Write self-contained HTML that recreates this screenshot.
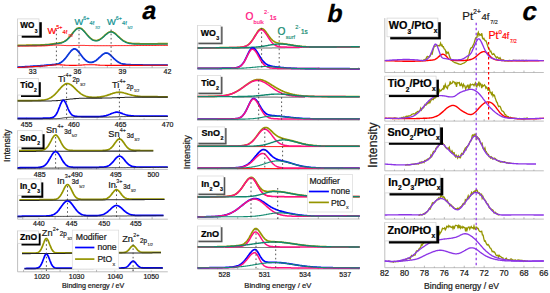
<!DOCTYPE html>
<html><head><meta charset="utf-8"><style>
html,body{margin:0;padding:0;background:#fff;overflow:hidden;}
svg{display:block;font-family:"Liberation Sans", sans-serif;}
</style></head><body>
<svg width="550" height="293" viewBox="0 0 550 293">
<rect width="550" height="293" fill="#fff"/>
<g transform="translate(141.00 18.60) skewX(-12)">
<text x="0.00" y="0.00" font-size="25" stroke="#000" stroke-width="0.22" font-weight="bold">a</text>
</g>
<g transform="translate(326.00 21.80) skewX(-12)">
<text x="0.00" y="0.00" font-size="25" stroke="#000" stroke-width="0.22" font-weight="bold">b</text>
</g>
<g transform="translate(520.90 19.60) skewX(-12)">
<text x="0.00" y="0.00" font-size="26" stroke="#000" stroke-width="0.22" font-weight="bold">c</text>
</g>
<line x1="17.60" y1="19.00" x2="17.60" y2="67.80" stroke="#b8b8b8" stroke-width="0.9"/>
<line x1="17.60" y1="67.80" x2="167.80" y2="67.80" stroke="#b8b8b8" stroke-width="0.9"/>
<line x1="40.17" y1="67.80" x2="40.17" y2="66.60" stroke="#9a9a9a" stroke-width="0.7"/>
<line x1="62.56" y1="67.80" x2="62.56" y2="65.80" stroke="#9a9a9a" stroke-width="0.7"/>
<line x1="84.95" y1="67.80" x2="84.95" y2="66.60" stroke="#9a9a9a" stroke-width="0.7"/>
<line x1="107.35" y1="67.80" x2="107.35" y2="65.80" stroke="#9a9a9a" stroke-width="0.7"/>
<line x1="129.75" y1="67.80" x2="129.75" y2="66.60" stroke="#9a9a9a" stroke-width="0.7"/>
<line x1="152.14" y1="67.80" x2="152.14" y2="65.80" stroke="#9a9a9a" stroke-width="0.7"/>
<path d="M17.6 45.3 18.4 45.3 19.1 45.3 19.9 45.2 20.6 45.2 21.4 45.2 22.1 45.2 22.9 45.2 23.6 45.2 24.4 45.2 25.1 45.2 25.9 45.2 26.6 45.1 27.4 45.1 28.1 45.1 28.9 45.1 29.6 45.1 30.4 45.1 31.1 45.1 31.9 45.1 32.6 45.0 33.4 45.0 34.1 45.0 34.9 45.0 35.6 45.0 36.4 45.0 37.1 44.9 37.9 44.9 38.6 44.9 39.4 44.9 40.1 44.9 40.9 44.8 41.6 44.8 42.4 44.8 43.1 44.8 43.9 44.7 44.6 44.7 45.4 44.6 46.1 44.6 46.9 44.5 47.6 44.4 48.4 44.4 49.1 44.3 49.9 44.2 50.6 44.1 51.4 44.0 52.1 43.9 52.9 43.8 53.6 43.7 54.4 43.6 55.2 43.5 55.9 43.4 56.7 43.3 57.4 43.2 58.2 43.1 58.9 43.0 59.7 42.8 60.4 42.7 61.2 42.5 61.9 42.3 62.7 42.0 63.4 41.7 64.2 41.3 64.9 40.9 65.7 40.4 66.4 39.9 67.2 39.2 67.9 38.5 68.7 37.8 69.4 37.0 70.2 36.1 70.9 35.2 71.7 34.2 72.4 33.3 73.2 32.3 73.9 31.4 74.7 30.6 75.4 29.8 76.2 29.1 76.9 28.5 77.7 28.1 78.4 27.9 79.2 27.8 79.9 27.9 80.7 28.1 81.4 28.5 82.2 29.1 82.9 29.8 83.7 30.5 84.4 31.4 85.2 32.2 85.9 33.1 86.7 34.1 87.4 34.9 88.2 35.8 88.9 36.6 89.7 37.3 90.4 38.0 91.2 38.6 91.9 39.2 92.7 39.6 93.5 39.9 94.2 40.2 95.0 40.3 95.7 40.4 96.5 40.4 97.2 40.3 98.0 40.1 98.7 39.8 99.5 39.5 100.2 39.0 101.0 38.5 101.7 38.0 102.5 37.3 103.2 36.7 104.0 36.0 104.7 35.3 105.5 34.6 106.2 34.0 107.0 33.4 107.7 32.8 108.5 32.3 109.2 31.9 110.0 31.7 110.7 31.5 111.5 31.5 112.2 31.7 113.0 32.0 113.7 32.4 114.5 32.8 115.2 33.4 116.0 34.1 116.7 34.8 117.5 35.5 118.2 36.2 119.0 36.9 119.7 37.6 120.5 38.3 121.2 38.9 122.0 39.5 122.7 40.1 123.5 40.6 124.2 41.0 125.0 41.4 125.7 41.8 126.5 42.1 127.2 42.4 128.0 42.6 128.7 42.8 129.5 43.0 130.3 43.1 131.0 43.2 131.8 43.3 132.5 43.4 133.3 43.4 134.0 43.5 134.8 43.5 135.5 43.6 136.3 43.6 137.0 43.6 137.8 43.6 138.5 43.6 139.3 43.6 140.0 43.7 140.8 43.7 141.5 43.7 142.3 43.7 143.0 43.7 143.8 43.7 144.5 43.7 145.3 43.7 146.0 43.7 146.8 43.7 147.5 43.7 148.3 43.7 149.0 43.7 149.8 43.7 150.5 43.7 151.3 43.7 152.0 43.7 152.8 43.7 153.5 43.7 154.3 43.7 155.0 43.7 155.8 43.7 156.5 43.7 157.3 43.7 158.0 43.6 158.8 43.6 159.5 43.6 160.3 43.6 161.0 43.6 161.8 43.6 162.5 43.6 163.3 43.6 164.0 43.6 164.8 43.6 165.5 43.6 166.3 43.6 167.0 43.6 167.8 43.6" stroke="#959500" stroke-width="1.5" fill="none"/>
<path d="M17.6 45.8 18.4 45.8 19.1 45.8 19.9 45.7 20.6 45.7 21.4 45.7 22.1 45.7 22.9 45.7 23.6 45.7 24.4 45.7 25.1 45.7 25.9 45.7 26.6 45.6 27.4 45.6 28.1 45.6 28.9 45.6 29.6 45.6 30.4 45.6 31.1 45.6 31.9 45.6 32.6 45.5 33.4 45.5 34.1 45.5 34.9 45.5 35.6 45.5 36.4 45.5 37.1 45.4 37.9 45.4 38.6 45.4 39.4 45.4 40.1 45.4 40.9 45.3 41.6 45.3 42.4 45.3 43.1 45.3 43.9 45.2 44.6 45.2 45.4 45.1 46.1 45.1 46.9 45.0 47.6 44.9 48.4 44.9 49.1 44.8 49.9 44.7 50.6 44.6 51.4 44.5 52.1 44.4 52.9 44.3 53.6 44.2 54.4 44.1 55.2 44.0 55.9 43.9 56.7 43.8 57.4 43.7 58.2 43.6 58.9 43.5 59.7 43.3 60.4 43.2 61.2 43.0 61.9 42.8 62.7 42.5 63.4 42.2 64.2 41.8 64.9 41.4 65.7 40.9 66.4 40.4 67.2 39.7 67.9 39.0 68.7 38.3 69.4 37.5 70.2 36.6 70.9 35.7 71.7 34.7 72.4 33.8 73.2 32.8 73.9 31.9 74.7 31.1 75.4 30.3 76.2 29.6 76.9 29.0 77.7 28.6 78.4 28.4 79.2 28.3 79.9 28.4 80.7 28.6 81.4 29.0 82.2 29.6 82.9 30.3 83.7 31.0 84.4 31.9 85.2 32.7 85.9 33.6 86.7 34.6 87.4 35.4 88.2 36.3 88.9 37.1 89.7 37.8 90.4 38.5 91.2 39.1 91.9 39.7 92.7 40.1 93.5 40.4 94.2 40.7 95.0 40.8 95.7 40.9 96.5 40.9 97.2 40.8 98.0 40.6 98.7 40.3 99.5 40.0 100.2 39.5 101.0 39.0 101.7 38.5 102.5 37.8 103.2 37.2 104.0 36.5 104.7 35.8 105.5 35.1 106.2 34.5 107.0 33.9 107.7 33.3 108.5 32.8 109.2 32.4 110.0 32.2 110.7 32.0 111.5 32.0 112.2 32.2 113.0 32.5 113.7 32.9 114.5 33.3 115.2 33.9 116.0 34.6 116.7 35.3 117.5 36.0 118.2 36.7 119.0 37.4 119.7 38.1 120.5 38.8 121.2 39.4 122.0 40.0 122.7 40.6 123.5 41.1 124.2 41.5 125.0 41.9 125.7 42.3 126.5 42.6 127.2 42.9 128.0 43.1 128.7 43.3 129.5 43.5 130.3 43.6 131.0 43.7 131.8 43.8 132.5 43.9 133.3 43.9 134.0 44.0 134.8 44.0 135.5 44.1 136.3 44.1 137.0 44.1 137.8 44.1 138.5 44.1 139.3 44.1 140.0 44.2 140.8 44.2 141.5 44.2 142.3 44.2 143.0 44.2 143.8 44.2 144.5 44.2 145.3 44.2 146.0 44.2 146.8 44.2 147.5 44.2 148.3 44.2 149.0 44.2 149.8 44.2 150.5 44.2 151.3 44.2 152.0 44.2 152.8 44.2 153.5 44.2 154.3 44.2 155.0 44.2 155.8 44.2 156.5 44.2 157.3 44.2 158.0 44.1 158.8 44.1 159.5 44.1 160.3 44.1 161.0 44.1 161.8 44.1 162.5 44.1 163.3 44.1 164.0 44.1 164.8 44.1 165.5 44.1 166.3 44.1 167.0 44.1 167.8 44.1" stroke="#12876e" stroke-width="1.3" fill="none"/>
<path d="M17.6 46.1 18.4 46.1 19.1 46.1 19.9 46.1 20.6 46.1 21.4 46.1 22.1 46.1 22.9 46.1 23.6 46.1 24.4 46.1 25.1 46.1 25.9 46.1 26.6 46.1 27.4 46.1 28.1 46.1 28.9 46.0 29.6 46.0 30.4 46.0 31.1 46.0 31.9 46.0 32.6 46.0 33.4 46.0 34.1 46.0 34.9 46.0 35.6 46.0 36.4 46.0 37.1 46.0 37.9 46.0 38.6 46.0 39.4 46.0 40.1 46.0 40.9 46.0 41.6 46.0 42.4 45.9 43.1 45.9 43.9 45.9 44.6 45.9 45.4 45.8 46.1 45.8 46.9 45.7 47.6 45.7 48.4 45.6 49.1 45.6 49.9 45.5 50.6 45.4 51.4 45.4 52.1 45.3 52.9 45.3 53.6 45.2 54.4 45.2 55.2 45.1 55.9 45.1 56.7 45.1 57.4 45.1 58.2 45.1 58.9 45.2 59.7 45.2 60.4 45.2 61.2 45.3 61.9 45.3 62.7 45.4 63.4 45.4 64.2 45.5 64.9 45.5 65.7 45.5 66.4 45.6 67.2 45.6 67.9 45.6 68.7 45.6 69.4 45.6 70.2 45.6 70.9 45.6 71.7 45.6 72.4 45.6 73.2 45.5 73.9 45.5 74.7 45.5 75.4 45.5 76.2 45.5 76.9 45.4 77.7 45.4 78.4 45.4 79.2 45.4 79.9 45.4 80.7 45.4 81.4 45.4 82.2 45.4 82.9 45.4 83.7 45.4 84.4 45.4 85.2 45.5 85.9 45.5 86.7 45.5 87.4 45.5 88.2 45.5 88.9 45.6 89.7 45.6 90.4 45.6 91.2 45.6 91.9 45.6 92.7 45.6 93.5 45.6 94.2 45.7 95.0 45.7 95.7 45.7 96.5 45.7 97.2 45.7 98.0 45.7 98.7 45.7 99.5 45.7 100.2 45.7 101.0 45.7 101.7 45.7 102.5 45.7 103.2 45.7 104.0 45.7 104.7 45.7 105.5 45.7 106.2 45.7 107.0 45.7 107.7 45.7 108.5 45.7 109.2 45.7 110.0 45.7 110.7 45.7 111.5 45.7 112.2 45.7 113.0 45.7 113.7 45.7 114.5 45.6 115.2 45.6 116.0 45.6 116.7 45.6 117.5 45.6 118.2 45.6 119.0 45.6 119.7 45.6 120.5 45.6 121.2 45.6 122.0 45.6 122.7 45.6 123.5 45.6 124.2 45.6 125.0 45.6 125.7 45.6 126.5 45.6 127.2 45.6 128.0 45.6 128.7 45.6 129.5 45.6 130.3 45.6 131.0 45.6 131.8 45.6 132.5 45.6 133.3 45.6 134.0 45.6 134.8 45.6 135.5 45.6 136.3 45.5 137.0 45.5 137.8 45.5 138.5 45.5 139.3 45.5 140.0 45.5 140.8 45.5 141.5 45.5 142.3 45.5 143.0 45.5 143.8 45.5 144.5 45.5 145.3 45.5 146.0 45.5 146.8 45.5 147.5 45.5 148.3 45.5 149.0 45.5 149.8 45.5 150.5 45.5 151.3 45.5 152.0 45.5 152.8 45.5 153.5 45.5 154.3 45.5 155.0 45.5 155.8 45.5 156.5 45.5 157.3 45.4 158.0 45.4 158.8 45.4 159.5 45.4 160.3 45.4 161.0 45.4 161.8 45.4 162.5 45.4 163.3 45.4 164.0 45.4 164.8 45.4 165.5 45.4 166.3 45.4 167.0 45.4 167.8 45.4" stroke="#ff0000" stroke-width="1.0" fill="none"/>
<path d="M17.6 67.2 18.4 67.1 19.1 67.1 19.9 67.1 20.6 67.0 21.4 67.0 22.1 66.9 22.9 66.9 23.6 66.8 24.4 66.8 25.1 66.7 25.9 66.7 26.6 66.6 27.4 66.6 28.1 66.5 28.9 66.5 29.6 66.5 30.4 66.4 31.1 66.4 31.9 66.3 32.6 66.3 33.4 66.2 34.1 66.2 34.9 66.1 35.6 66.1 36.4 66.0 37.1 66.0 37.9 65.9 38.6 65.9 39.4 65.8 40.1 65.8 40.9 65.7 41.6 65.6 42.4 65.6 43.1 65.5 43.9 65.5 44.6 65.4 45.4 65.4 46.1 65.3 46.9 65.2 47.6 65.2 48.4 65.1 49.1 65.1 49.9 65.0 50.6 64.9 51.4 64.8 52.1 64.7 52.9 64.7 53.6 64.6 54.4 64.5 55.2 64.4 55.9 64.3 56.7 64.2 57.4 64.0 58.2 63.7 58.9 63.5 59.7 63.1 60.4 62.8 61.2 62.3 61.9 61.8 62.7 61.2 63.4 60.5 64.2 59.7 64.9 58.9 65.7 58.0 66.4 57.1 67.2 56.0 67.9 55.0 68.7 54.0 69.4 52.9 70.2 52.0 70.9 51.1 71.7 50.3 72.4 49.7 73.2 49.2 73.9 48.9 74.7 48.9 75.4 49.1 76.2 49.5 76.9 50.0 77.7 50.8 78.4 51.6 79.2 52.5 79.9 53.5 80.7 54.5 81.4 55.6 82.2 56.5 82.9 57.5 83.7 58.4 84.4 59.2 85.2 59.9 85.9 60.5 86.7 61.1 87.4 61.5 88.2 61.9 88.9 62.1 89.7 62.3 90.4 62.4 91.2 62.4 91.9 62.3 92.7 62.1 93.5 61.9 94.2 61.5 95.0 61.1 95.7 60.7 96.5 60.1 97.2 59.5 98.0 58.9 98.7 58.2 99.5 57.5 100.2 56.8 101.0 56.0 101.7 55.4 102.5 54.7 103.2 54.1 104.0 53.7 104.7 53.3 105.5 53.1 106.2 53.0 107.0 53.1 107.7 53.3 108.5 53.6 109.2 54.1 110.0 54.7 110.7 55.3 111.5 56.0 112.2 56.8 113.0 57.5 113.7 58.3 114.5 59.0 115.2 59.7 116.0 60.3 116.7 60.9 117.5 61.5 118.2 62.0 119.0 62.4 119.7 62.8 120.5 63.2 121.2 63.5 122.0 63.7 122.7 63.9 123.5 64.1 124.2 64.2 125.0 64.3 125.7 64.4 126.5 64.5 127.2 64.6 128.0 64.6 128.7 64.7 129.5 64.7 130.3 64.7 131.0 64.8 131.8 64.8 132.5 64.8 133.3 64.8 134.0 64.8 134.8 64.9 135.5 64.9 136.3 64.9 137.0 64.9 137.8 64.9 138.5 64.9 139.3 64.9 140.0 64.9 140.8 64.9 141.5 64.9 142.3 64.9 143.0 65.0 143.8 65.0 144.5 65.0 145.3 65.0 146.0 65.0 146.8 65.0 147.5 65.0 148.3 65.0 149.0 65.0 149.8 65.0 150.5 65.0 151.3 65.0 152.0 65.0 152.8 65.0 153.5 65.0 154.3 65.0 155.0 65.0 155.8 65.0 156.5 65.0 157.3 65.0 158.0 65.0 158.8 65.0 159.5 65.0 160.3 65.0 161.0 65.0 161.8 65.0 162.5 65.0 163.3 65.0 164.0 65.0 164.8 65.0 165.5 65.0 166.3 65.0 167.0 65.0 167.8 65.0" stroke="#0000ff" stroke-width="1.7" fill="none"/>
<path d="M17.6 67.2 18.4 67.1 19.1 67.1 19.9 67.1 20.6 67.0 21.4 67.0 22.1 66.9 22.9 66.9 23.6 66.8 24.4 66.8 25.1 66.7 25.9 66.7 26.6 66.6 27.4 66.6 28.1 66.5 28.9 66.5 29.6 66.5 30.4 66.4 31.1 66.4 31.9 66.3 32.6 66.3 33.4 66.2 34.1 66.2 34.9 66.1 35.6 66.1 36.4 66.0 37.1 66.0 37.9 65.9 38.6 65.9 39.4 65.8 40.1 65.8 40.9 65.7 41.6 65.6 42.4 65.6 43.1 65.5 43.9 65.5 44.6 65.4 45.4 65.4 46.1 65.3 46.9 65.2 47.6 65.2 48.4 65.1 49.1 65.1 49.9 65.0 50.6 64.9 51.4 64.8 52.1 64.7 52.9 64.7 53.6 64.6 54.4 64.5 55.2 64.4 55.9 64.3 56.7 64.2 57.4 64.0 58.2 63.7 58.9 63.5 59.7 63.1 60.4 62.8 61.2 62.3 61.9 61.8 62.7 61.2 63.4 60.5 64.2 59.7 64.9 58.9 65.7 58.0 66.4 57.1 67.2 56.0 67.9 55.0 68.7 54.0 69.4 52.9 70.2 52.0 70.9 51.1 71.7 50.3 72.4 49.7 73.2 49.2 73.9 48.9 74.7 48.9 75.4 49.1 76.2 49.5 76.9 50.0 77.7 50.8 78.4 51.6 79.2 52.5 79.9 53.5 80.7 54.5 81.4 55.6 82.2 56.5 82.9 57.5 83.7 58.4 84.4 59.2 85.2 59.9 85.9 60.5 86.7 61.1 87.4 61.5 88.2 61.9 88.9 62.1 89.7 62.3 90.4 62.4 91.2 62.4 91.9 62.3 92.7 62.1 93.5 61.9 94.2 61.5 95.0 61.1 95.7 60.7 96.5 60.1 97.2 59.5 98.0 58.9 98.7 58.2 99.5 57.5 100.2 56.8 101.0 56.0 101.7 55.4 102.5 54.7 103.2 54.1 104.0 53.7 104.7 53.3 105.5 53.1 106.2 53.0 107.0 53.1 107.7 53.3 108.5 53.6 109.2 54.1 110.0 54.7 110.7 55.3 111.5 56.0 112.2 56.8 113.0 57.5 113.7 58.3 114.5 59.0 115.2 59.7 116.0 60.3 116.7 60.9 117.5 61.5 118.2 62.0 119.0 62.4 119.7 62.8 120.5 63.2 121.2 63.5 122.0 63.7 122.7 63.9 123.5 64.1 124.2 64.2 125.0 64.3 125.7 64.4 126.5 64.5 127.2 64.6 128.0 64.6 128.7 64.7 129.5 64.7 130.3 64.7 131.0 64.8 131.8 64.8 132.5 64.8 133.3 64.8 134.0 64.8 134.8 64.9 135.5 64.9 136.3 64.9 137.0 64.9 137.8 64.9 138.5 64.9 139.3 64.9 140.0 64.9 140.8 64.9 141.5 64.9 142.3 64.9 143.0 65.0 143.8 65.0 144.5 65.0 145.3 65.0 146.0 65.0 146.8 65.0 147.5 65.0 148.3 65.0 149.0 65.0 149.8 65.0 150.5 65.0 151.3 65.0 152.0 65.0 152.8 65.0 153.5 65.0 154.3 65.0 155.0 65.0 155.8 65.0 156.5 65.0 157.3 65.0 158.0 65.0 158.8 65.0 159.5 65.0 160.3 65.0 161.0 65.0 161.8 65.0 162.5 65.0 163.3 65.0 164.0 65.0 164.8 65.0 165.5 65.0 166.3 65.0 167.0 65.0 167.8 65.0" stroke="#0d9090" stroke-width="0.7" fill="none"/>
<path d="M17.6 67.5 18.4 67.5 19.1 67.4 19.9 67.4 20.6 67.3 21.4 67.3 22.1 67.2 22.9 67.2 23.6 67.2 24.4 67.1 25.1 67.1 25.9 67.0 26.6 67.0 27.4 66.9 28.1 66.9 28.9 66.9 29.6 66.8 30.4 66.8 31.1 66.7 31.9 66.7 32.6 66.6 33.4 66.6 34.1 66.6 34.9 66.5 35.6 66.5 36.4 66.4 37.1 66.4 37.9 66.3 38.6 66.3 39.4 66.2 40.1 66.2 40.9 66.2 41.6 66.1 42.4 66.1 43.1 66.0 43.9 66.0 44.6 65.9 45.4 65.8 46.1 65.8 46.9 65.7 47.6 65.6 48.4 65.5 49.1 65.5 49.9 65.4 50.6 65.3 51.4 65.2 52.1 65.1 52.9 65.0 53.6 65.0 54.4 64.9 55.2 64.9 55.9 64.9 56.7 64.8 57.4 64.8 58.2 64.8 58.9 64.8 59.7 64.8 60.4 64.9 61.2 64.9 61.9 64.9 62.7 65.0 63.4 65.0 64.2 65.1 64.9 65.1 65.7 65.2 66.4 65.2 67.2 65.3 67.9 65.3 68.7 65.3 69.4 65.4 70.2 65.4 70.9 65.4 71.7 65.4 72.4 65.4 73.2 65.4 73.9 65.4 74.7 65.4 75.4 65.4 76.2 65.4 76.9 65.3 77.7 65.3 78.4 65.3 79.2 65.2 79.9 65.2 80.7 65.1 81.4 65.1 82.2 65.0 82.9 65.0 83.7 64.9 84.4 64.9 85.2 64.8 85.9 64.8 86.7 64.7 87.4 64.7 88.2 64.7 88.9 64.7 89.7 64.7 90.4 64.7 91.2 64.7 91.9 64.7 92.7 64.7 93.5 64.7 94.2 64.8 95.0 64.8 95.7 64.9 96.5 64.9 97.2 65.0 98.0 65.0 98.7 65.1 99.5 65.1 100.2 65.2 101.0 65.2 101.7 65.2 102.5 65.3 103.2 65.3 104.0 65.3 104.7 65.3 105.5 65.4 106.2 65.4 107.0 65.4 107.7 65.4 108.5 65.4 109.2 65.4 110.0 65.4 110.7 65.4 111.5 65.4 112.2 65.4 113.0 65.4 113.7 65.4 114.5 65.4 115.2 65.4 116.0 65.4 116.7 65.4 117.5 65.4 118.2 65.4 119.0 65.4 119.7 65.4 120.5 65.4 121.2 65.4 122.0 65.4 122.7 65.4 123.5 65.4 124.2 65.4 125.0 65.4 125.7 65.4 126.5 65.4 127.2 65.4 128.0 65.4 128.7 65.4 129.5 65.4 130.3 65.4 131.0 65.4 131.8 65.4 132.5 65.4 133.3 65.4 134.0 65.4 134.8 65.4 135.5 65.4 136.3 65.4 137.0 65.4 137.8 65.4 138.5 65.4 139.3 65.4 140.0 65.4 140.8 65.4 141.5 65.4 142.3 65.4 143.0 65.3 143.8 65.3 144.5 65.3 145.3 65.3 146.0 65.3 146.8 65.3 147.5 65.3 148.3 65.3 149.0 65.3 149.8 65.3 150.5 65.3 151.3 65.3 152.0 65.3 152.8 65.3 153.5 65.3 154.3 65.3 155.0 65.3 155.8 65.3 156.5 65.3 157.3 65.3 158.0 65.3 158.8 65.3 159.5 65.3 160.3 65.3 161.0 65.3 161.8 65.3 162.5 65.3 163.3 65.3 164.0 65.3 164.8 65.3 165.5 65.3 166.3 65.3 167.0 65.3 167.8 65.3" stroke="#ff0000" stroke-width="1.1" fill="none"/>
<line x1="56.40" y1="29.50" x2="56.40" y2="67.50" stroke="#444444" stroke-width="0.9" stroke-dasharray="1.6,2.6"/>
<line x1="79.00" y1="29.50" x2="79.00" y2="67.50" stroke="#444444" stroke-width="0.9" stroke-dasharray="1.6,2.6"/>
<line x1="111.10" y1="29.50" x2="111.10" y2="67.50" stroke="#444444" stroke-width="0.9" stroke-dasharray="1.6,2.6"/>
<text x="32.70" y="74.20" font-size="7.0" fill="#1a1a1a" stroke="#1a1a1a" stroke-width="0.22" text-anchor="middle">33</text>
<text x="77.50" y="74.20" font-size="7.0" fill="#1a1a1a" stroke="#1a1a1a" stroke-width="0.22" text-anchor="middle">36</text>
<text x="122.40" y="74.20" font-size="7.0" fill="#1a1a1a" stroke="#1a1a1a" stroke-width="0.22" text-anchor="middle">39</text>
<text x="167.50" y="74.20" font-size="7.0" fill="#1a1a1a" stroke="#1a1a1a" stroke-width="0.22" text-anchor="middle">42</text>
<text x="47.40" y="33.60" font-size="9.4" fill="#ff0000" stroke="#ff0000" stroke-width="0.22">W</text>
<text x="56.27" y="28.70" font-size="5.4" fill="#ff0000" stroke="#ff0000" stroke-width="0.13">5+</text>
<text x="62.53" y="33.60" font-size="5.7" fill="#ff0000" stroke="#ff0000" stroke-width="0.13">4f</text>
<text x="67.88" y="37.40" font-size="3.8" fill="#ff0000" stroke="#ff0000" stroke-width="0.13">7/2</text>
<text x="74.40" y="24.70" font-size="9.4" fill="#0d9090" stroke="#0d9090" stroke-width="0.22">W</text>
<text x="83.27" y="19.80" font-size="5.4" fill="#0d9090" stroke="#0d9090" stroke-width="0.13">6+</text>
<text x="89.53" y="24.70" font-size="5.7" fill="#0d9090" stroke="#0d9090" stroke-width="0.13">4f</text>
<text x="94.88" y="28.50" font-size="3.8" fill="#0d9090" stroke="#0d9090" stroke-width="0.13">7/2</text>
<text x="106.90" y="24.80" font-size="9.4" fill="#0d9090" stroke="#0d9090" stroke-width="0.22">W</text>
<text x="115.77" y="19.90" font-size="5.4" fill="#0d9090" stroke="#0d9090" stroke-width="0.13">6+</text>
<text x="122.03" y="24.80" font-size="5.7" fill="#0d9090" stroke="#0d9090" stroke-width="0.13">4f</text>
<text x="127.38" y="28.60" font-size="3.8" fill="#0d9090" stroke="#0d9090" stroke-width="0.13">5/2</text>
<rect x="21.70" y="22.20" width="20.10" height="15.50" fill="#000"/>
<rect x="17.60" y="18.90" width="21.40" height="16.40" fill="#fff" stroke="#d0d0d0" stroke-width="0.7"/>
<text x="20.30" y="28.30" font-size="8.2" stroke="#000" stroke-width="0.22" font-weight="bold">WO</text>
<text x="34.82" y="32.50" font-size="5.0" stroke="#000" stroke-width="0.13" font-weight="bold">3</text>
<line x1="17.60" y1="78.60" x2="17.60" y2="119.60" stroke="#b8b8b8" stroke-width="0.9"/>
<line x1="17.60" y1="119.60" x2="167.80" y2="119.60" stroke="#b8b8b8" stroke-width="0.9"/>
<line x1="26.60" y1="119.60" x2="26.60" y2="117.60" stroke="#9a9a9a" stroke-width="0.7"/>
<line x1="50.10" y1="119.60" x2="50.10" y2="118.40" stroke="#9a9a9a" stroke-width="0.7"/>
<line x1="73.60" y1="119.60" x2="73.60" y2="117.60" stroke="#9a9a9a" stroke-width="0.7"/>
<line x1="97.10" y1="119.60" x2="97.10" y2="118.40" stroke="#9a9a9a" stroke-width="0.7"/>
<line x1="120.60" y1="119.60" x2="120.60" y2="117.60" stroke="#9a9a9a" stroke-width="0.7"/>
<line x1="144.10" y1="119.60" x2="144.10" y2="118.40" stroke="#9a9a9a" stroke-width="0.7"/>
<path d="M17.6 100.6 18.4 100.6 19.1 100.6 19.9 100.6 20.6 100.6 21.4 100.6 22.1 100.6 22.9 100.6 23.6 100.6 24.4 100.6 25.1 100.6 25.9 100.6 26.6 100.6 27.4 100.6 28.1 100.6 28.9 100.6 29.6 100.6 30.4 100.6 31.1 100.6 31.9 100.6 32.6 100.5 33.4 100.5 34.1 100.5 34.9 100.5 35.6 100.5 36.4 100.5 37.1 100.5 37.9 100.5 38.6 100.4 39.4 100.4 40.1 100.4 40.9 100.3 41.6 100.2 42.4 100.2 43.1 100.1 43.9 100.0 44.6 99.9 45.4 99.7 46.1 99.5 46.9 99.3 47.6 99.1 48.4 98.8 49.1 98.5 49.9 98.1 50.6 97.7 51.4 97.2 52.1 96.7 52.9 96.2 53.6 95.5 54.4 94.8 55.2 94.1 55.9 93.3 56.7 92.5 57.4 91.7 58.2 90.8 58.9 89.9 59.7 89.1 60.4 88.2 61.2 87.4 61.9 86.6 62.7 85.9 63.4 85.3 64.2 84.7 64.9 84.3 65.7 83.9 66.4 83.7 67.2 83.6 67.9 83.6 68.7 83.8 69.4 84.0 70.2 84.4 70.9 84.8 71.7 85.4 72.4 86.0 73.2 86.7 73.9 87.4 74.7 88.1 75.4 88.9 76.2 89.6 76.9 90.3 77.7 91.1 78.4 91.7 79.2 92.4 79.9 93.0 80.7 93.6 81.4 94.1 82.2 94.6 82.9 95.0 83.7 95.4 84.4 95.7 85.2 96.0 85.9 96.3 86.7 96.5 87.4 96.7 88.2 96.8 88.9 97.0 89.7 97.1 90.4 97.2 91.2 97.2 91.9 97.3 92.7 97.3 93.5 97.3 94.2 97.3 95.0 97.3 95.7 97.3 96.5 97.3 97.2 97.2 98.0 97.2 98.7 97.1 99.5 97.0 100.2 96.9 101.0 96.8 101.7 96.7 102.5 96.6 103.2 96.4 104.0 96.2 104.7 96.0 105.5 95.8 106.2 95.6 107.0 95.4 107.7 95.1 108.5 94.9 109.2 94.6 110.0 94.4 110.7 94.1 111.5 93.8 112.2 93.6 113.0 93.3 113.7 93.1 114.5 92.9 115.2 92.7 116.0 92.5 116.7 92.4 117.5 92.3 118.2 92.3 119.0 92.2 119.7 92.2 120.5 92.3 121.2 92.4 122.0 92.5 122.7 92.6 123.5 92.8 124.2 93.0 125.0 93.2 125.7 93.4 126.5 93.6 127.2 93.8 128.0 94.1 128.7 94.3 129.5 94.5 130.3 94.7 131.0 94.9 131.8 95.1 132.5 95.3 133.3 95.5 134.0 95.6 134.8 95.8 135.5 95.9 136.3 96.0 137.0 96.1 137.8 96.2 138.5 96.3 139.3 96.4 140.0 96.4 140.8 96.5 141.5 96.5 142.3 96.6 143.0 96.6 143.8 96.6 144.5 96.6 145.3 96.7 146.0 96.7 146.8 96.7 147.5 96.7 148.3 96.7 149.0 96.7 149.8 96.7 150.5 96.7 151.3 96.7 152.0 96.7 152.8 96.7 153.5 96.7 154.3 96.7 155.0 96.7 155.8 96.7 156.5 96.7 157.3 96.7 158.0 96.8 158.8 96.8 159.5 96.8 160.3 96.8 161.0 96.8 161.8 96.8 162.5 96.8 163.3 96.8 164.0 96.8 164.8 96.8 165.5 96.8 166.3 96.8 167.0 96.8 167.8 96.8" stroke="#959500" stroke-width="1.7" fill="none"/>
<path d="M17.6 101.0 18.4 101.0 19.1 101.0 19.9 101.0 20.6 101.0 21.4 101.0 22.1 101.0 22.9 101.0 23.6 101.0 24.4 101.0 25.1 101.0 25.9 101.0 26.6 101.0 27.4 101.0 28.1 101.0 28.9 101.0 29.6 101.0 30.4 101.0 31.1 101.0 31.9 101.0 32.6 101.0 33.4 101.0 34.1 101.0 34.9 101.0 35.6 101.0 36.4 101.0 37.1 101.0 37.9 101.0 38.6 101.0 39.4 101.0 40.1 101.0 40.9 101.0 41.6 101.0 42.4 101.0 43.1 101.0 43.9 101.0 44.6 101.0 45.4 101.0 46.1 100.9 46.9 100.9 47.6 100.9 48.4 100.9 49.1 100.9 49.9 100.9 50.6 100.9 51.4 100.9 52.1 100.8 52.9 100.8 53.6 100.8 54.4 100.7 55.2 100.7 55.9 100.7 56.7 100.6 57.4 100.6 58.2 100.5 58.9 100.4 59.7 100.4 60.4 100.3 61.2 100.2 61.9 100.1 62.7 100.1 63.4 100.0 64.2 99.9 64.9 99.8 65.7 99.7 66.4 99.6 67.2 99.5 67.9 99.4 68.7 99.3 69.4 99.2 70.2 99.1 70.9 99.0 71.7 98.9 72.4 98.9 73.2 98.8 73.9 98.7 74.7 98.6 75.4 98.6 76.2 98.5 76.9 98.5 77.7 98.4 78.4 98.4 79.2 98.3 79.9 98.3 80.7 98.3 81.4 98.3 82.2 98.2 82.9 98.2 83.7 98.2 84.4 98.2 85.2 98.2 85.9 98.2 86.7 98.1 87.4 98.1 88.2 98.1 88.9 98.1 89.7 98.1 90.4 98.1 91.2 98.1 91.9 98.1 92.7 98.1 93.5 98.1 94.2 98.1 95.0 98.1 95.7 98.1 96.5 98.1 97.2 98.1 98.0 98.1 98.7 98.1 99.5 98.1 100.2 98.1 101.0 98.1 101.7 98.1 102.5 98.0 103.2 98.0 104.0 98.0 104.7 98.0 105.5 98.0 106.2 98.0 107.0 98.0 107.7 98.0 108.5 98.0 109.2 97.9 110.0 97.9 110.7 97.9 111.5 97.9 112.2 97.8 113.0 97.8 113.7 97.8 114.5 97.8 115.2 97.7 116.0 97.7 116.7 97.7 117.5 97.6 118.2 97.6 119.0 97.6 119.7 97.5 120.5 97.5 121.2 97.5 122.0 97.5 122.7 97.4 123.5 97.4 124.2 97.4 125.0 97.3 125.7 97.3 126.5 97.3 127.2 97.3 128.0 97.3 128.7 97.2 129.5 97.2 130.3 97.2 131.0 97.2 131.8 97.2 132.5 97.2 133.3 97.2 134.0 97.2 134.8 97.2 135.5 97.1 136.3 97.1 137.0 97.1 137.8 97.1 138.5 97.1 139.3 97.1 140.0 97.1 140.8 97.1 141.5 97.1 142.3 97.1 143.0 97.1 143.8 97.1 144.5 97.1 145.3 97.1 146.0 97.1 146.8 97.1 147.5 97.1 148.3 97.1 149.0 97.1 149.8 97.1 150.5 97.1 151.3 97.1 152.0 97.1 152.8 97.1 153.5 97.1 154.3 97.1 155.0 97.1 155.8 97.1 156.5 97.1 157.3 97.1 158.0 97.1 158.8 97.1 159.5 97.1 160.3 97.1 161.0 97.1 161.8 97.1 162.5 97.1 163.3 97.1 164.0 97.1 164.8 97.1 165.5 97.1 166.3 97.1 167.0 97.1 167.8 97.1" stroke="#262626" stroke-width="1.05" fill="none"/>
<path d="M17.6 118.4 18.4 118.4 19.1 118.4 19.9 118.4 20.6 118.4 21.4 118.4 22.1 118.4 22.9 118.4 23.6 118.4 24.4 118.4 25.1 118.4 25.9 118.4 26.6 118.4 27.4 118.3 28.1 118.3 28.9 118.3 29.6 118.3 30.4 118.3 31.1 118.3 31.9 118.3 32.6 118.3 33.4 118.3 34.1 118.3 34.9 118.3 35.6 118.3 36.4 118.3 37.1 118.3 37.9 118.3 38.6 118.3 39.4 118.3 40.1 118.3 40.9 118.3 41.6 118.3 42.4 118.3 43.1 118.2 43.9 118.2 44.6 118.2 45.4 118.2 46.1 118.2 46.9 118.2 47.6 118.1 48.4 118.1 49.1 118.1 49.9 118.0 50.6 117.9 51.4 117.8 52.1 117.6 52.9 117.4 53.6 117.0 54.4 116.4 55.2 115.7 55.9 114.7 56.7 113.5 57.4 112.1 58.2 110.3 58.9 108.4 59.7 106.5 60.4 104.5 61.2 102.8 61.9 101.4 62.7 100.5 63.4 100.2 64.2 100.6 64.9 101.6 65.7 103.0 66.4 104.7 67.2 106.5 67.9 108.3 68.7 110.0 69.4 111.5 70.2 112.8 70.9 113.8 71.7 114.6 72.4 115.2 73.2 115.6 73.9 115.9 74.7 116.1 75.4 116.3 76.2 116.4 76.9 116.4 77.7 116.5 78.4 116.5 79.2 116.5 79.9 116.5 80.7 116.5 81.4 116.6 82.2 116.6 82.9 116.6 83.7 116.6 84.4 116.6 85.2 116.6 85.9 116.6 86.7 116.6 87.4 116.6 88.2 116.6 88.9 116.6 89.7 116.6 90.4 116.6 91.2 116.6 91.9 116.6 92.7 116.6 93.5 116.6 94.2 116.6 95.0 116.6 95.7 116.6 96.5 116.6 97.2 116.6 98.0 116.6 98.7 116.6 99.5 116.5 100.2 116.5 101.0 116.4 101.7 116.4 102.5 116.3 103.2 116.2 104.0 116.1 104.7 115.9 105.5 115.8 106.2 115.6 107.0 115.3 107.7 115.1 108.5 114.8 109.2 114.5 110.0 114.2 110.7 113.9 111.5 113.6 112.2 113.2 113.0 113.0 113.7 112.7 114.5 112.5 115.2 112.3 116.0 112.2 116.7 112.2 117.5 112.2 118.2 112.3 119.0 112.4 119.7 112.6 120.5 112.9 121.2 113.1 122.0 113.4 122.7 113.7 123.5 114.0 124.2 114.2 125.0 114.5 125.7 114.7 126.5 115.0 127.2 115.2 128.0 115.3 128.7 115.5 129.5 115.6 130.3 115.7 131.0 115.8 131.8 115.8 132.5 115.9 133.3 115.9 134.0 116.0 134.8 116.0 135.5 116.0 136.3 116.0 137.0 116.0 137.8 116.0 138.5 116.0 139.3 116.1 140.0 116.1 140.8 116.1 141.5 116.1 142.3 116.1 143.0 116.1 143.8 116.1 144.5 116.1 145.3 116.1 146.0 116.1 146.8 116.1 147.5 116.1 148.3 116.1 149.0 116.1 149.8 116.1 150.5 116.1 151.3 116.1 152.0 116.1 152.8 116.1 153.5 116.1 154.3 116.1 155.0 116.1 155.8 116.1 156.5 116.1 157.3 116.1 158.0 116.1 158.8 116.1 159.5 116.1 160.3 116.1 161.0 116.1 161.8 116.1 162.5 116.1 163.3 116.1 164.0 116.1 164.8 116.1 165.5 116.1 166.3 116.1 167.0 116.1 167.8 116.1" stroke="#0000ff" stroke-width="1.7" fill="none"/>
<path d="M17.6 118.8 18.4 118.8 19.1 118.8 19.9 118.8 20.6 118.8 21.4 118.8 22.1 118.8 22.9 118.8 23.6 118.8 24.4 118.8 25.1 118.8 25.9 118.8 26.6 118.8 27.4 118.8 28.1 118.8 28.9 118.8 29.6 118.8 30.4 118.8 31.1 118.8 31.9 118.8 32.6 118.8 33.4 118.8 34.1 118.8 34.9 118.8 35.6 118.8 36.4 118.8 37.1 118.8 37.9 118.8 38.6 118.8 39.4 118.8 40.1 118.8 40.9 118.8 41.6 118.8 42.4 118.8 43.1 118.8 43.9 118.8 44.6 118.8 45.4 118.8 46.1 118.8 46.9 118.8 47.6 118.8 48.4 118.8 49.1 118.8 49.9 118.8 50.6 118.8 51.4 118.8 52.1 118.8 52.9 118.8 53.6 118.7 54.4 118.7 55.2 118.7 55.9 118.7 56.7 118.7 57.4 118.6 58.2 118.6 58.9 118.5 59.7 118.5 60.4 118.4 61.2 118.3 61.9 118.2 62.7 118.0 63.4 117.9 64.2 117.8 64.9 117.7 65.7 117.6 66.4 117.5 67.2 117.4 67.9 117.4 68.7 117.3 69.4 117.3 70.2 117.2 70.9 117.2 71.7 117.2 72.4 117.2 73.2 117.2 73.9 117.2 74.7 117.2 75.4 117.2 76.2 117.2 76.9 117.1 77.7 117.1 78.4 117.1 79.2 117.1 79.9 117.1 80.7 117.1 81.4 117.1 82.2 117.1 82.9 117.1 83.7 117.1 84.4 117.1 85.2 117.1 85.9 117.1 86.7 117.1 87.4 117.1 88.2 117.1 88.9 117.1 89.7 117.1 90.4 117.1 91.2 117.1 91.9 117.1 92.7 117.1 93.5 117.1 94.2 117.1 95.0 117.1 95.7 117.1 96.5 117.1 97.2 117.1 98.0 117.1 98.7 117.1 99.5 117.1 100.2 117.1 101.0 117.1 101.7 117.1 102.5 117.1 103.2 117.1 104.0 117.1 104.7 117.1 105.5 117.1 106.2 117.1 107.0 117.1 107.7 117.1 108.5 117.1 109.2 117.0 110.0 117.0 110.7 117.0 111.5 117.0 112.2 117.0 113.0 116.9 113.7 116.9 114.5 116.9 115.2 116.9 116.0 116.8 116.7 116.8 117.5 116.8 118.2 116.7 119.0 116.7 119.7 116.7 120.5 116.7 121.2 116.6 122.0 116.6 122.7 116.6 123.5 116.6 124.2 116.6 125.0 116.6 125.7 116.6 126.5 116.5 127.2 116.5 128.0 116.5 128.7 116.5 129.5 116.5 130.3 116.5 131.0 116.5 131.8 116.5 132.5 116.5 133.3 116.5 134.0 116.5 134.8 116.5 135.5 116.5 136.3 116.5 137.0 116.5 137.8 116.5 138.5 116.5 139.3 116.5 140.0 116.5 140.8 116.5 141.5 116.5 142.3 116.5 143.0 116.5 143.8 116.5 144.5 116.5 145.3 116.5 146.0 116.5 146.8 116.5 147.5 116.5 148.3 116.5 149.0 116.5 149.8 116.5 150.5 116.5 151.3 116.5 152.0 116.5 152.8 116.5 153.5 116.5 154.3 116.5 155.0 116.5 155.8 116.5 156.5 116.5 157.3 116.5 158.0 116.5 158.8 116.5 159.5 116.5 160.3 116.5 161.0 116.5 161.8 116.5 162.5 116.5 163.3 116.5 164.0 116.5 164.8 116.5 165.5 116.5 166.3 116.5 167.0 116.5 167.8 116.5" stroke="#262626" stroke-width="0.95" fill="none"/>
<line x1="66.60" y1="84.00" x2="66.60" y2="119.50" stroke="#444444" stroke-width="0.9" stroke-dasharray="1.6,2.6"/>
<line x1="119.40" y1="89.00" x2="119.40" y2="119.50" stroke="#444444" stroke-width="0.9" stroke-dasharray="1.6,2.6"/>
<text x="26.60" y="126.80" font-size="7.0" fill="#1a1a1a" stroke="#1a1a1a" stroke-width="0.22" text-anchor="middle">455</text>
<text x="73.80" y="126.80" font-size="7.0" fill="#1a1a1a" stroke="#1a1a1a" stroke-width="0.22" text-anchor="middle">460</text>
<text x="120.60" y="126.80" font-size="7.0" fill="#1a1a1a" stroke="#1a1a1a" stroke-width="0.22" text-anchor="middle">465</text>
<text x="167.60" y="126.80" font-size="7.0" fill="#1a1a1a" stroke="#1a1a1a" stroke-width="0.22" text-anchor="middle">470</text>
<text x="58.00" y="81.90" font-size="9.2" fill="#1a1a1a" stroke="#1a1a1a" stroke-width="0.22">Ti</text>
<text x="65.62" y="76.50" font-size="5.4" fill="#1a1a1a" stroke="#1a1a1a" stroke-width="0.13">4+</text>
<text x="72.48" y="82.20" font-size="6.3" fill="#1a1a1a" stroke="#1a1a1a" stroke-width="0.22">2p</text>
<text x="79.99" y="85.80" font-size="3.8" fill="#1a1a1a" stroke="#1a1a1a" stroke-width="0.13">3/2</text>
<text x="112.00" y="88.40" font-size="9.2" fill="#1a1a1a" stroke="#1a1a1a" stroke-width="0.22">Ti</text>
<text x="119.62" y="83.00" font-size="5.4" fill="#1a1a1a" stroke="#1a1a1a" stroke-width="0.13">4+</text>
<text x="126.48" y="88.70" font-size="6.3" fill="#1a1a1a" stroke="#1a1a1a" stroke-width="0.22">2p</text>
<text x="133.99" y="92.30" font-size="3.8" fill="#1a1a1a" stroke="#1a1a1a" stroke-width="0.13">1/2</text>
<rect x="21.00" y="82.20" width="19.80" height="14.80" fill="#000"/>
<rect x="17.60" y="78.60" width="20.70" height="16.40" fill="#fff" stroke="#d0d0d0" stroke-width="0.7"/>
<text x="20.30" y="88.30" font-size="8.2" stroke="#000" stroke-width="0.22" font-weight="bold">TiO</text>
<text x="34.12" y="91.90" font-size="5.0" stroke="#000" stroke-width="0.13" font-weight="bold">2</text>
<line x1="17.60" y1="130.70" x2="17.60" y2="169.40" stroke="#b8b8b8" stroke-width="0.9"/>
<line x1="17.60" y1="169.40" x2="167.80" y2="169.40" stroke="#b8b8b8" stroke-width="0.9"/>
<line x1="20.78" y1="169.40" x2="20.78" y2="167.40" stroke="#9a9a9a" stroke-width="0.7"/>
<line x1="39.70" y1="169.40" x2="39.70" y2="168.20" stroke="#9a9a9a" stroke-width="0.7"/>
<line x1="58.62" y1="169.40" x2="58.62" y2="167.40" stroke="#9a9a9a" stroke-width="0.7"/>
<line x1="77.55" y1="169.40" x2="77.55" y2="168.20" stroke="#9a9a9a" stroke-width="0.7"/>
<line x1="96.48" y1="169.40" x2="96.48" y2="167.40" stroke="#9a9a9a" stroke-width="0.7"/>
<line x1="115.40" y1="169.40" x2="115.40" y2="168.20" stroke="#9a9a9a" stroke-width="0.7"/>
<line x1="134.32" y1="169.40" x2="134.32" y2="167.40" stroke="#9a9a9a" stroke-width="0.7"/>
<line x1="153.25" y1="169.40" x2="153.25" y2="168.20" stroke="#9a9a9a" stroke-width="0.7"/>
<path d="M19.0 150.7 19.8 150.7 20.5 150.7 21.3 150.7 22.0 150.7 22.8 150.7 23.5 150.7 24.3 150.6 25.0 150.6 25.8 150.6 26.5 150.6 27.3 150.6 28.0 150.6 28.8 150.6 29.5 150.6 30.3 150.6 31.0 150.6 31.8 150.6 32.5 150.6 33.3 150.6 34.0 150.6 34.8 150.6 35.5 150.6 36.3 150.6 37.0 150.6 37.8 150.5 38.5 150.5 39.3 150.5 40.0 150.4 40.8 150.4 41.5 150.3 42.3 150.2 43.0 150.0 43.8 149.7 44.5 149.4 45.3 149.0 46.0 148.4 46.8 147.7 47.5 146.8 48.3 145.7 49.0 144.5 49.8 143.2 50.5 141.8 51.3 140.3 52.0 138.9 52.8 137.6 53.5 136.5 54.3 135.7 55.0 135.2 55.8 135.0 56.5 135.3 57.3 136.0 58.0 136.9 58.8 138.1 59.5 139.5 60.3 140.9 61.0 142.4 61.8 143.8 62.5 145.0 63.3 146.2 64.0 147.2 64.8 148.0 65.5 148.6 66.3 149.1 67.0 149.5 67.8 149.8 68.5 150.0 69.3 150.2 70.0 150.3 70.8 150.4 71.5 150.4 72.3 150.4 73.0 150.5 73.8 150.5 74.5 150.5 75.3 150.5 76.0 150.5 76.8 150.5 77.5 150.5 78.3 150.5 79.0 150.5 79.8 150.5 80.5 150.5 81.3 150.5 82.0 150.5 82.8 150.5 83.5 150.5 84.3 150.5 85.0 150.5 85.8 150.5 86.5 150.5 87.3 150.5 88.0 150.5 88.8 150.5 89.5 150.5 90.3 150.5 91.0 150.5 91.8 150.5 92.5 150.5 93.3 150.5 94.0 150.5 94.8 150.5 95.5 150.5 96.3 150.5 97.0 150.5 97.8 150.5 98.5 150.5 99.3 150.5 100.0 150.5 100.8 150.5 101.5 150.5 102.3 150.5 103.0 150.4 103.8 150.4 104.5 150.4 105.3 150.3 106.0 150.2 106.8 150.1 107.5 149.9 108.3 149.7 109.0 149.4 109.8 148.9 110.5 148.4 111.3 147.8 112.0 147.0 112.8 146.2 113.5 145.2 114.3 144.1 115.0 143.0 115.8 142.0 116.5 141.0 117.3 140.1 118.0 139.5 118.8 139.1 119.5 138.9 120.3 139.1 121.0 139.5 121.8 140.2 122.5 141.1 123.3 142.1 124.0 143.1 124.8 144.2 125.5 145.3 126.3 146.2 127.0 147.1 127.8 147.8 128.5 148.5 129.3 149.0 130.0 149.4 130.8 149.7 131.5 149.9 132.3 150.1 133.0 150.2 133.8 150.3 134.5 150.3 135.3 150.4 136.0 150.4 136.8 150.4 137.5 150.4 138.3 150.4 139.0 150.4 139.8 150.4 140.5 150.5 141.3 150.5 142.0 150.5 142.8 150.5 143.5 150.5 144.3 150.5 145.0 150.5 145.8 150.5 146.5 150.5 147.3 150.5 148.0 150.5 148.8 150.5 149.5 150.5 150.3 150.5 151.0 150.5 151.8 150.5 152.5 150.5 153.3 150.5" stroke="#959500" stroke-width="1.7" fill="none"/>
<path d="M19.0 151.4 19.8 151.4 20.5 151.4 21.3 151.4 22.0 151.4 22.8 151.4 23.5 151.4 24.3 151.4 25.0 151.4 25.8 151.4 26.5 151.4 27.3 151.4 28.0 151.4 28.8 151.4 29.5 151.4 30.3 151.4 31.0 151.4 31.8 151.4 32.5 151.4 33.3 151.4 34.0 151.4 34.8 151.4 35.5 151.4 36.3 151.3 37.0 151.3 37.8 151.3 38.5 151.3 39.3 151.3 40.0 151.3 40.8 151.3 41.5 151.3 42.3 151.3 43.0 151.3 43.8 151.3 44.5 151.3 45.3 151.3 46.0 151.3 46.8 151.3 47.5 151.3 48.3 151.3 49.0 151.3 49.8 151.3 50.5 151.3 51.3 151.3 52.0 151.3 52.8 151.3 53.5 151.3 54.3 151.3 55.0 151.3 55.8 151.3 56.5 151.3 57.3 151.3 58.0 151.3 58.8 151.3 59.5 151.3 60.3 151.3 61.0 151.3 61.8 151.3 62.5 151.3 63.3 151.3 64.0 151.3 64.8 151.3 65.5 151.3 66.3 151.3 67.0 151.3 67.8 151.3 68.5 151.3 69.3 151.3 70.0 151.2 70.8 151.2 71.5 151.2 72.3 151.2 73.0 151.2 73.8 151.2 74.5 151.2 75.3 151.2 76.0 151.2 76.8 151.2 77.5 151.2 78.3 151.2 79.0 151.2 79.8 151.2 80.5 151.2 81.3 151.2 82.0 151.2 82.8 151.2 83.5 151.2 84.3 151.2 85.0 151.2 85.8 151.2 86.5 151.2 87.3 151.2 88.0 151.2 88.8 151.2 89.5 151.2 90.3 151.2 91.0 151.2 91.8 151.2 92.5 151.2 93.3 151.2 94.0 151.2 94.8 151.2 95.5 151.2 96.3 151.2 97.0 151.2 97.8 151.2 98.5 151.2 99.3 151.2 100.0 151.2 100.8 151.2 101.5 151.2 102.3 151.2 103.0 151.1 103.8 151.1 104.5 151.1 105.3 151.1 106.0 151.1 106.8 151.1 107.5 151.1 108.3 151.1 109.0 151.1 109.8 151.1 110.5 151.1 111.3 151.1 112.0 151.1 112.8 151.1 113.5 151.1 114.3 151.1 115.0 151.1 115.8 151.1 116.5 151.1 117.3 151.1 118.0 151.1 118.8 151.1 119.5 151.1 120.3 151.1 121.0 151.1 121.8 151.1 122.5 151.1 123.3 151.1 124.0 151.1 124.8 151.1 125.5 151.1 126.3 151.1 127.0 151.1 127.8 151.1 128.5 151.1 129.3 151.1 130.0 151.1 130.8 151.1 131.5 151.1 132.3 151.1 133.0 151.1 133.8 151.1 134.5 151.1 135.3 151.1 136.0 151.1 136.8 151.0 137.5 151.0 138.3 151.0 139.0 151.0 139.8 151.0 140.5 151.0 141.3 151.0 142.0 151.0 142.8 151.0 143.5 151.0 144.3 151.0 145.0 151.0 145.8 151.0 146.5 151.0 147.3 151.0 148.0 151.0 148.8 151.0 149.5 151.0 150.3 151.0 151.0 151.0 151.8 151.0 152.5 151.0 153.3 151.0" stroke="#262626" stroke-width="1.05" fill="none"/>
<path d="M17.6 167.8 18.4 167.8 19.1 167.8 19.9 167.7 20.6 167.7 21.4 167.7 22.1 167.7 22.9 167.7 23.6 167.7 24.4 167.7 25.1 167.7 25.9 167.7 26.6 167.7 27.4 167.7 28.1 167.7 28.9 167.7 29.6 167.7 30.4 167.7 31.1 167.6 31.9 167.6 32.6 167.6 33.4 167.6 34.1 167.6 34.9 167.6 35.6 167.6 36.4 167.5 37.1 167.5 37.9 167.5 38.6 167.4 39.4 167.3 40.1 167.2 40.9 167.1 41.6 166.9 42.4 166.7 43.1 166.4 43.9 166.0 44.6 165.5 45.4 164.8 46.1 164.1 46.9 163.2 47.6 162.2 48.4 161.0 49.1 159.8 49.9 158.5 50.6 157.2 51.4 155.9 52.1 154.6 52.9 153.5 53.6 152.6 54.4 152.0 55.2 151.6 55.9 151.6 56.7 151.9 57.4 152.5 58.2 153.3 58.9 154.4 59.7 155.6 60.4 156.8 61.2 158.2 61.9 159.5 62.7 160.7 63.4 161.9 64.2 162.9 64.9 163.8 65.7 164.6 66.4 165.2 67.2 165.7 67.9 166.2 68.7 166.5 69.4 166.7 70.2 166.9 70.9 167.0 71.7 167.1 72.4 167.2 73.2 167.3 73.9 167.3 74.7 167.3 75.4 167.3 76.2 167.3 76.9 167.4 77.7 167.4 78.4 167.4 79.2 167.4 79.9 167.4 80.7 167.4 81.4 167.4 82.2 167.4 82.9 167.4 83.7 167.4 84.4 167.4 85.2 167.4 85.9 167.4 86.7 167.3 87.4 167.3 88.2 167.3 88.9 167.3 89.7 167.3 90.4 167.3 91.2 167.3 91.9 167.3 92.7 167.3 93.5 167.3 94.2 167.3 95.0 167.3 95.7 167.3 96.5 167.3 97.2 167.3 98.0 167.3 98.7 167.3 99.5 167.2 100.2 167.2 101.0 167.2 101.7 167.2 102.5 167.1 103.2 167.1 104.0 167.0 104.7 166.9 105.5 166.8 106.2 166.6 107.0 166.4 107.7 166.1 108.5 165.8 109.2 165.4 110.0 164.8 110.7 164.2 111.5 163.5 112.2 162.7 113.0 161.9 113.7 161.0 114.5 160.0 115.2 159.1 116.0 158.2 116.7 157.5 117.5 156.8 118.2 156.4 119.0 156.1 119.7 156.1 120.5 156.2 121.2 156.6 122.0 157.2 122.7 157.9 123.5 158.7 124.2 159.6 125.0 160.6 125.7 161.5 126.5 162.4 127.2 163.2 128.0 163.9 128.7 164.5 129.5 165.1 130.3 165.5 131.0 165.9 131.8 166.2 132.5 166.4 133.3 166.6 134.0 166.7 134.8 166.8 135.5 166.9 136.3 167.0 137.0 167.0 137.8 167.0 138.5 167.0 139.3 167.0 140.0 167.1 140.8 167.1 141.5 167.1 142.3 167.1 143.0 167.1 143.8 167.1 144.5 167.1 145.3 167.1 146.0 167.1 146.8 167.1 147.5 167.1 148.3 167.1 149.0 167.1 149.8 167.1 150.5 167.1 151.3 167.0 152.0 167.0 152.8 167.0 153.5 167.0 154.3 167.0 155.0 167.0 155.8 167.0 156.5 167.0 157.3 167.0 158.0 167.0 158.8 167.0 159.5 167.0 160.3 167.0 161.0 167.0 161.8 167.0 162.5 167.0 163.3 167.0 164.0 167.0 164.8 167.0 165.5 167.0 166.3 167.0 167.0 167.0 167.8 167.0" stroke="#0000ff" stroke-width="1.7" fill="none"/>
<path d="M17.6 168.3 18.4 168.3 19.1 168.3 19.9 168.3 20.6 168.3 21.4 168.3 22.1 168.3 22.9 168.3 23.6 168.3 24.4 168.3 25.1 168.3 25.9 168.3 26.6 168.2 27.4 168.2 28.1 168.2 28.9 168.2 29.6 168.2 30.4 168.2 31.1 168.2 31.9 168.2 32.6 168.2 33.4 168.2 34.1 168.2 34.9 168.2 35.6 168.2 36.4 168.2 37.1 168.2 37.9 168.2 38.6 168.2 39.4 168.2 40.1 168.2 40.9 168.2 41.6 168.2 42.4 168.2 43.1 168.1 43.9 168.1 44.6 168.1 45.4 168.1 46.1 168.1 46.9 168.1 47.6 168.1 48.4 168.1 49.1 168.1 49.9 168.1 50.6 168.1 51.4 168.1 52.1 168.1 52.9 168.1 53.6 168.1 54.4 168.1 55.2 168.1 55.9 168.1 56.7 168.1 57.4 168.1 58.2 168.1 58.9 168.1 59.7 168.0 60.4 168.0 61.2 168.0 61.9 168.0 62.7 168.0 63.4 168.0 64.2 168.0 64.9 168.0 65.7 168.0 66.4 168.0 67.2 168.0 67.9 168.0 68.7 168.0 69.4 168.0 70.2 168.0 70.9 168.0 71.7 168.0 72.4 168.0 73.2 168.0 73.9 168.0 74.7 168.0 75.4 168.0 76.2 167.9 76.9 167.9 77.7 167.9 78.4 167.9 79.2 167.9 79.9 167.9 80.7 167.9 81.4 167.9 82.2 167.9 82.9 167.9 83.7 167.9 84.4 167.9 85.2 167.9 85.9 167.9 86.7 167.9 87.4 167.9 88.2 167.9 88.9 167.9 89.7 167.9 90.4 167.9 91.2 167.9 91.9 167.9 92.7 167.8 93.5 167.8 94.2 167.8 95.0 167.8 95.7 167.8 96.5 167.8 97.2 167.8 98.0 167.8 98.7 167.8 99.5 167.8 100.2 167.8 101.0 167.8 101.7 167.8 102.5 167.8 103.2 167.8 104.0 167.8 104.7 167.8 105.5 167.8 106.2 167.8 107.0 167.8 107.7 167.8 108.5 167.8 109.2 167.8 110.0 167.7 110.7 167.7 111.5 167.7 112.2 167.7 113.0 167.7 113.7 167.7 114.5 167.7 115.2 167.7 116.0 167.7 116.7 167.7 117.5 167.7 118.2 167.7 119.0 167.7 119.7 167.7 120.5 167.7 121.2 167.7 122.0 167.7 122.7 167.7 123.5 167.7 124.2 167.7 125.0 167.7 125.7 167.7 126.5 167.6 127.2 167.6 128.0 167.6 128.7 167.6 129.5 167.6 130.3 167.6 131.0 167.6 131.8 167.6 132.5 167.6 133.3 167.6 134.0 167.6 134.8 167.6 135.5 167.6 136.3 167.6 137.0 167.6 137.8 167.6 138.5 167.6 139.3 167.6 140.0 167.6 140.8 167.6 141.5 167.6 142.3 167.6 143.0 167.5 143.8 167.5 144.5 167.5 145.3 167.5 146.0 167.5 146.8 167.5 147.5 167.5 148.3 167.5 149.0 167.5 149.8 167.5 150.5 167.5 151.3 167.5 152.0 167.5 152.8 167.5 153.5 167.5 154.3 167.5 155.0 167.5 155.8 167.5 156.5 167.5 157.3 167.5 158.0 167.5 158.8 167.5 159.5 167.4 160.3 167.4 161.0 167.4 161.8 167.4 162.5 167.4 163.3 167.4 164.0 167.4 164.8 167.4 165.5 167.4 166.3 167.4 167.0 167.4 167.8 167.4" stroke="#262626" stroke-width="0.95" fill="none"/>
<line x1="55.60" y1="137.00" x2="55.60" y2="169.00" stroke="#444444" stroke-width="0.9" stroke-dasharray="1.6,2.6"/>
<line x1="119.50" y1="137.00" x2="119.50" y2="169.00" stroke="#444444" stroke-width="0.9" stroke-dasharray="1.6,2.6"/>
<text x="39.70" y="176.90" font-size="7.0" fill="#1a1a1a" stroke="#1a1a1a" stroke-width="0.22" text-anchor="middle">485</text>
<text x="76.80" y="176.90" font-size="7.0" fill="#1a1a1a" stroke="#1a1a1a" stroke-width="0.22" text-anchor="middle">490</text>
<text x="115.90" y="176.90" font-size="7.0" fill="#1a1a1a" stroke="#1a1a1a" stroke-width="0.22" text-anchor="middle">495</text>
<text x="153.30" y="176.90" font-size="7.0" fill="#1a1a1a" stroke="#1a1a1a" stroke-width="0.22" text-anchor="middle">500</text>
<text x="45.90" y="133.40" font-size="9.2" fill="#1a1a1a" stroke="#1a1a1a" stroke-width="0.22">Sn</text>
<text x="57.45" y="128.00" font-size="5.4" fill="#1a1a1a" stroke="#1a1a1a" stroke-width="0.13">4+</text>
<text x="64.31" y="133.70" font-size="6.3" fill="#1a1a1a" stroke="#1a1a1a" stroke-width="0.22">3d</text>
<text x="71.82" y="137.30" font-size="3.8" fill="#1a1a1a" stroke="#1a1a1a" stroke-width="0.13">5/2</text>
<text x="108.30" y="137.40" font-size="9.2" fill="#1a1a1a" stroke="#1a1a1a" stroke-width="0.22">Sn</text>
<text x="119.85" y="132.00" font-size="5.4" fill="#1a1a1a" stroke="#1a1a1a" stroke-width="0.13">4+</text>
<text x="126.71" y="137.70" font-size="6.3" fill="#1a1a1a" stroke="#1a1a1a" stroke-width="0.22">3d</text>
<text x="134.22" y="141.30" font-size="3.8" fill="#1a1a1a" stroke="#1a1a1a" stroke-width="0.13">3/2</text>
<rect x="21.50" y="134.20" width="23.10" height="15.10" fill="#000"/>
<rect x="17.60" y="130.70" width="24.60" height="16.40" fill="#fff" stroke="#d0d0d0" stroke-width="0.7"/>
<text x="20.00" y="140.60" font-size="8.2" stroke="#000" stroke-width="0.22" font-weight="bold">SnO</text>
<text x="37.16" y="144.50" font-size="5.0" stroke="#000" stroke-width="0.13" font-weight="bold">2</text>
<line x1="17.60" y1="178.90" x2="17.60" y2="219.20" stroke="#b8b8b8" stroke-width="0.9"/>
<line x1="17.60" y1="219.20" x2="167.80" y2="219.20" stroke="#b8b8b8" stroke-width="0.9"/>
<line x1="22.72" y1="219.20" x2="22.72" y2="217.20" stroke="#9a9a9a" stroke-width="0.7"/>
<line x1="38.90" y1="219.20" x2="38.90" y2="218.00" stroke="#9a9a9a" stroke-width="0.7"/>
<line x1="55.08" y1="219.20" x2="55.08" y2="217.20" stroke="#9a9a9a" stroke-width="0.7"/>
<line x1="71.25" y1="219.20" x2="71.25" y2="218.00" stroke="#9a9a9a" stroke-width="0.7"/>
<line x1="87.42" y1="219.20" x2="87.42" y2="217.20" stroke="#9a9a9a" stroke-width="0.7"/>
<line x1="103.60" y1="219.20" x2="103.60" y2="218.00" stroke="#9a9a9a" stroke-width="0.7"/>
<line x1="119.78" y1="219.20" x2="119.78" y2="217.20" stroke="#9a9a9a" stroke-width="0.7"/>
<line x1="135.95" y1="219.20" x2="135.95" y2="218.00" stroke="#9a9a9a" stroke-width="0.7"/>
<line x1="152.12" y1="219.20" x2="152.12" y2="217.20" stroke="#9a9a9a" stroke-width="0.7"/>
<path d="M19.4 199.9 20.2 199.9 20.9 199.9 21.7 199.9 22.4 199.9 23.2 199.9 23.9 199.9 24.7 199.9 25.4 199.9 26.2 199.8 26.9 199.8 27.7 199.8 28.4 199.8 29.2 199.8 29.9 199.8 30.7 199.8 31.4 199.8 32.2 199.8 32.9 199.8 33.7 199.8 34.4 199.8 35.2 199.8 35.9 199.8 36.7 199.8 37.4 199.8 38.2 199.8 38.9 199.8 39.7 199.7 40.5 199.7 41.2 199.7 42.0 199.7 42.7 199.7 43.5 199.7 44.2 199.7 45.0 199.7 45.7 199.7 46.5 199.7 47.2 199.7 48.0 199.7 48.7 199.7 49.5 199.7 50.2 199.6 51.0 199.6 51.7 199.6 52.5 199.6 53.2 199.5 54.0 199.5 54.7 199.4 55.5 199.3 56.2 199.1 57.0 198.8 57.7 198.4 58.5 197.9 59.2 197.2 60.0 196.3 60.7 195.2 61.5 193.9 62.3 192.5 63.0 191.0 63.8 189.4 64.5 187.9 65.3 186.5 66.0 185.5 66.8 184.8 67.5 184.6 68.3 184.8 69.0 185.5 69.8 186.6 70.5 187.9 71.3 189.4 72.0 191.0 72.8 192.5 73.5 193.9 74.3 195.2 75.0 196.2 75.8 197.1 76.5 197.8 77.3 198.3 78.0 198.7 78.8 198.9 79.5 199.1 80.3 199.2 81.0 199.3 81.8 199.4 82.6 199.4 83.3 199.4 84.1 199.4 84.8 199.4 85.6 199.4 86.3 199.4 87.1 199.4 87.8 199.4 88.6 199.4 89.3 199.4 90.1 199.4 90.8 199.4 91.6 199.4 92.3 199.4 93.1 199.4 93.8 199.4 94.6 199.4 95.3 199.4 96.1 199.4 96.8 199.4 97.6 199.4 98.3 199.4 99.1 199.3 99.8 199.3 100.6 199.3 101.3 199.3 102.1 199.3 102.9 199.3 103.6 199.2 104.4 199.1 105.1 199.0 105.9 198.8 106.6 198.6 107.4 198.3 108.1 197.8 108.9 197.3 109.6 196.6 110.4 195.8 111.1 194.9 111.9 193.9 112.6 192.9 113.4 192.0 114.1 191.1 114.9 190.4 115.6 189.9 116.4 189.7 117.1 189.8 117.9 190.2 118.6 190.8 119.4 191.6 120.1 192.6 120.9 193.6 121.6 194.6 122.4 195.5 123.2 196.3 123.9 197.0 124.7 197.6 125.4 198.1 126.2 198.4 126.9 198.6 127.7 198.8 128.4 198.9 129.2 199.0 129.9 199.1 130.7 199.1 131.4 199.1 132.2 199.1 132.9 199.1 133.7 199.1 134.4 199.1 135.2 199.1 135.9 199.1 136.7 199.1 137.4 199.1 138.2 199.1 138.9 199.1 139.7 199.1 140.4 199.1 141.2 199.1 141.9 199.1 142.7 199.1 143.4 199.1 144.2 199.1 145.0 199.1 145.7 199.1 146.5 199.1 147.2 199.1 148.0 199.1 148.7 199.1 149.5 199.1 150.2 199.1 151.0 199.1 151.7 199.1 152.5 199.1 153.2 199.1 154.0 199.1 154.7 199.0 155.5 199.0 156.2 199.0 157.0 199.0 157.7 199.0 158.5 199.0 159.2 199.0 160.0 199.0 160.7 199.0 161.5 199.0 162.2 199.0 163.0 199.0 163.7 199.0 164.5 199.0" stroke="#959500" stroke-width="1.7" fill="none"/>
<path d="M19.4 200.5 20.2 200.5 20.9 200.5 21.7 200.5 22.4 200.5 23.2 200.5 23.9 200.5 24.7 200.5 25.4 200.5 26.2 200.4 26.9 200.4 27.7 200.4 28.4 200.4 29.2 200.4 29.9 200.4 30.7 200.4 31.4 200.4 32.2 200.4 32.9 200.4 33.7 200.4 34.4 200.4 35.2 200.4 35.9 200.4 36.7 200.4 37.4 200.4 38.2 200.4 38.9 200.4 39.7 200.3 40.5 200.3 41.2 200.3 42.0 200.3 42.7 200.3 43.5 200.3 44.2 200.3 45.0 200.3 45.7 200.3 46.5 200.3 47.2 200.3 48.0 200.3 48.7 200.3 49.5 200.3 50.2 200.3 51.0 200.3 51.7 200.3 52.5 200.2 53.2 200.2 54.0 200.2 54.7 200.2 55.5 200.2 56.2 200.2 57.0 200.2 57.7 200.2 58.5 200.2 59.2 200.2 60.0 200.2 60.7 200.2 61.5 200.2 62.3 200.2 63.0 200.2 63.8 200.2 64.5 200.2 65.3 200.2 66.0 200.1 66.8 200.1 67.5 200.1 68.3 200.1 69.0 200.1 69.8 200.1 70.5 200.1 71.3 200.1 72.0 200.1 72.8 200.1 73.5 200.1 74.3 200.1 75.0 200.1 75.8 200.1 76.5 200.1 77.3 200.1 78.0 200.1 78.8 200.0 79.5 200.0 80.3 200.0 81.0 200.0 81.8 200.0 82.6 200.0 83.3 200.0 84.1 200.0 84.8 200.0 85.6 200.0 86.3 200.0 87.1 200.0 87.8 200.0 88.6 200.0 89.3 200.0 90.1 200.0 90.8 200.0 91.6 200.0 92.3 199.9 93.1 199.9 93.8 199.9 94.6 199.9 95.3 199.9 96.1 199.9 96.8 199.9 97.6 199.9 98.3 199.9 99.1 199.9 99.8 199.9 100.6 199.9 101.3 199.9 102.1 199.9 102.9 199.9 103.6 199.9 104.4 199.9 105.1 199.9 105.9 199.8 106.6 199.8 107.4 199.8 108.1 199.8 108.9 199.8 109.6 199.8 110.4 199.8 111.1 199.8 111.9 199.8 112.6 199.8 113.4 199.8 114.1 199.8 114.9 199.8 115.6 199.8 116.4 199.8 117.1 199.8 117.9 199.8 118.6 199.7 119.4 199.7 120.1 199.7 120.9 199.7 121.6 199.7 122.4 199.7 123.2 199.7 123.9 199.7 124.7 199.7 125.4 199.7 126.2 199.7 126.9 199.7 127.7 199.7 128.4 199.7 129.2 199.7 129.9 199.7 130.7 199.7 131.4 199.7 132.2 199.6 132.9 199.6 133.7 199.6 134.4 199.6 135.2 199.6 135.9 199.6 136.7 199.6 137.4 199.6 138.2 199.6 138.9 199.6 139.7 199.6 140.4 199.6 141.2 199.6 141.9 199.6 142.7 199.6 143.4 199.6 144.2 199.6 145.0 199.5 145.7 199.5 146.5 199.5 147.2 199.5 148.0 199.5 148.7 199.5 149.5 199.5 150.2 199.5 151.0 199.5 151.7 199.5 152.5 199.5 153.2 199.5 154.0 199.5 154.7 199.5 155.5 199.5 156.2 199.5 157.0 199.5 157.7 199.5 158.5 199.4 159.2 199.4 160.0 199.4 160.7 199.4 161.5 199.4 162.2 199.4 163.0 199.4 163.7 199.4 164.5 199.4" stroke="#262626" stroke-width="1.05" fill="none"/>
<path d="M17.6 216.3 18.3 216.3 19.1 216.3 19.8 216.3 20.6 216.3 21.3 216.3 22.1 216.2 22.8 216.2 23.6 216.2 24.3 216.2 25.1 216.2 25.8 216.2 26.6 216.2 27.3 216.2 28.1 216.2 28.8 216.2 29.6 216.2 30.3 216.2 31.1 216.2 31.8 216.2 32.6 216.2 33.3 216.2 34.1 216.1 34.8 216.1 35.6 216.1 36.3 216.1 37.1 216.1 37.8 216.1 38.5 216.1 39.3 216.1 40.0 216.1 40.8 216.1 41.5 216.1 42.3 216.1 43.0 216.0 43.8 216.0 44.5 216.0 45.3 216.0 46.0 216.0 46.8 215.9 47.5 215.9 48.3 215.8 49.0 215.8 49.8 215.7 50.5 215.5 51.3 215.4 52.0 215.1 52.8 214.9 53.5 214.6 54.3 214.2 55.0 213.7 55.8 213.2 56.5 212.5 57.3 211.8 58.0 211.0 58.8 210.1 59.5 209.1 60.2 208.1 61.0 207.1 61.7 206.0 62.5 205.0 63.2 204.0 64.0 203.1 64.7 202.3 65.5 201.7 66.2 201.3 67.0 201.0 67.7 201.0 68.5 201.1 69.2 201.5 70.0 202.0 70.7 202.7 71.5 203.6 72.2 204.5 73.0 205.5 73.7 206.6 74.5 207.6 75.2 208.6 76.0 209.6 76.7 210.5 77.5 211.3 78.2 212.1 79.0 212.8 79.7 213.3 80.4 213.8 81.2 214.2 81.9 214.6 82.7 214.8 83.4 215.0 84.2 215.2 84.9 215.3 85.7 215.4 86.4 215.5 87.2 215.6 87.9 215.6 88.7 215.6 89.4 215.7 90.2 215.7 90.9 215.7 91.7 215.7 92.4 215.7 93.2 215.7 93.9 215.6 94.7 215.6 95.4 215.6 96.2 215.6 96.9 215.6 97.7 215.5 98.4 215.5 99.2 215.4 99.9 215.3 100.7 215.2 101.4 215.0 102.1 214.8 102.9 214.6 103.6 214.3 104.4 213.9 105.1 213.5 105.9 213.1 106.6 212.6 107.4 212.0 108.1 211.3 108.9 210.7 109.6 210.0 110.4 209.3 111.1 208.6 111.9 207.9 112.6 207.2 113.4 206.7 114.1 206.2 114.9 205.8 115.6 205.6 116.4 205.5 117.1 205.5 117.9 205.7 118.6 206.0 119.4 206.5 120.1 207.0 120.9 207.6 121.6 208.2 122.3 208.9 123.1 209.6 123.8 210.3 124.6 211.0 125.3 211.6 126.1 212.2 126.8 212.8 127.6 213.2 128.3 213.6 129.1 214.0 129.8 214.3 130.6 214.5 131.3 214.8 132.1 214.9 132.8 215.0 133.6 215.1 134.3 215.2 135.1 215.3 135.8 215.3 136.6 215.3 137.3 215.4 138.1 215.4 138.8 215.4 139.6 215.4 140.3 215.4 141.1 215.4 141.8 215.4 142.6 215.4 143.3 215.4 144.0 215.4 144.8 215.4 145.5 215.4 146.3 215.4 147.0 215.4 147.8 215.4 148.5 215.4 149.3 215.4 150.0 215.4 150.8 215.4 151.5 215.4 152.3 215.3 153.0 215.3 153.8 215.3 154.5 215.3 155.3 215.3 156.0 215.3 156.8 215.3 157.5 215.3 158.3 215.3 159.0 215.3 159.8 215.3 160.5 215.3 161.3 215.3 162.0 215.3 162.8 215.3 163.5 215.3" stroke="#0000ff" stroke-width="1.7" fill="none"/>
<path d="M17.6 216.7 18.3 216.7 19.1 216.7 19.8 216.7 20.6 216.7 21.3 216.7 22.1 216.7 22.8 216.7 23.6 216.7 24.3 216.7 25.1 216.6 25.8 216.6 26.6 216.6 27.3 216.6 28.1 216.6 28.8 216.6 29.6 216.6 30.3 216.6 31.1 216.6 31.8 216.6 32.6 216.6 33.3 216.6 34.1 216.6 34.8 216.6 35.6 216.6 36.3 216.6 37.1 216.6 37.8 216.6 38.5 216.6 39.3 216.6 40.0 216.5 40.8 216.5 41.5 216.5 42.3 216.5 43.0 216.5 43.8 216.5 44.5 216.5 45.3 216.5 46.0 216.5 46.8 216.5 47.5 216.5 48.3 216.5 49.0 216.5 49.8 216.5 50.5 216.5 51.3 216.5 52.0 216.5 52.8 216.5 53.5 216.5 54.3 216.4 55.0 216.4 55.8 216.4 56.5 216.4 57.3 216.4 58.0 216.4 58.8 216.4 59.5 216.4 60.2 216.4 61.0 216.4 61.7 216.4 62.5 216.4 63.2 216.4 64.0 216.4 64.7 216.4 65.5 216.4 66.2 216.4 67.0 216.4 67.7 216.4 68.5 216.4 69.2 216.3 70.0 216.3 70.7 216.3 71.5 216.3 72.2 216.3 73.0 216.3 73.7 216.3 74.5 216.3 75.2 216.3 76.0 216.3 76.7 216.3 77.5 216.3 78.2 216.3 79.0 216.3 79.7 216.3 80.4 216.3 81.2 216.3 81.9 216.3 82.7 216.3 83.4 216.2 84.2 216.2 84.9 216.2 85.7 216.2 86.4 216.2 87.2 216.2 87.9 216.2 88.7 216.2 89.4 216.2 90.2 216.2 90.9 216.2 91.7 216.2 92.4 216.2 93.2 216.2 93.9 216.2 94.7 216.2 95.4 216.2 96.2 216.2 96.9 216.2 97.7 216.2 98.4 216.1 99.2 216.1 99.9 216.1 100.7 216.1 101.4 216.1 102.1 216.1 102.9 216.1 103.6 216.1 104.4 216.1 105.1 216.1 105.9 216.1 106.6 216.1 107.4 216.1 108.1 216.1 108.9 216.1 109.6 216.1 110.4 216.1 111.1 216.1 111.9 216.1 112.6 216.0 113.4 216.0 114.1 216.0 114.9 216.0 115.6 216.0 116.4 216.0 117.1 216.0 117.9 216.0 118.6 216.0 119.4 216.0 120.1 216.0 120.9 216.0 121.6 216.0 122.3 216.0 123.1 216.0 123.8 216.0 124.6 216.0 125.3 216.0 126.1 216.0 126.8 216.0 127.6 215.9 128.3 215.9 129.1 215.9 129.8 215.9 130.6 215.9 131.3 215.9 132.1 215.9 132.8 215.9 133.6 215.9 134.3 215.9 135.1 215.9 135.8 215.9 136.6 215.9 137.3 215.9 138.1 215.9 138.8 215.9 139.6 215.9 140.3 215.9 141.1 215.9 141.8 215.8 142.6 215.8 143.3 215.8 144.0 215.8 144.8 215.8 145.5 215.8 146.3 215.8 147.0 215.8 147.8 215.8 148.5 215.8 149.3 215.8 150.0 215.8 150.8 215.8 151.5 215.8 152.3 215.8 153.0 215.8 153.8 215.8 154.5 215.8 155.3 215.8 156.0 215.8 156.8 215.7 157.5 215.7 158.3 215.7 159.0 215.7 159.8 215.7 160.5 215.7 161.3 215.7 162.0 215.7 162.8 215.7 163.5 215.7" stroke="#262626" stroke-width="0.95" fill="none"/>
<line x1="67.50" y1="186.00" x2="67.50" y2="219.00" stroke="#444444" stroke-width="0.9" stroke-dasharray="1.6,2.6"/>
<line x1="116.50" y1="186.00" x2="116.50" y2="219.00" stroke="#444444" stroke-width="0.9" stroke-dasharray="1.6,2.6"/>
<text x="38.90" y="226.00" font-size="7.0" fill="#1a1a1a" stroke="#1a1a1a" stroke-width="0.22" text-anchor="middle">440</text>
<text x="71.60" y="226.00" font-size="7.0" fill="#1a1a1a" stroke="#1a1a1a" stroke-width="0.22" text-anchor="middle">445</text>
<text x="104.20" y="226.00" font-size="7.0" fill="#1a1a1a" stroke="#1a1a1a" stroke-width="0.22" text-anchor="middle">450</text>
<text x="135.90" y="226.00" font-size="7.0" fill="#1a1a1a" stroke="#1a1a1a" stroke-width="0.22" text-anchor="middle">455</text>
<text x="56.90" y="183.70" font-size="9.2" fill="#1a1a1a" stroke="#1a1a1a" stroke-width="0.22">In</text>
<text x="64.87" y="178.30" font-size="5.4" fill="#1a1a1a" stroke="#1a1a1a" stroke-width="0.13">3+</text>
<text x="71.73" y="184.00" font-size="6.3" fill="#1a1a1a" stroke="#1a1a1a" stroke-width="0.22">3d</text>
<text x="79.24" y="187.60" font-size="3.8" fill="#1a1a1a" stroke="#1a1a1a" stroke-width="0.13">5/2</text>
<text x="108.30" y="188.40" font-size="9.2" fill="#1a1a1a" stroke="#1a1a1a" stroke-width="0.22">In</text>
<text x="116.27" y="183.00" font-size="5.4" fill="#1a1a1a" stroke="#1a1a1a" stroke-width="0.13">3+</text>
<text x="123.13" y="188.70" font-size="6.3" fill="#1a1a1a" stroke="#1a1a1a" stroke-width="0.22">3d</text>
<text x="130.64" y="192.30" font-size="3.8" fill="#1a1a1a" stroke="#1a1a1a" stroke-width="0.13">3/2</text>
<rect x="21.50" y="182.40" width="21.80" height="15.40" fill="#000"/>
<rect x="17.60" y="178.90" width="23.40" height="16.40" fill="#fff" stroke="#d0d0d0" stroke-width="0.7"/>
<text x="20.00" y="188.60" font-size="8.2" stroke="#000" stroke-width="0.22" font-weight="bold">In</text>
<text x="27.49" y="192.60" font-size="5.0" stroke="#000" stroke-width="0.13" font-weight="bold">2</text>
<text x="30.47" y="188.60" font-size="8.2" stroke="#000" stroke-width="0.22" font-weight="bold">O</text>
<text x="37.15" y="192.60" font-size="5.0" stroke="#000" stroke-width="0.13" font-weight="bold">3</text>
<line x1="17.60" y1="230.90" x2="17.60" y2="271.80" stroke="#b8b8b8" stroke-width="0.9"/>
<line x1="17.60" y1="271.80" x2="167.80" y2="271.80" stroke="#b8b8b8" stroke-width="0.9"/>
<line x1="23.55" y1="271.80" x2="23.55" y2="269.80" stroke="#9a9a9a" stroke-width="0.7"/>
<line x1="41.80" y1="271.80" x2="41.80" y2="270.60" stroke="#9a9a9a" stroke-width="0.7"/>
<line x1="60.05" y1="271.80" x2="60.05" y2="269.80" stroke="#9a9a9a" stroke-width="0.7"/>
<line x1="78.30" y1="271.80" x2="78.30" y2="270.60" stroke="#9a9a9a" stroke-width="0.7"/>
<line x1="96.55" y1="271.80" x2="96.55" y2="269.80" stroke="#9a9a9a" stroke-width="0.7"/>
<line x1="114.80" y1="271.80" x2="114.80" y2="270.60" stroke="#9a9a9a" stroke-width="0.7"/>
<line x1="133.05" y1="271.80" x2="133.05" y2="269.80" stroke="#9a9a9a" stroke-width="0.7"/>
<line x1="151.30" y1="271.80" x2="151.30" y2="270.60" stroke="#9a9a9a" stroke-width="0.7"/>
<path d="M22.0 253.2 22.8 253.2 23.5 253.2 24.3 253.2 25.0 253.1 25.8 253.1 26.5 253.1 27.3 253.1 28.0 253.1 28.8 253.1 29.5 253.1 30.3 253.1 31.0 253.1 31.8 253.1 32.5 253.1 33.3 253.0 34.0 253.0 34.8 253.0 35.5 253.0 36.3 252.9 37.0 252.8 37.8 252.6 38.5 252.2 39.3 251.7 40.0 250.9 40.8 249.8 41.5 248.4 42.3 246.7 43.0 244.7 43.8 242.7 44.5 240.8 45.3 239.3 46.0 238.6 46.8 238.6 47.5 239.4 48.3 240.8 49.0 242.7 49.8 244.8 50.6 246.7 51.3 248.4 52.1 249.8 52.8 250.9 53.6 251.7 54.3 252.2 55.1 252.5 55.8 252.7 56.6 252.8 57.3 252.8 58.1 252.9 58.8 252.9 59.6 252.9 60.3 252.9 61.1 252.9 61.8 252.9 62.6 252.9 63.3 252.9 64.1 252.9 64.8 252.9 65.6 252.9 66.3 252.9 67.1 252.9 67.8 252.9 68.6 252.9 69.3 252.9 70.1 252.9 70.8 252.9 71.6 252.9 72.3 252.9 73.1 252.9 73.8 252.9 74.6 252.9 75.3 252.9 76.1 252.9 76.8 252.9 77.6 252.9 78.4 252.9 79.1 252.9 79.9 252.8 80.6 252.8 81.4 252.8 82.1 252.8 82.9 252.8 83.6 252.8 84.4 252.8 85.1 252.8 85.9 252.8 86.6 252.8 87.4 252.8 88.1 252.8 88.9 252.8 89.6 252.8 90.4 252.8 91.1 252.8 91.9 252.8 92.6 252.8 93.4 252.8 94.1 252.8 94.9 252.8 95.6 252.8 96.4 252.8 97.1 252.8 97.9 252.8 98.6 252.7 99.4 252.7 100.1 252.7 100.9 252.7 101.6 252.7 102.4 252.7 103.1 252.7 103.9 252.7 104.6 252.7 105.4 252.7 106.2 252.7 106.9 252.7 107.7 252.7 108.4 252.7 109.2 252.7 109.9 252.7 110.7 252.7 111.4 252.7 112.2 252.7 112.9 252.7 113.7 252.6 114.4 252.6 115.2 252.6 115.9 252.6 116.7 252.6 117.4 252.6 118.2 252.6 118.9 252.6 119.7 252.6 120.4 252.6 121.2 252.6 121.9 252.6 122.7 252.5 123.4 252.5 124.2 252.4 124.9 252.3 125.7 252.1 126.4 251.7 127.2 251.3 127.9 250.7 128.7 249.9 129.4 249.0 130.2 248.0 130.9 247.1 131.7 246.3 132.4 245.8 133.2 245.7 134.0 245.9 134.7 246.5 135.5 247.3 136.2 248.2 137.0 249.2 137.7 250.1 138.5 250.8 139.2 251.3 140.0 251.8 140.7 252.0 141.5 252.2 142.2 252.3 143.0 252.4 143.7 252.4 144.5 252.4 145.2 252.4 146.0 252.4 146.7 252.4 147.5 252.4 148.2 252.4 149.0 252.4 149.7 252.4 150.5 252.4 151.2 252.4 152.0 252.4 152.7 252.4 153.5 252.4 154.2 252.4 155.0 252.4 155.7 252.4 156.5 252.4 157.2 252.4 158.0 252.4 158.7 252.4 159.5 252.4 160.2 252.4 161.0 252.4" stroke="#959500" stroke-width="1.7" fill="none"/>
<path d="M22.0 253.6 22.8 253.6 23.5 253.6 24.3 253.6 25.0 253.6 25.8 253.6 26.5 253.6 27.3 253.6 28.0 253.6 28.8 253.6 29.5 253.6 30.3 253.6 31.0 253.5 31.8 253.5 32.5 253.5 33.3 253.5 34.0 253.5 34.8 253.5 35.5 253.5 36.3 253.5 37.0 253.5 37.8 253.5 38.5 253.5 39.3 253.5 40.0 253.5 40.8 253.5 41.5 253.5 42.3 253.5 43.0 253.5 43.8 253.5 44.5 253.5 45.3 253.5 46.0 253.5 46.8 253.5 47.5 253.5 48.3 253.4 49.0 253.4 49.8 253.4 50.6 253.4 51.3 253.4 52.1 253.4 52.8 253.4 53.6 253.4 54.3 253.4 55.1 253.4 55.8 253.4 56.6 253.4 57.3 253.4 58.1 253.4 58.8 253.4 59.6 253.4 60.3 253.4 61.1 253.4 61.8 253.4 62.6 253.4 63.3 253.4 64.1 253.4 64.8 253.4 65.6 253.3 66.3 253.3 67.1 253.3 67.8 253.3 68.6 253.3 69.3 253.3 70.1 253.3 70.8 253.3 71.6 253.3 72.3 253.3 73.1 253.3 73.8 253.3 74.6 253.3 75.3 253.3 76.1 253.3 76.8 253.3 77.6 253.3 78.4 253.3 79.1 253.3 79.9 253.3 80.6 253.3 81.4 253.3 82.1 253.3 82.9 253.2 83.6 253.2 84.4 253.2 85.1 253.2 85.9 253.2 86.6 253.2 87.4 253.2 88.1 253.2 88.9 253.2 89.6 253.2 90.4 253.2 91.1 253.2 91.9 253.2 92.6 253.2 93.4 253.2 94.1 253.2 94.9 253.2 95.6 253.2 96.4 253.2 97.1 253.2 97.9 253.2 98.6 253.2 99.4 253.2 100.1 253.2 100.9 253.1 101.6 253.1 102.4 253.1 103.1 253.1 103.9 253.1 104.6 253.1 105.4 253.1 106.2 253.1 106.9 253.1 107.7 253.1 108.4 253.1 109.2 253.1 109.9 253.1 110.7 253.1 111.4 253.1 112.2 253.1 112.9 253.1 113.7 253.1 114.4 253.1 115.2 253.1 115.9 253.1 116.7 253.1 117.4 253.1 118.2 253.0 118.9 253.0 119.7 253.0 120.4 253.0 121.2 253.0 121.9 253.0 122.7 253.0 123.4 253.0 124.2 253.0 124.9 253.0 125.7 253.0 126.4 253.0 127.2 253.0 127.9 253.0 128.7 253.0 129.4 253.0 130.2 253.0 130.9 253.0 131.7 253.0 132.4 253.0 133.2 253.0 134.0 253.0 134.7 253.0 135.5 252.9 136.2 252.9 137.0 252.9 137.7 252.9 138.5 252.9 139.2 252.9 140.0 252.9 140.7 252.9 141.5 252.9 142.2 252.9 143.0 252.9 143.7 252.9 144.5 252.9 145.2 252.9 146.0 252.9 146.7 252.9 147.5 252.9 148.2 252.9 149.0 252.9 149.7 252.9 150.5 252.9 151.2 252.9 152.0 252.9 152.7 252.8 153.5 252.8 154.2 252.8 155.0 252.8 155.7 252.8 156.5 252.8 157.2 252.8 158.0 252.8 158.7 252.8 159.5 252.8 160.2 252.8 161.0 252.8" stroke="#262626" stroke-width="1.05" fill="none"/>
<path d="M24.4 268.5 25.1 268.5 25.9 268.5 26.6 268.4 27.4 268.4 28.1 268.4 28.9 268.4 29.6 268.4 30.4 268.4 31.1 268.4 31.9 268.4 32.6 268.4 33.4 268.4 34.1 268.3 34.9 268.3 35.6 268.3 36.4 268.2 37.1 268.1 37.9 267.9 38.6 267.5 39.4 267.0 40.1 266.2 40.9 265.1 41.6 263.7 42.4 261.9 43.1 260.0 43.9 258.0 44.6 256.2 45.3 254.8 46.1 254.1 46.8 254.1 47.6 255.0 48.3 256.4 49.1 258.3 49.8 260.3 50.6 262.2 51.3 263.9 52.1 265.3 52.8 266.3 53.6 267.0 54.3 267.5 55.1 267.8 55.8 268.0 56.6 268.1 57.3 268.2 58.1 268.2 58.8 268.2 59.6 268.2 60.3 268.2 61.1 268.2 61.8 268.2 62.6 268.2 63.3 268.2 64.0 268.2 64.8 268.2 65.5 268.2 66.3 268.2 67.0 268.2 67.8 268.2 68.5 268.2 69.3 268.2 70.0 268.2 70.8 268.2 71.5 268.2 72.3 268.2 73.0 268.2 73.8 268.2 74.5 268.2 75.3 268.2 76.0 268.2 76.8 268.2 77.5 268.2 78.3 268.2 79.0 268.2 79.8 268.2 80.5 268.2 81.3 268.2 82.0 268.2 82.8 268.2 83.5 268.2 84.2 268.2 85.0 268.2 85.7 268.2 86.5 268.2 87.2 268.2 88.0 268.2 88.7 268.2 89.5 268.2 90.2 268.2 91.0 268.2 91.7 268.1 92.5 268.1 93.2 268.1 94.0 268.1 94.7 268.1 95.5 268.1 96.2 268.1 97.0 268.1 97.7 268.1 98.5 268.1 99.2 268.1 100.0 268.1 100.7 268.1 101.5 268.1 102.2 268.1 103.0 268.1 103.7 268.1 104.4 268.1 105.2 268.1 105.9 268.1 106.7 268.1 107.4 268.1 108.2 268.1 108.9 268.1 109.7 268.1 110.4 268.0 111.2 268.0 111.9 268.0 112.7 268.0 113.4 268.0 114.2 268.0 114.9 268.0 115.7 268.0 116.4 268.0 117.2 268.0 117.9 268.0 118.7 268.0 119.4 268.0 120.2 268.0 120.9 268.0 121.7 267.9 122.4 267.9 123.2 267.9 123.9 267.8 124.6 267.7 125.4 267.5 126.1 267.3 126.9 266.9 127.6 266.3 128.4 265.6 129.1 264.8 129.9 263.9 130.6 262.9 131.4 262.1 132.1 261.5 132.9 261.2 133.6 261.2 134.4 261.7 135.1 262.4 135.9 263.3 136.6 264.2 137.4 265.1 138.1 265.9 138.9 266.5 139.6 267.0 140.4 267.3 141.1 267.5 141.9 267.7 142.6 267.8 143.3 267.8 144.1 267.8 144.8 267.8 145.6 267.8 146.3 267.8 147.1 267.8 147.8 267.8 148.6 267.8 149.3 267.8 150.1 267.8 150.8 267.8 151.6 267.8 152.3 267.8 153.1 267.8 153.8 267.8 154.6 267.8 155.3 267.8 156.1 267.8 156.8 267.8 157.6 267.8 158.3 267.8 159.1 267.8 159.8 267.8 160.6 267.8 161.3 267.8 162.1 267.8 162.8 267.8" stroke="#0000ff" stroke-width="1.7" fill="none"/>
<path d="M24.4 268.9 25.1 268.9 25.9 268.9 26.6 268.9 27.4 268.9 28.1 268.9 28.9 268.9 29.6 268.9 30.4 268.9 31.1 268.9 31.9 268.9 32.6 268.9 33.4 268.9 34.1 268.9 34.9 268.8 35.6 268.8 36.4 268.8 37.1 268.8 37.9 268.8 38.6 268.8 39.4 268.8 40.1 268.8 40.9 268.8 41.6 268.8 42.4 268.8 43.1 268.8 43.9 268.8 44.6 268.8 45.3 268.8 46.1 268.8 46.8 268.8 47.6 268.8 48.3 268.8 49.1 268.8 49.8 268.8 50.6 268.8 51.3 268.8 52.1 268.8 52.8 268.8 53.6 268.8 54.3 268.7 55.1 268.7 55.8 268.7 56.6 268.7 57.3 268.7 58.1 268.7 58.8 268.7 59.6 268.7 60.3 268.7 61.1 268.7 61.8 268.7 62.6 268.7 63.3 268.7 64.0 268.7 64.8 268.7 65.5 268.7 66.3 268.7 67.0 268.7 67.8 268.7 68.5 268.7 69.3 268.7 70.0 268.7 70.8 268.7 71.5 268.7 72.3 268.7 73.0 268.7 73.8 268.7 74.5 268.6 75.3 268.6 76.0 268.6 76.8 268.6 77.5 268.6 78.3 268.6 79.0 268.6 79.8 268.6 80.5 268.6 81.3 268.6 82.0 268.6 82.8 268.6 83.5 268.6 84.2 268.6 85.0 268.6 85.7 268.6 86.5 268.6 87.2 268.6 88.0 268.6 88.7 268.6 89.5 268.6 90.2 268.6 91.0 268.6 91.7 268.6 92.5 268.6 93.2 268.6 94.0 268.5 94.7 268.5 95.5 268.5 96.2 268.5 97.0 268.5 97.7 268.5 98.5 268.5 99.2 268.5 100.0 268.5 100.7 268.5 101.5 268.5 102.2 268.5 103.0 268.5 103.7 268.5 104.4 268.5 105.2 268.5 105.9 268.5 106.7 268.5 107.4 268.5 108.2 268.5 108.9 268.5 109.7 268.5 110.4 268.5 111.2 268.5 111.9 268.5 112.7 268.5 113.4 268.4 114.2 268.4 114.9 268.4 115.7 268.4 116.4 268.4 117.2 268.4 117.9 268.4 118.7 268.4 119.4 268.4 120.2 268.4 120.9 268.4 121.7 268.4 122.4 268.4 123.2 268.4 123.9 268.4 124.6 268.4 125.4 268.4 126.1 268.4 126.9 268.4 127.6 268.4 128.4 268.4 129.1 268.4 129.9 268.4 130.6 268.4 131.4 268.4 132.1 268.4 132.9 268.4 133.6 268.3 134.4 268.3 135.1 268.3 135.9 268.3 136.6 268.3 137.4 268.3 138.1 268.3 138.9 268.3 139.6 268.3 140.4 268.3 141.1 268.3 141.9 268.3 142.6 268.3 143.3 268.3 144.1 268.3 144.8 268.3 145.6 268.3 146.3 268.3 147.1 268.3 147.8 268.3 148.6 268.3 149.3 268.3 150.1 268.3 150.8 268.3 151.6 268.3 152.3 268.3 153.1 268.2 153.8 268.2 154.6 268.2 155.3 268.2 156.1 268.2 156.8 268.2 157.6 268.2 158.3 268.2 159.1 268.2 159.8 268.2 160.6 268.2 161.3 268.2 162.1 268.2 162.8 268.2" stroke="#262626" stroke-width="0.95" fill="none"/>
<line x1="46.40" y1="240.00" x2="46.40" y2="271.00" stroke="#444444" stroke-width="0.9" stroke-dasharray="1.6,2.6"/>
<line x1="133.10" y1="240.00" x2="133.10" y2="271.00" stroke="#444444" stroke-width="0.9" stroke-dasharray="1.6,2.6"/>
<text x="41.80" y="278.60" font-size="7.0" fill="#1a1a1a" stroke="#1a1a1a" stroke-width="0.22" text-anchor="middle">1020</text>
<text x="76.60" y="278.60" font-size="7.0" fill="#1a1a1a" stroke="#1a1a1a" stroke-width="0.22" text-anchor="middle">1030</text>
<text x="115.20" y="278.60" font-size="7.0" fill="#1a1a1a" stroke="#1a1a1a" stroke-width="0.22" text-anchor="middle">1040</text>
<text x="151.20" y="278.60" font-size="7.0" fill="#1a1a1a" stroke="#1a1a1a" stroke-width="0.22" text-anchor="middle">1050</text>
<text x="41.80" y="236.10" font-size="9.2" fill="#1a1a1a" stroke="#1a1a1a" stroke-width="0.22">Zn</text>
<text x="52.84" y="230.70" font-size="5.4" fill="#1a1a1a" stroke="#1a1a1a" stroke-width="0.13">2+</text>
<text x="59.69" y="236.40" font-size="6.3" fill="#1a1a1a" stroke="#1a1a1a" stroke-width="0.22">2p</text>
<text x="67.20" y="240.00" font-size="3.8" fill="#1a1a1a" stroke="#1a1a1a" stroke-width="0.13">3/2</text>
<text x="122.20" y="242.40" font-size="9.2" fill="#1a1a1a" stroke="#1a1a1a" stroke-width="0.22">Zn</text>
<text x="133.24" y="237.00" font-size="5.4" fill="#1a1a1a" stroke="#1a1a1a" stroke-width="0.13">2+</text>
<text x="140.09" y="242.70" font-size="6.3" fill="#1a1a1a" stroke="#1a1a1a" stroke-width="0.22">2p</text>
<text x="147.60" y="246.30" font-size="3.8" fill="#1a1a1a" stroke="#1a1a1a" stroke-width="0.13">1/2</text>
<rect x="21.50" y="233.50" width="19.10" height="12.00" fill="#000"/>
<rect x="17.60" y="230.90" width="21.00" height="12.40" fill="#fff" stroke="#d0d0d0" stroke-width="0.7"/>
<text x="20.00" y="239.50" font-size="8.5" stroke="#000" stroke-width="0.22" font-weight="bold">ZnO</text>
<rect x="72.30" y="230.10" width="46.40" height="38.90" fill="#fff" stroke="#dadada" stroke-width="0.7"/>
<text x="75.70" y="240.10" font-size="8.7" fill="#1a1a1a" stroke="#1a1a1a" stroke-width="0.22">Modifier</text>
<line x1="75.10" y1="247.50" x2="94.40" y2="247.50" stroke="#0000ff" stroke-width="1.7"/>
<text x="97.40" y="250.10" font-size="8.6" fill="#1a1a1a" stroke="#1a1a1a" stroke-width="0.22">none</text>
<line x1="75.10" y1="259.10" x2="94.40" y2="259.10" stroke="#959500" stroke-width="1.7"/>
<text x="97.40" y="262.30" font-size="8.6" fill="#1a1a1a" stroke="#1a1a1a" stroke-width="0.22">PtO</text>
<text x="112.51" y="265.70" font-size="5.4" fill="#1a1a1a" stroke="#1a1a1a" stroke-width="0.13">x</text>
<text x="93.20" y="287.60" font-size="7.15" fill="#1a1a1a" stroke="#1a1a1a" stroke-width="0.22" text-anchor="middle">Binding energy / eV</text>
<text x="10.30" y="145.60" font-size="8.75" fill="#1a1a1a" stroke="#1a1a1a" stroke-width="0.22" text-anchor="middle" transform="rotate(-90 10.3 145.6)">Intensity</text>
<line x1="197.60" y1="25.40" x2="197.60" y2="69.40" stroke="#b8b8b8" stroke-width="0.9"/>
<line x1="197.60" y1="69.40" x2="359.70" y2="69.40" stroke="#b8b8b8" stroke-width="0.9"/>
<line x1="217.59" y1="69.40" x2="217.59" y2="68.20" stroke="#9a9a9a" stroke-width="0.7"/>
<line x1="237.73" y1="69.40" x2="237.73" y2="67.40" stroke="#9a9a9a" stroke-width="0.7"/>
<line x1="257.88" y1="69.40" x2="257.88" y2="68.20" stroke="#9a9a9a" stroke-width="0.7"/>
<line x1="278.02" y1="69.40" x2="278.02" y2="67.40" stroke="#9a9a9a" stroke-width="0.7"/>
<line x1="298.17" y1="69.40" x2="298.17" y2="68.20" stroke="#9a9a9a" stroke-width="0.7"/>
<line x1="318.31" y1="69.40" x2="318.31" y2="67.40" stroke="#9a9a9a" stroke-width="0.7"/>
<line x1="338.46" y1="69.40" x2="338.46" y2="68.20" stroke="#9a9a9a" stroke-width="0.7"/>
<line x1="358.60" y1="69.40" x2="358.60" y2="67.40" stroke="#9a9a9a" stroke-width="0.7"/>
<path d="M197.6 48.0 198.2 48.0 198.8 47.9 199.4 47.9 200.0 47.9 200.6 47.9 201.2 47.9 201.8 47.9 202.4 47.9 203.0 47.9 203.6 47.9 204.2 47.9 204.8 47.9 205.4 47.9 206.0 47.9 206.6 47.9 207.2 47.9 207.8 47.9 208.4 47.9 209.0 47.9 209.6 47.9 210.2 47.8 210.8 47.8 211.4 47.8 212.0 47.8 212.6 47.8 213.2 47.8 213.8 47.8 214.4 47.8 215.0 47.8 215.6 47.8 216.2 47.8 216.8 47.8 217.4 47.8 218.0 47.8 218.6 47.8 219.2 47.8 219.8 47.7 220.4 47.7 221.0 47.7 221.6 47.7 222.2 47.7 222.8 47.7 223.4 47.7 224.0 47.7 224.6 47.7 225.2 47.7 225.8 47.7 226.4 47.7 227.0 47.7 227.6 47.6 228.2 47.6 228.8 47.6 229.4 47.6 230.0 47.6 230.6 47.6 231.2 47.6 231.8 47.6 232.4 47.6 233.0 47.6 233.6 47.5 234.2 47.5 234.8 47.5 235.4 47.5 236.0 47.5 236.6 47.5 237.2 47.4 237.8 47.4 238.4 47.4 239.0 47.4 239.6 47.3 240.2 47.3 240.8 47.2 241.4 47.2 242.0 47.1 242.6 47.0 243.2 46.9 243.8 46.8 244.4 46.6 245.0 46.4 245.6 46.2 246.2 45.9 246.8 45.6 247.4 45.3 248.0 44.9 248.6 44.4 249.2 43.9 249.8 43.3 250.4 42.6 251.0 41.9 251.6 41.1 252.2 40.3 252.8 39.4 253.4 38.5 254.0 37.5 254.6 36.5 255.2 35.5 255.8 34.5 256.4 33.6 257.0 32.6 257.6 31.7 258.2 30.9 258.8 30.2 259.4 29.7 260.0 29.2 260.6 28.9 261.2 28.7 261.8 28.7 262.4 28.8 263.0 29.1 263.6 29.5 264.2 30.0 264.8 30.6 265.4 31.3 266.0 32.1 266.6 32.9 267.2 33.8 267.8 34.6 268.4 35.5 269.0 36.3 269.6 37.1 270.2 37.9 270.8 38.6 271.4 39.2 272.0 39.8 272.6 40.4 273.2 40.9 273.8 41.3 274.4 41.7 275.0 42.0 275.6 42.3 276.2 42.5 276.8 42.7 277.4 42.9 278.0 43.0 278.6 43.2 279.3 43.3 279.9 43.4 280.5 43.5 281.1 43.5 281.7 43.6 282.3 43.7 282.9 43.7 283.5 43.8 284.1 43.9 284.7 44.0 285.3 44.0 285.9 44.1 286.5 44.2 287.1 44.3 287.7 44.4 288.3 44.5 288.9 44.6 289.5 44.7 290.1 44.8 290.7 44.9 291.3 45.0 291.9 45.1 292.5 45.2 293.1 45.3 293.7 45.4 294.3 45.5 294.9 45.6 295.5 45.7 296.1 45.8 296.7 45.9 297.3 45.9 297.9 46.0 298.5 46.1 299.1 46.2 299.7 46.2 300.3 46.3 300.9 46.4 301.5 46.4 302.1 46.5 302.7 46.5 303.3 46.6 303.9 46.6 304.5 46.7 305.1 46.7 305.7 46.7 306.3 46.8 306.9 46.8 307.5 46.8 308.1 46.9 308.7 46.9 309.3 46.9 309.9 46.9 310.5 46.9 311.1 46.9 311.7 47.0 312.3 47.0 312.9 47.0 313.5 47.0 314.1 47.0 314.7 47.0 315.3 47.0 315.9 47.0 316.5 47.0 317.1 47.0 317.7 47.0 318.3 47.0 318.9 47.0 319.5 47.0 320.1 47.0 320.7 47.0 321.3 47.0 321.9 47.0 322.5 47.0 323.1 47.0 323.7 47.0 324.3 47.0 324.9 47.0 325.5 47.0 326.1 47.0 326.7 47.0 327.3 47.0 327.9 47.0 328.5 47.0 329.1 47.0 329.7 47.0 330.3 47.0 330.9 47.0 331.5 47.0 332.1 47.0 332.7 47.0 333.3 46.9 333.9 46.9 334.5 46.9 335.1 46.9 335.7 46.9 336.3 46.9 336.9 46.9 337.5 46.9 338.1 46.9 338.7 46.9 339.3 46.9 339.9 46.9 340.5 46.9 341.1 46.9 341.7 46.9 342.3 46.9 342.9 46.9 343.5 46.9 344.1 46.9 344.7 46.9 345.3 46.9 345.9 46.9 346.5 46.9 347.1 46.9 347.7 46.9 348.3 46.9 348.9 46.8 349.5 46.8 350.1 46.8 350.7 46.8 351.3 46.8 351.9 46.8 352.5 46.8 353.1 46.8 353.7 46.8 354.3 46.8 354.9 46.8 355.5 46.8 356.1 46.8 356.7 46.8 357.3 46.8 357.9 46.8 358.5 46.8 359.1 46.8 359.7 46.8" stroke="#959500" stroke-width="1.7" fill="none"/>
<path d="M232.0 48.2 232.6 48.2 233.2 48.2 233.8 48.2 234.4 48.2 235.0 48.2 235.6 48.2 236.2 48.2 236.8 48.2 237.4 48.2 238.0 48.2 238.6 48.2 239.2 48.2 239.8 48.2 240.4 48.2 241.0 48.2 241.6 48.2 242.2 48.2 242.8 48.2 243.4 48.2 244.0 48.2 244.6 48.2 245.2 48.1 245.8 48.1 246.4 48.1 247.0 48.1 247.6 48.1 248.2 48.1 248.8 48.1 249.5 48.1 250.1 48.1 250.7 48.1 251.3 48.1 251.9 48.1 252.5 48.1 253.1 48.1 253.7 48.1 254.3 48.1 254.9 48.1 255.5 48.1 256.1 48.1 256.7 48.1 257.3 48.1 257.9 48.1 258.5 48.0 259.1 48.0 259.7 48.0 260.3 48.0 260.9 48.0 261.5 48.0 262.1 48.0 262.7 48.0 263.3 48.0 263.9 48.0 264.5 48.0 265.1 48.0 265.7 48.0 266.3 48.0 266.9 48.0 267.5 48.0 268.1 48.0 268.7 48.0 269.3 48.0 269.9 48.0 270.5 48.0 271.1 48.0 271.7 48.0 272.3 47.9 272.9 47.9 273.5 47.9 274.1 47.9 274.7 47.9 275.3 47.9 275.9 47.9 276.5 47.9 277.1 47.9 277.7 47.9 278.3 47.9 278.9 47.9 279.5 47.9 280.1 47.9 280.7 47.9 281.3 47.9 281.9 47.9 282.5 47.9 283.2 47.9 283.8 47.9 284.4 47.9 285.0 47.9 285.6 47.8 286.2 47.8 286.8 47.8 287.4 47.8 288.0 47.8 288.6 47.8 289.2 47.8 289.8 47.8 290.4 47.8 291.0 47.8 291.6 47.8 292.2 47.8 292.8 47.8 293.4 47.8 294.0 47.8 294.6 47.8 295.2 47.8 295.8 47.8 296.4 47.8 297.0 47.8 297.6 47.8 298.2 47.8 298.8 47.8 299.4 47.7 300.0 47.7" stroke="#333" stroke-width="0.8" fill="none"/>
<path d="M197.6 48.0 198.2 48.0 198.8 48.0 199.4 48.0 200.0 47.9 200.6 47.9 201.2 47.9 201.8 47.9 202.4 47.9 203.0 47.9 203.6 47.9 204.2 47.9 204.8 47.9 205.4 47.9 206.0 47.9 206.6 47.9 207.2 47.9 207.8 47.9 208.4 47.9 209.0 47.9 209.6 47.9 210.2 47.9 210.8 47.9 211.4 47.8 212.0 47.8 212.6 47.8 213.2 47.8 213.8 47.8 214.4 47.8 215.0 47.8 215.6 47.8 216.2 47.8 216.8 47.8 217.4 47.8 218.0 47.8 218.6 47.8 219.2 47.8 219.8 47.8 220.4 47.8 221.0 47.8 221.6 47.7 222.2 47.7 222.8 47.7 223.4 47.7 224.0 47.7 224.6 47.7 225.2 47.7 225.8 47.7 226.4 47.7 227.0 47.7 227.6 47.7 228.2 47.7 228.8 47.7 229.4 47.6 230.0 47.6 230.6 47.6 231.2 47.6 231.8 47.6 232.4 47.6 233.0 47.6 233.6 47.6 234.2 47.6 234.8 47.6 235.4 47.5 236.0 47.5 236.6 47.5 237.2 47.5 237.8 47.5 238.4 47.4 239.0 47.4 239.6 47.4 240.2 47.3 240.8 47.3 241.4 47.2 242.0 47.2 242.6 47.1 243.2 47.0 243.8 46.8 244.4 46.7 245.0 46.5 245.6 46.3 246.2 46.0 246.8 45.7 247.4 45.4 248.0 45.0 248.6 44.6 249.2 44.0 249.8 43.5 250.4 42.8 251.0 42.2 251.6 41.4 252.2 40.6 252.8 39.7 253.4 38.8 254.0 37.9 254.6 36.9 255.2 36.0 255.8 35.0 256.4 34.1 257.0 33.2 257.6 32.4 258.2 31.6 258.8 31.0 259.4 30.5 260.0 30.1 260.6 29.8 261.2 29.7 261.8 29.8 262.4 30.0 263.0 30.4 263.6 30.8 264.2 31.5 264.8 32.2 265.4 33.0 266.0 33.8 266.6 34.8 267.2 35.7 267.8 36.6 268.4 37.6 269.0 38.5 269.6 39.4 270.2 40.3 270.8 41.1 271.4 41.9 272.0 42.6 272.6 43.2 273.2 43.8 273.8 44.3 274.4 44.7 275.0 45.1 275.6 45.5 276.2 45.8 276.8 46.0 277.4 46.2 278.0 46.4 278.6 46.5 279.3 46.7 279.9 46.8 280.5 46.9 281.1 46.9 281.7 47.0 282.3 47.0 282.9 47.0 283.5 47.1 284.1 47.1 284.7 47.1 285.3 47.1 285.9 47.1 286.5 47.1 287.1 47.2 287.7 47.2 288.3 47.2 288.9 47.2 289.5 47.2 290.1 47.2 290.7 47.2 291.3 47.2 291.9 47.2 292.5 47.2 293.1 47.2 293.7 47.2 294.3 47.2 294.9 47.2 295.5 47.2 296.1 47.2 296.7 47.2 297.3 47.2 297.9 47.2 298.5 47.2 299.1 47.2 299.7 47.2 300.3 47.2 300.9 47.2 301.5 47.2 302.1 47.2 302.7 47.1 303.3 47.1 303.9 47.1 304.5 47.1 305.1 47.1 305.7 47.1 306.3 47.1 306.9 47.1 307.5 47.1 308.1 47.1 308.7 47.1 309.3 47.1 309.9 47.1 310.5 47.1 311.1 47.1 311.7 47.1 312.3 47.1 312.9 47.1 313.5 47.1 314.1 47.1 314.7 47.1 315.3 47.1 315.9 47.1 316.5 47.1 317.1 47.1 317.7 47.1 318.3 47.1 318.9 47.1 319.5 47.1 320.1 47.1 320.7 47.1 321.3 47.0 321.9 47.0 322.5 47.0 323.1 47.0 323.7 47.0 324.3 47.0 324.9 47.0 325.5 47.0 326.1 47.0 326.7 47.0 327.3 47.0 327.9 47.0 328.5 47.0 329.1 47.0 329.7 47.0 330.3 47.0 330.9 47.0 331.5 47.0 332.1 47.0 332.7 47.0 333.3 47.0 333.9 47.0 334.5 47.0 335.1 47.0 335.7 47.0 336.3 47.0 336.9 46.9 337.5 46.9 338.1 46.9 338.7 46.9 339.3 46.9 339.9 46.9 340.5 46.9 341.1 46.9 341.7 46.9 342.3 46.9 342.9 46.9 343.5 46.9 344.1 46.9 344.7 46.9 345.3 46.9 345.9 46.9 346.5 46.9 347.1 46.9 347.7 46.9 348.3 46.9 348.9 46.9 349.5 46.9 350.1 46.9 350.7 46.9 351.3 46.8 351.9 46.8 352.5 46.8 353.1 46.8 353.7 46.8 354.3 46.8 354.9 46.8 355.5 46.8 356.1 46.8 356.7 46.8 357.3 46.8 357.9 46.8 358.5 46.8 359.1 46.8 359.7 46.8" stroke="#ff1080" stroke-width="1.5" fill="none"/>
<path d="M197.6 48.0 198.2 48.0 198.8 48.0 199.4 48.0 200.0 48.0 200.6 48.0 201.2 48.0 201.8 48.0 202.4 48.0 203.0 47.9 203.6 47.9 204.2 47.9 204.8 47.9 205.4 47.9 206.0 47.9 206.6 47.9 207.2 47.9 207.8 47.9 208.4 47.9 209.0 47.9 209.6 47.9 210.2 47.9 210.8 47.9 211.4 47.9 212.0 47.9 212.6 47.9 213.2 47.9 213.8 47.9 214.4 47.9 215.0 47.9 215.6 47.9 216.2 47.8 216.8 47.8 217.4 47.8 218.0 47.8 218.6 47.8 219.2 47.8 219.8 47.8 220.4 47.8 221.0 47.8 221.6 47.8 222.2 47.8 222.8 47.8 223.4 47.8 224.0 47.8 224.6 47.8 225.2 47.8 225.8 47.8 226.4 47.8 227.0 47.8 227.6 47.8 228.2 47.7 228.8 47.7 229.4 47.7 230.0 47.7 230.6 47.7 231.2 47.7 231.8 47.7 232.4 47.7 233.0 47.7 233.6 47.7 234.2 47.7 234.8 47.7 235.4 47.7 236.0 47.7 236.6 47.7 237.2 47.7 237.8 47.7 238.4 47.7 239.0 47.6 239.6 47.6 240.2 47.6 240.8 47.6 241.4 47.6 242.0 47.6 242.6 47.6 243.2 47.6 243.8 47.6 244.4 47.6 245.0 47.6 245.6 47.5 246.2 47.5 246.8 47.5 247.4 47.5 248.0 47.5 248.6 47.5 249.2 47.4 249.8 47.4 250.4 47.4 251.0 47.4 251.6 47.3 252.2 47.3 252.8 47.3 253.4 47.2 254.0 47.2 254.6 47.2 255.2 47.1 255.8 47.1 256.4 47.0 257.0 47.0 257.6 46.9 258.2 46.9 258.8 46.8 259.4 46.7 260.0 46.7 260.6 46.6 261.2 46.5 261.8 46.4 262.4 46.3 263.0 46.2 263.6 46.2 264.2 46.1 264.8 46.0 265.4 45.9 266.0 45.8 266.6 45.7 267.2 45.6 267.8 45.5 268.4 45.3 269.0 45.2 269.6 45.1 270.2 45.0 270.8 44.9 271.4 44.8 272.0 44.7 272.6 44.6 273.2 44.6 273.8 44.5 274.4 44.4 275.0 44.3 275.6 44.2 276.2 44.2 276.8 44.1 277.4 44.1 278.0 44.1 278.6 44.0 279.3 44.0 279.9 44.0 280.5 44.0 281.1 44.0 281.7 44.0 282.3 44.0 282.9 44.1 283.5 44.1 284.1 44.2 284.7 44.2 285.3 44.3 285.9 44.3 286.5 44.4 287.1 44.5 287.7 44.6 288.3 44.7 288.9 44.7 289.5 44.8 290.1 44.9 290.7 45.0 291.3 45.1 291.9 45.2 292.5 45.3 293.1 45.4 293.7 45.5 294.3 45.6 294.9 45.7 295.5 45.8 296.1 45.9 296.7 46.0 297.3 46.0 297.9 46.1 298.5 46.2 299.1 46.3 299.7 46.3 300.3 46.4 300.9 46.5 301.5 46.5 302.1 46.6 302.7 46.6 303.3 46.7 303.9 46.7 304.5 46.7 305.1 46.8 305.7 46.8 306.3 46.8 306.9 46.9 307.5 46.9 308.1 46.9 308.7 46.9 309.3 47.0 309.9 47.0 310.5 47.0 311.1 47.0 311.7 47.0 312.3 47.0 312.9 47.0 313.5 47.0 314.1 47.0 314.7 47.0 315.3 47.0 315.9 47.0 316.5 47.0 317.1 47.0 317.7 47.0 318.3 47.0 318.9 47.0 319.5 47.0 320.1 47.0 320.7 47.0 321.3 47.0 321.9 47.0 322.5 47.0 323.1 47.0 323.7 47.0 324.3 47.0 324.9 47.0 325.5 47.0 326.1 47.0 326.7 47.0 327.3 47.0 327.9 47.0 328.5 47.0 329.1 47.0 329.7 47.0 330.3 47.0 330.9 47.0 331.5 47.0 332.1 47.0 332.7 47.0 333.3 47.0 333.9 47.0 334.5 47.0 335.1 47.0 335.7 47.0 336.3 47.0 336.9 46.9 337.5 46.9 338.1 46.9 338.7 46.9 339.3 46.9 339.9 46.9 340.5 46.9 341.1 46.9 341.7 46.9 342.3 46.9 342.9 46.9 343.5 46.9 344.1 46.9 344.7 46.9 345.3 46.9 345.9 46.9 346.5 46.9 347.1 46.9 347.7 46.9 348.3 46.9 348.9 46.9 349.5 46.9 350.1 46.9 350.7 46.9 351.3 46.8 351.9 46.8 352.5 46.8 353.1 46.8 353.7 46.8 354.3 46.8 354.9 46.8 355.5 46.8 356.1 46.8 356.7 46.8 357.3 46.8 357.9 46.8 358.5 46.8 359.1 46.8 359.7 46.8" stroke="#12876e" stroke-width="1.4" fill="none"/>
<path d="M197.6 68.3 198.2 68.3 198.8 68.3 199.4 68.3 200.0 68.3 200.6 68.3 201.2 68.3 201.8 68.3 202.4 68.3 203.0 68.3 203.6 68.3 204.2 68.3 204.8 68.3 205.4 68.3 206.0 68.3 206.6 68.3 207.2 68.3 207.8 68.3 208.4 68.3 209.0 68.3 209.6 68.3 210.2 68.3 210.8 68.3 211.4 68.3 212.0 68.3 212.6 68.3 213.2 68.3 213.8 68.3 214.4 68.3 215.0 68.3 215.6 68.3 216.2 68.3 216.8 68.3 217.4 68.3 218.0 68.3 218.6 68.3 219.2 68.3 219.8 68.3 220.4 68.3 221.0 68.3 221.6 68.3 222.2 68.2 222.8 68.2 223.4 68.2 224.0 68.2 224.6 68.2 225.2 68.2 225.8 68.2 226.4 68.2 227.0 68.2 227.6 68.2 228.2 68.2 228.8 68.2 229.4 68.2 230.0 68.2 230.6 68.1 231.2 68.1 231.8 68.1 232.4 68.1 233.0 68.1 233.6 68.0 234.2 68.0 234.8 67.9 235.4 67.8 236.0 67.8 236.6 67.6 237.2 67.5 237.8 67.3 238.4 67.1 239.0 66.9 239.6 66.5 240.2 66.1 240.8 65.7 241.4 65.2 242.0 64.5 242.6 63.8 243.2 63.0 243.8 62.1 244.4 61.1 245.0 60.0 245.6 58.8 246.2 57.6 246.8 56.4 247.4 55.1 248.0 53.8 248.6 52.6 249.2 51.5 249.8 50.5 250.4 49.6 251.0 48.9 251.6 48.4 252.2 48.1 252.8 48.0 253.4 48.1 254.0 48.4 254.6 48.8 255.2 49.4 255.8 50.1 256.4 50.9 257.0 51.8 257.6 52.8 258.2 53.8 258.8 54.8 259.4 55.8 260.0 56.7 260.6 57.7 261.2 58.6 261.8 59.5 262.4 60.3 263.0 61.0 263.6 61.7 264.2 62.3 264.8 62.9 265.4 63.4 266.0 63.9 266.6 64.3 267.2 64.6 267.8 64.9 268.4 65.2 269.0 65.4 269.6 65.6 270.2 65.8 270.8 66.0 271.4 66.1 272.0 66.3 272.6 66.4 273.2 66.5 273.8 66.6 274.4 66.7 275.0 66.8 275.6 66.9 276.2 66.9 276.8 67.0 277.4 67.1 278.0 67.2 278.6 67.2 279.3 67.3 279.9 67.4 280.5 67.4 281.1 67.5 281.7 67.6 282.3 67.6 282.9 67.7 283.5 67.7 284.1 67.8 284.7 67.8 285.3 67.9 285.9 67.9 286.5 68.0 287.1 68.0 287.7 68.1 288.3 68.1 288.9 68.1 289.5 68.2 290.1 68.2 290.7 68.2 291.3 68.3 291.9 68.3 292.5 68.3 293.1 68.3 293.7 68.4 294.3 68.4 294.9 68.4 295.5 68.4 296.1 68.4 296.7 68.4 297.3 68.5 297.9 68.5 298.5 68.5 299.1 68.5 299.7 68.5 300.3 68.5 300.9 68.5 301.5 68.5 302.1 68.5 302.7 68.5 303.3 68.5 303.9 68.5 304.5 68.5 305.1 68.6 305.7 68.6 306.3 68.6 306.9 68.6 307.5 68.6 308.1 68.6 308.7 68.6 309.3 68.6 309.9 68.6 310.5 68.6 311.1 68.6 311.7 68.6 312.3 68.6 312.9 68.6 313.5 68.6 314.1 68.6 314.7 68.6 315.3 68.6 315.9 68.6 316.5 68.6 317.1 68.6 317.7 68.6 318.3 68.6 318.9 68.6 319.5 68.6 320.1 68.6 320.7 68.6 321.3 68.6 321.9 68.6 322.5 68.6 323.1 68.7 323.7 68.7 324.3 68.7 324.9 68.7 325.5 68.7 326.1 68.7 326.7 68.7 327.3 68.7 327.9 68.7 328.5 68.7 329.1 68.7 329.7 68.7 330.3 68.7 330.9 68.7 331.5 68.7 332.1 68.7 332.7 68.7 333.3 68.7 333.9 68.7 334.5 68.7 335.1 68.7 335.7 68.7 336.3 68.7 336.9 68.7 337.5 68.7 338.1 68.7 338.7 68.7 339.3 68.7 339.9 68.7 340.5 68.7 341.1 68.7 341.7 68.7 342.3 68.7 342.9 68.7 343.5 68.7 344.1 68.7 344.7 68.7 345.3 68.7 345.9 68.7 346.5 68.7 347.1 68.7 347.7 68.7 348.3 68.7 348.9 68.7 349.5 68.7 350.1 68.8 350.7 68.8 351.3 68.8 351.9 68.8 352.5 68.8 353.1 68.8 353.7 68.8 354.3 68.8 354.9 68.8 355.5 68.8 356.1 68.8 356.7 68.8 357.3 68.8 357.9 68.8 358.5 68.8 359.1 68.8 359.7 68.8" stroke="#0000ff" stroke-width="1.7" fill="none"/>
<path d="M197.6 68.3 198.2 68.3 198.8 68.3 199.4 68.3 200.0 68.3 200.6 68.3 201.2 68.3 201.8 68.3 202.4 68.3 203.0 68.3 203.6 68.3 204.2 68.3 204.8 68.3 205.4 68.3 206.0 68.3 206.6 68.3 207.2 68.3 207.8 68.3 208.4 68.3 209.0 68.3 209.6 68.3 210.2 68.3 210.8 68.3 211.4 68.3 212.0 68.3 212.6 68.3 213.2 68.3 213.8 68.3 214.4 68.3 215.0 68.3 215.6 68.3 216.2 68.3 216.8 68.3 217.4 68.3 218.0 68.3 218.6 68.3 219.2 68.3 219.8 68.3 220.4 68.3 221.0 68.3 221.6 68.3 222.2 68.3 222.8 68.3 223.4 68.3 224.0 68.3 224.6 68.3 225.2 68.3 225.8 68.3 226.4 68.2 227.0 68.2 227.6 68.2 228.2 68.2 228.8 68.2 229.4 68.2 230.0 68.2 230.6 68.2 231.2 68.2 231.8 68.2 232.4 68.2 233.0 68.1 233.6 68.1 234.2 68.1 234.8 68.0 235.4 68.0 236.0 67.9 236.6 67.8 237.2 67.6 237.8 67.5 238.4 67.3 239.0 67.0 239.6 66.7 240.2 66.4 240.8 65.9 241.4 65.4 242.0 64.8 242.6 64.1 243.2 63.3 243.8 62.5 244.4 61.5 245.0 60.5 245.6 59.3 246.2 58.2 246.8 56.9 247.4 55.7 248.0 54.5 248.6 53.4 249.2 52.3 249.8 51.3 250.4 50.5 251.0 49.8 251.6 49.4 252.2 49.2 252.8 49.2 253.4 49.4 254.0 49.8 254.6 50.3 255.2 51.0 255.8 51.8 256.4 52.7 257.0 53.7 257.6 54.7 258.2 55.8 258.8 56.9 259.4 58.0 260.0 59.1 260.6 60.1 261.2 61.0 261.8 61.9 262.4 62.8 263.0 63.5 263.6 64.2 264.2 64.9 264.8 65.4 265.4 65.9 266.0 66.3 266.6 66.6 267.2 66.9 267.8 67.2 268.4 67.4 269.0 67.6 269.6 67.7 270.2 67.9 270.8 68.0 271.4 68.0 272.0 68.1 272.6 68.2 273.2 68.2 273.8 68.2 274.4 68.3 275.0 68.3 275.6 68.3 276.2 68.3 276.8 68.3 277.4 68.4 278.0 68.4 278.6 68.4 279.3 68.4 279.9 68.4 280.5 68.4 281.1 68.4 281.7 68.4 282.3 68.4 282.9 68.4 283.5 68.4 284.1 68.4 284.7 68.5 285.3 68.5 285.9 68.5 286.5 68.5 287.1 68.5 287.7 68.5 288.3 68.5 288.9 68.5 289.5 68.5 290.1 68.5 290.7 68.5 291.3 68.5 291.9 68.5 292.5 68.5 293.1 68.5 293.7 68.5 294.3 68.5 294.9 68.5 295.5 68.5 296.1 68.5 296.7 68.5 297.3 68.5 297.9 68.5 298.5 68.6 299.1 68.6 299.7 68.6 300.3 68.6 300.9 68.6 301.5 68.6 302.1 68.6 302.7 68.6 303.3 68.6 303.9 68.6 304.5 68.6 305.1 68.6 305.7 68.6 306.3 68.6 306.9 68.6 307.5 68.6 308.1 68.6 308.7 68.6 309.3 68.6 309.9 68.6 310.5 68.6 311.1 68.6 311.7 68.6 312.3 68.6 312.9 68.6 313.5 68.6 314.1 68.6 314.7 68.6 315.3 68.6 315.9 68.6 316.5 68.6 317.1 68.6 317.7 68.6 318.3 68.6 318.9 68.6 319.5 68.6 320.1 68.7 320.7 68.7 321.3 68.7 321.9 68.7 322.5 68.7 323.1 68.7 323.7 68.7 324.3 68.7 324.9 68.7 325.5 68.7 326.1 68.7 326.7 68.7 327.3 68.7 327.9 68.7 328.5 68.7 329.1 68.7 329.7 68.7 330.3 68.7 330.9 68.7 331.5 68.7 332.1 68.7 332.7 68.7 333.3 68.7 333.9 68.7 334.5 68.7 335.1 68.7 335.7 68.7 336.3 68.7 336.9 68.7 337.5 68.7 338.1 68.7 338.7 68.7 339.3 68.7 339.9 68.7 340.5 68.7 341.1 68.7 341.7 68.7 342.3 68.7 342.9 68.7 343.5 68.7 344.1 68.7 344.7 68.7 345.3 68.7 345.9 68.7 346.5 68.7 347.1 68.7 347.7 68.7 348.3 68.8 348.9 68.8 349.5 68.8 350.1 68.8 350.7 68.8 351.3 68.8 351.9 68.8 352.5 68.8 353.1 68.8 353.7 68.8 354.3 68.8 354.9 68.8 355.5 68.8 356.1 68.8 356.7 68.8 357.3 68.8 357.9 68.8 358.5 68.8 359.1 68.8 359.7 68.8" stroke="#ff1080" stroke-width="1.5" fill="none"/>
<path d="M197.6 68.3 198.2 68.3 198.8 68.3 199.4 68.3 200.0 68.3 200.6 68.3 201.2 68.3 201.8 68.3 202.4 68.3 203.0 68.3 203.6 68.3 204.2 68.3 204.8 68.3 205.4 68.3 206.0 68.3 206.6 68.3 207.2 68.3 207.8 68.3 208.4 68.3 209.0 68.3 209.6 68.3 210.2 68.3 210.8 68.3 211.4 68.3 212.0 68.3 212.6 68.3 213.2 68.3 213.8 68.3 214.4 68.3 215.0 68.3 215.6 68.3 216.2 68.3 216.8 68.3 217.4 68.3 218.0 68.3 218.6 68.3 219.2 68.3 219.8 68.4 220.4 68.4 221.0 68.4 221.6 68.4 222.2 68.4 222.8 68.4 223.4 68.4 224.0 68.4 224.6 68.4 225.2 68.4 225.8 68.4 226.4 68.4 227.0 68.4 227.6 68.4 228.2 68.4 228.8 68.4 229.4 68.4 230.0 68.4 230.6 68.4 231.2 68.3 231.8 68.3 232.4 68.3 233.0 68.3 233.6 68.3 234.2 68.3 234.8 68.3 235.4 68.3 236.0 68.3 236.6 68.3 237.2 68.3 237.8 68.3 238.4 68.3 239.0 68.2 239.6 68.2 240.2 68.2 240.8 68.2 241.4 68.2 242.0 68.1 242.6 68.1 243.2 68.1 243.8 68.1 244.4 68.0 245.0 68.0 245.6 68.0 246.2 67.9 246.8 67.9 247.4 67.8 248.0 67.8 248.6 67.7 249.2 67.7 249.8 67.6 250.4 67.6 251.0 67.5 251.6 67.5 252.2 67.4 252.8 67.4 253.4 67.3 254.0 67.3 254.6 67.2 255.2 67.1 255.8 67.1 256.4 67.0 257.0 67.0 257.6 66.9 258.2 66.9 258.8 66.8 259.4 66.8 260.0 66.7 260.6 66.7 261.2 66.7 261.8 66.6 262.4 66.6 263.0 66.6 263.6 66.5 264.2 66.5 264.8 66.5 265.4 66.5 266.0 66.5 266.6 66.5 267.2 66.5 267.8 66.5 268.4 66.6 269.0 66.6 269.6 66.6 270.2 66.6 270.8 66.7 271.4 66.7 272.0 66.8 272.6 66.8 273.2 66.9 273.8 66.9 274.4 67.0 275.0 67.0 275.6 67.1 276.2 67.2 276.8 67.2 277.4 67.3 278.0 67.3 278.6 67.4 279.3 67.5 279.9 67.5 280.5 67.6 281.1 67.6 281.7 67.7 282.3 67.8 282.9 67.8 283.5 67.9 284.1 67.9 284.7 68.0 285.3 68.0 285.9 68.0 286.5 68.1 287.1 68.1 287.7 68.2 288.3 68.2 288.9 68.2 289.5 68.3 290.1 68.3 290.7 68.3 291.3 68.3 291.9 68.4 292.5 68.4 293.1 68.4 293.7 68.4 294.3 68.4 294.9 68.5 295.5 68.5 296.1 68.5 296.7 68.5 297.3 68.5 297.9 68.5 298.5 68.5 299.1 68.5 299.7 68.5 300.3 68.6 300.9 68.6 301.5 68.6 302.1 68.6 302.7 68.6 303.3 68.6 303.9 68.6 304.5 68.6 305.1 68.6 305.7 68.6 306.3 68.6 306.9 68.6 307.5 68.6 308.1 68.6 308.7 68.6 309.3 68.6 309.9 68.6 310.5 68.6 311.1 68.6 311.7 68.6 312.3 68.6 312.9 68.6 313.5 68.6 314.1 68.6 314.7 68.6 315.3 68.6 315.9 68.6 316.5 68.7 317.1 68.7 317.7 68.7 318.3 68.7 318.9 68.7 319.5 68.7 320.1 68.7 320.7 68.7 321.3 68.7 321.9 68.7 322.5 68.7 323.1 68.7 323.7 68.7 324.3 68.7 324.9 68.7 325.5 68.7 326.1 68.7 326.7 68.7 327.3 68.7 327.9 68.7 328.5 68.7 329.1 68.7 329.7 68.7 330.3 68.7 330.9 68.7 331.5 68.7 332.1 68.7 332.7 68.7 333.3 68.7 333.9 68.7 334.5 68.7 335.1 68.7 335.7 68.7 336.3 68.7 336.9 68.7 337.5 68.7 338.1 68.7 338.7 68.7 339.3 68.7 339.9 68.7 340.5 68.7 341.1 68.7 341.7 68.7 342.3 68.7 342.9 68.7 343.5 68.7 344.1 68.7 344.7 68.7 345.3 68.7 345.9 68.8 346.5 68.8 347.1 68.8 347.7 68.8 348.3 68.8 348.9 68.8 349.5 68.8 350.1 68.8 350.7 68.8 351.3 68.8 351.9 68.8 352.5 68.8 353.1 68.8 353.7 68.8 354.3 68.8 354.9 68.8 355.5 68.8 356.1 68.8 356.7 68.8 357.3 68.8 357.9 68.8 358.5 68.8 359.1 68.8 359.7 68.8" stroke="#128a70" stroke-width="1.1" fill="none"/>
<line x1="261.60" y1="28.00" x2="261.60" y2="69.00" stroke="#444444" stroke-width="0.9" stroke-dasharray="1.6,2.6"/>
<line x1="279.20" y1="36.00" x2="279.20" y2="69.00" stroke="#444444" stroke-width="0.9" stroke-dasharray="1.6,2.6"/>
<text x="245.40" y="20.10" font-size="10.2" fill="#ff1080" stroke="#ff1080" stroke-width="0.22">O</text>
<text x="253.53" y="24.40" font-size="5.6" fill="#ff1080" stroke="#ff1080" stroke-width="0.13">bulk</text>
<text x="264.11" y="14.10" font-size="5.6" fill="#ff1080" stroke="#ff1080" stroke-width="0.13">2-</text>
<text x="269.69" y="19.60" font-size="6.4" fill="#ff1080" stroke="#ff1080" stroke-width="0.22">1s</text>
<text x="277.60" y="34.90" font-size="10.2" fill="#128a70" stroke="#128a70" stroke-width="0.22">O</text>
<text x="285.73" y="39.20" font-size="5.6" fill="#128a70" stroke="#128a70" stroke-width="0.13">surf</text>
<text x="295.37" y="28.90" font-size="5.6" fill="#128a70" stroke="#128a70" stroke-width="0.13">2-</text>
<text x="300.95" y="34.40" font-size="6.4" fill="#128a70" stroke="#128a70" stroke-width="0.22">1s</text>
<rect x="198.40" y="26.60" width="24.20" height="17.70" fill="#555"/>
<rect x="197.40" y="25.40" width="23.40" height="16.90" fill="#fff" stroke="#d8d8d8" stroke-width="0.7"/>
<text x="200.80" y="35.80" font-size="8.8" stroke="#000" stroke-width="0.22" font-weight="bold">WO</text>
<text x="216.35" y="39.60" font-size="5.4" stroke="#000" stroke-width="0.13" font-weight="bold">3</text>
<line x1="197.60" y1="75.60" x2="197.60" y2="120.30" stroke="#b8b8b8" stroke-width="0.9"/>
<line x1="197.60" y1="120.30" x2="359.70" y2="120.30" stroke="#b8b8b8" stroke-width="0.9"/>
<line x1="217.59" y1="120.30" x2="217.59" y2="119.10" stroke="#9a9a9a" stroke-width="0.7"/>
<line x1="237.73" y1="120.30" x2="237.73" y2="118.30" stroke="#9a9a9a" stroke-width="0.7"/>
<line x1="257.88" y1="120.30" x2="257.88" y2="119.10" stroke="#9a9a9a" stroke-width="0.7"/>
<line x1="278.02" y1="120.30" x2="278.02" y2="118.30" stroke="#9a9a9a" stroke-width="0.7"/>
<line x1="298.17" y1="120.30" x2="298.17" y2="119.10" stroke="#9a9a9a" stroke-width="0.7"/>
<line x1="318.31" y1="120.30" x2="318.31" y2="118.30" stroke="#9a9a9a" stroke-width="0.7"/>
<line x1="338.46" y1="120.30" x2="338.46" y2="119.10" stroke="#9a9a9a" stroke-width="0.7"/>
<line x1="358.60" y1="120.30" x2="358.60" y2="118.30" stroke="#9a9a9a" stroke-width="0.7"/>
<path d="M197.6 96.5 198.2 96.5 198.8 96.5 199.4 96.5 200.0 96.5 200.6 96.5 201.2 96.5 201.8 96.5 202.4 96.5 203.0 96.5 203.6 96.5 204.2 96.5 204.8 96.5 205.4 96.5 206.0 96.5 206.6 96.5 207.2 96.5 207.8 96.5 208.4 96.4 209.0 96.4 209.6 96.4 210.2 96.4 210.8 96.4 211.4 96.4 212.0 96.4 212.6 96.4 213.2 96.4 213.8 96.4 214.4 96.3 215.0 96.3 215.6 96.3 216.2 96.3 216.8 96.3 217.4 96.2 218.0 96.2 218.6 96.2 219.2 96.1 219.8 96.1 220.4 96.0 221.0 96.0 221.6 95.9 222.2 95.9 222.8 95.8 223.4 95.7 224.0 95.6 224.6 95.5 225.2 95.4 225.8 95.3 226.4 95.2 227.0 95.1 227.6 95.0 228.2 94.8 228.8 94.7 229.4 94.5 230.0 94.3 230.6 94.1 231.2 93.9 231.8 93.7 232.4 93.5 233.0 93.2 233.6 93.0 234.2 92.7 234.8 92.4 235.4 92.1 236.0 91.8 236.6 91.5 237.2 91.2 237.8 90.8 238.4 90.4 239.0 90.1 239.6 89.7 240.2 89.3 240.8 88.9 241.4 88.4 242.0 88.0 242.6 87.6 243.2 87.2 243.8 86.7 244.4 86.3 245.0 85.8 245.6 85.4 246.2 85.0 246.8 84.5 247.4 84.1 248.0 83.7 248.6 83.3 249.2 82.9 249.8 82.5 250.4 82.1 251.0 81.8 251.6 81.4 252.2 81.1 252.8 80.8 253.4 80.6 254.0 80.3 254.6 80.1 255.2 80.0 255.8 79.8 256.4 79.7 257.0 79.6 257.6 79.5 258.2 79.5 258.8 79.5 259.4 79.5 260.0 79.6 260.6 79.7 261.2 79.8 261.8 79.9 262.4 80.1 263.0 80.3 263.6 80.5 264.2 80.8 264.8 81.0 265.4 81.3 266.0 81.6 266.6 81.9 267.2 82.2 267.8 82.6 268.4 82.9 269.0 83.3 269.6 83.7 270.2 84.0 270.8 84.4 271.4 84.8 272.0 85.2 272.6 85.5 273.2 85.9 273.8 86.3 274.4 86.7 275.0 87.0 275.6 87.4 276.2 87.8 276.8 88.1 277.4 88.5 278.0 88.8 278.6 89.1 279.3 89.5 279.9 89.8 280.5 90.1 281.1 90.4 281.7 90.7 282.3 90.9 282.9 91.2 283.5 91.5 284.1 91.7 284.7 92.0 285.3 92.2 285.9 92.4 286.5 92.7 287.1 92.9 287.7 93.1 288.3 93.2 288.9 93.4 289.5 93.6 290.1 93.8 290.7 93.9 291.3 94.1 291.9 94.2 292.5 94.4 293.1 94.5 293.7 94.6 294.3 94.7 294.9 94.9 295.5 95.0 296.1 95.1 296.7 95.2 297.3 95.3 297.9 95.3 298.5 95.4 299.1 95.5 299.7 95.6 300.3 95.6 300.9 95.7 301.5 95.8 302.1 95.8 302.7 95.9 303.3 95.9 303.9 96.0 304.5 96.0 305.1 96.1 305.7 96.1 306.3 96.1 306.9 96.2 307.5 96.2 308.1 96.2 308.7 96.3 309.3 96.3 309.9 96.3 310.5 96.3 311.1 96.4 311.7 96.4 312.3 96.4 312.9 96.4 313.5 96.4 314.1 96.4 314.7 96.5 315.3 96.5 315.9 96.5 316.5 96.5 317.1 96.5 317.7 96.5 318.3 96.5 318.9 96.5 319.5 96.5 320.1 96.5 320.7 96.5 321.3 96.5 321.9 96.6 322.5 96.6 323.1 96.6 323.7 96.6 324.3 96.6 324.9 96.6 325.5 96.6 326.1 96.6 326.7 96.6 327.3 96.6 327.9 96.6 328.5 96.6 329.1 96.6 329.7 96.6 330.3 96.6 330.9 96.6 331.5 96.6 332.1 96.6 332.7 96.6 333.3 96.6 333.9 96.6 334.5 96.6 335.1 96.6 335.7 96.6 336.3 96.6 336.9 96.6 337.5 96.6 338.1 96.6 338.7 96.6 339.3 96.6 339.9 96.6 340.5 96.6 341.1 96.6 341.7 96.6 342.3 96.6 342.9 96.6 343.5 96.6 344.1 96.6 344.7 96.6 345.3 96.6 345.9 96.6 346.5 96.6 347.1 96.6 347.7 96.6 348.3 96.6 348.9 96.6 349.5 96.6 350.1 96.6 350.7 96.6 351.3 96.6 351.9 96.6 352.5 96.6 353.1 96.6 353.7 96.6 354.3 96.7 354.9 96.7 355.5 96.7 356.1 96.7 356.7 96.7 357.3 96.7 357.9 96.7 358.5 96.7 359.1 96.7 359.7 96.7" stroke="#959500" stroke-width="1.7" fill="none"/>
<path d="M232.0 97.1 232.6 97.1 233.2 97.1 233.8 97.1 234.4 97.1 235.0 97.1 235.6 97.1 236.2 97.1 236.8 97.1 237.4 97.1 238.0 97.1 238.6 97.1 239.2 97.1 239.8 97.1 240.4 97.1 241.0 97.1 241.6 97.1 242.2 97.1 242.8 97.1 243.4 97.1 244.0 97.1 244.6 97.1 245.2 97.1 245.8 97.1 246.4 97.1 247.0 97.1 247.6 97.1 248.2 97.1 248.8 97.1 249.4 97.1 250.0 97.1 250.5 97.1 251.1 97.1 251.7 97.1 252.3 97.1 252.9 97.1 253.5 97.1 254.1 97.1 254.7 97.1 255.3 97.1 255.9 97.1 256.5 97.1 257.1 97.1 257.7 97.1 258.3 97.1 258.9 97.1 259.5 97.1 260.1 97.1 260.7 97.1 261.3 97.1 261.9 97.1 262.5 97.1 263.1 97.1 263.7 97.1 264.3 97.1 264.9 97.1 265.5 97.1 266.1 97.1 266.7 97.1 267.3 97.1 267.9 97.1 268.5 97.1 269.1 97.1 269.7 97.1 270.3 97.1 270.9 97.1 271.5 97.1 272.1 97.1 272.7 97.1 273.3 97.1 273.9 97.1 274.5 97.1 275.1 97.1 275.7 97.1 276.3 97.1 276.9 97.1 277.5 97.1 278.1 97.1 278.7 97.2 279.3 97.2 279.9 97.2 280.5 97.2 281.1 97.2 281.7 97.2 282.3 97.2 282.9 97.2 283.5 97.2 284.1 97.2 284.7 97.2 285.3 97.2 285.9 97.2 286.5 97.2 287.0 97.2 287.6 97.2 288.2 97.2 288.8 97.2 289.4 97.2 290.0 97.2 290.6 97.2 291.2 97.2 291.8 97.2 292.4 97.2 293.0 97.2 293.6 97.2 294.2 97.2 294.8 97.2 295.4 97.2 296.0 97.2 296.6 97.2 297.2 97.2 297.8 97.2 298.4 97.2 299.0 97.2 299.6 97.2 300.2 97.2 300.8 97.2 301.4 97.2 302.0 97.2 302.6 97.2 303.2 97.2 303.8 97.2 304.4 97.2 305.0 97.2" stroke="#333" stroke-width="0.8" fill="none"/>
<path d="M197.6 96.5 198.2 96.5 198.8 96.5 199.4 96.5 200.0 96.5 200.6 96.5 201.2 96.5 201.8 96.5 202.4 96.5 203.0 96.5 203.6 96.5 204.2 96.5 204.8 96.5 205.4 96.5 206.0 96.5 206.6 96.5 207.2 96.5 207.8 96.5 208.4 96.5 209.0 96.5 209.6 96.4 210.2 96.4 210.8 96.4 211.4 96.4 212.0 96.4 212.6 96.4 213.2 96.4 213.8 96.4 214.4 96.4 215.0 96.3 215.6 96.3 216.2 96.3 216.8 96.3 217.4 96.2 218.0 96.2 218.6 96.2 219.2 96.1 219.8 96.1 220.4 96.0 221.0 96.0 221.6 95.9 222.2 95.9 222.8 95.8 223.4 95.7 224.0 95.7 224.6 95.6 225.2 95.5 225.8 95.4 226.4 95.3 227.0 95.1 227.6 95.0 228.2 94.9 228.8 94.7 229.4 94.5 230.0 94.4 230.6 94.2 231.2 94.0 231.8 93.8 232.4 93.5 233.0 93.3 233.6 93.0 234.2 92.8 234.8 92.5 235.4 92.2 236.0 91.9 236.6 91.6 237.2 91.2 237.8 90.9 238.4 90.5 239.0 90.1 239.6 89.8 240.2 89.4 240.8 89.0 241.4 88.6 242.0 88.2 242.6 87.7 243.2 87.3 243.8 86.9 244.4 86.5 245.0 86.0 245.6 85.6 246.2 85.2 246.8 84.8 247.4 84.4 248.0 84.0 248.6 83.6 249.2 83.2 249.8 82.9 250.4 82.5 251.0 82.2 251.6 81.9 252.2 81.6 252.8 81.4 253.4 81.2 254.0 81.0 254.6 80.8 255.2 80.7 255.8 80.6 256.4 80.5 257.0 80.4 257.6 80.4 258.2 80.5 258.8 80.5 259.4 80.6 260.0 80.7 260.6 80.9 261.2 81.1 261.8 81.3 262.4 81.5 263.0 81.8 263.6 82.1 264.2 82.4 264.8 82.7 265.4 83.0 266.0 83.4 266.6 83.8 267.2 84.2 267.8 84.6 268.4 85.0 269.0 85.4 269.6 85.8 270.2 86.2 270.8 86.7 271.4 87.1 272.0 87.5 272.6 87.9 273.2 88.4 273.8 88.8 274.4 89.2 275.0 89.6 275.6 90.0 276.2 90.3 276.8 90.7 277.4 91.1 278.0 91.4 278.6 91.7 279.3 92.0 279.9 92.3 280.5 92.6 281.1 92.9 281.7 93.2 282.3 93.4 282.9 93.7 283.5 93.9 284.1 94.1 284.7 94.3 285.3 94.5 285.9 94.6 286.5 94.8 287.1 95.0 287.7 95.1 288.3 95.2 288.9 95.3 289.5 95.5 290.1 95.6 290.7 95.6 291.3 95.7 291.9 95.8 292.5 95.9 293.1 96.0 293.7 96.0 294.3 96.1 294.9 96.1 295.5 96.2 296.1 96.2 296.7 96.2 297.3 96.3 297.9 96.3 298.5 96.3 299.1 96.4 299.7 96.4 300.3 96.4 300.9 96.4 301.5 96.4 302.1 96.4 302.7 96.5 303.3 96.5 303.9 96.5 304.5 96.5 305.1 96.5 305.7 96.5 306.3 96.5 306.9 96.5 307.5 96.5 308.1 96.5 308.7 96.5 309.3 96.5 309.9 96.5 310.5 96.6 311.1 96.6 311.7 96.6 312.3 96.6 312.9 96.6 313.5 96.6 314.1 96.6 314.7 96.6 315.3 96.6 315.9 96.6 316.5 96.6 317.1 96.6 317.7 96.6 318.3 96.6 318.9 96.6 319.5 96.6 320.1 96.6 320.7 96.6 321.3 96.6 321.9 96.6 322.5 96.6 323.1 96.6 323.7 96.6 324.3 96.6 324.9 96.6 325.5 96.6 326.1 96.6 326.7 96.6 327.3 96.6 327.9 96.6 328.5 96.6 329.1 96.6 329.7 96.6 330.3 96.6 330.9 96.6 331.5 96.6 332.1 96.6 332.7 96.6 333.3 96.6 333.9 96.6 334.5 96.6 335.1 96.6 335.7 96.6 336.3 96.6 336.9 96.6 337.5 96.6 338.1 96.6 338.7 96.6 339.3 96.6 339.9 96.6 340.5 96.6 341.1 96.6 341.7 96.6 342.3 96.6 342.9 96.6 343.5 96.6 344.1 96.6 344.7 96.6 345.3 96.6 345.9 96.7 346.5 96.7 347.1 96.7 347.7 96.7 348.3 96.7 348.9 96.7 349.5 96.7 350.1 96.7 350.7 96.7 351.3 96.7 351.9 96.7 352.5 96.7 353.1 96.7 353.7 96.7 354.3 96.7 354.9 96.7 355.5 96.7 356.1 96.7 356.7 96.7 357.3 96.7 357.9 96.7 358.5 96.7 359.1 96.7 359.7 96.7" stroke="#ff1080" stroke-width="1.5" fill="none"/>
<path d="M197.6 96.6 198.2 96.6 198.8 96.6 199.4 96.6 200.0 96.6 200.6 96.6 201.2 96.6 201.8 96.6 202.4 96.6 203.0 96.6 203.6 96.6 204.2 96.6 204.8 96.6 205.4 96.6 206.0 96.6 206.6 96.6 207.2 96.6 207.8 96.6 208.4 96.6 209.0 96.6 209.6 96.6 210.2 96.6 210.8 96.6 211.4 96.6 212.0 96.6 212.6 96.6 213.2 96.6 213.8 96.6 214.4 96.6 215.0 96.6 215.6 96.6 216.2 96.6 216.8 96.6 217.4 96.6 218.0 96.6 218.6 96.6 219.2 96.6 219.8 96.6 220.4 96.6 221.0 96.6 221.6 96.6 222.2 96.6 222.8 96.6 223.4 96.6 224.0 96.6 224.6 96.6 225.2 96.6 225.8 96.6 226.4 96.6 227.0 96.6 227.6 96.6 228.2 96.6 228.8 96.6 229.4 96.6 230.0 96.6 230.6 96.6 231.2 96.6 231.8 96.6 232.4 96.6 233.0 96.6 233.6 96.6 234.2 96.6 234.8 96.6 235.4 96.6 236.0 96.6 236.6 96.6 237.2 96.6 237.8 96.5 238.4 96.5 239.0 96.5 239.6 96.5 240.2 96.5 240.8 96.5 241.4 96.5 242.0 96.5 242.6 96.5 243.2 96.5 243.8 96.5 244.4 96.4 245.0 96.4 245.6 96.4 246.2 96.4 246.8 96.4 247.4 96.4 248.0 96.3 248.6 96.3 249.2 96.3 249.8 96.3 250.4 96.2 251.0 96.2 251.6 96.2 252.2 96.1 252.8 96.1 253.4 96.1 254.0 96.0 254.6 96.0 255.2 95.9 255.8 95.9 256.4 95.8 257.0 95.8 257.6 95.7 258.2 95.7 258.8 95.6 259.4 95.6 260.0 95.5 260.6 95.4 261.2 95.4 261.8 95.3 262.4 95.2 263.0 95.2 263.6 95.1 264.2 95.0 264.8 95.0 265.4 94.9 266.0 94.8 266.6 94.8 267.2 94.7 267.8 94.7 268.4 94.6 269.0 94.5 269.6 94.5 270.2 94.4 270.8 94.4 271.4 94.3 272.0 94.3 272.6 94.2 273.2 94.2 273.8 94.2 274.4 94.1 275.0 94.1 275.6 94.1 276.2 94.1 276.8 94.1 277.4 94.1 278.0 94.0 278.6 94.1 279.3 94.1 279.9 94.1 280.5 94.1 281.1 94.1 281.7 94.1 282.3 94.2 282.9 94.2 283.5 94.2 284.1 94.3 284.7 94.3 285.3 94.4 285.9 94.4 286.5 94.5 287.1 94.6 287.7 94.6 288.3 94.7 288.9 94.7 289.5 94.8 290.1 94.9 290.7 94.9 291.3 95.0 291.9 95.1 292.5 95.1 293.1 95.2 293.7 95.3 294.3 95.3 294.9 95.4 295.5 95.5 296.1 95.5 296.7 95.6 297.3 95.6 297.9 95.7 298.5 95.8 299.1 95.8 299.7 95.9 300.3 95.9 300.9 96.0 301.5 96.0 302.1 96.0 302.7 96.1 303.3 96.1 303.9 96.2 304.5 96.2 305.1 96.2 305.7 96.3 306.3 96.3 306.9 96.3 307.5 96.4 308.1 96.4 308.7 96.4 309.3 96.4 309.9 96.4 310.5 96.5 311.1 96.5 311.7 96.5 312.3 96.5 312.9 96.5 313.5 96.5 314.1 96.5 314.7 96.6 315.3 96.6 315.9 96.6 316.5 96.6 317.1 96.6 317.7 96.6 318.3 96.6 318.9 96.6 319.5 96.6 320.1 96.6 320.7 96.6 321.3 96.6 321.9 96.6 322.5 96.6 323.1 96.6 323.7 96.6 324.3 96.6 324.9 96.6 325.5 96.6 326.1 96.6 326.7 96.6 327.3 96.6 327.9 96.7 328.5 96.7 329.1 96.7 329.7 96.7 330.3 96.7 330.9 96.7 331.5 96.7 332.1 96.7 332.7 96.7 333.3 96.7 333.9 96.7 334.5 96.7 335.1 96.7 335.7 96.7 336.3 96.7 336.9 96.7 337.5 96.7 338.1 96.7 338.7 96.7 339.3 96.7 339.9 96.7 340.5 96.7 341.1 96.7 341.7 96.7 342.3 96.7 342.9 96.7 343.5 96.7 344.1 96.7 344.7 96.7 345.3 96.7 345.9 96.7 346.5 96.7 347.1 96.7 347.7 96.7 348.3 96.7 348.9 96.7 349.5 96.7 350.1 96.7 350.7 96.7 351.3 96.7 351.9 96.7 352.5 96.7 353.1 96.7 353.7 96.7 354.3 96.7 354.9 96.7 355.5 96.7 356.1 96.7 356.7 96.7 357.3 96.7 357.9 96.7 358.5 96.7 359.1 96.7 359.7 96.7" stroke="#12876e" stroke-width="1.4" fill="none"/>
<path d="M197.6 119.3 198.2 119.2 198.8 119.2 199.4 119.2 200.0 119.2 200.6 119.2 201.2 119.2 201.8 119.2 202.4 119.2 203.0 119.2 203.6 119.2 204.2 119.2 204.8 119.2 205.4 119.2 206.0 119.2 206.6 119.2 207.2 119.2 207.8 119.2 208.4 119.2 209.0 119.2 209.6 119.2 210.2 119.2 210.8 119.2 211.4 119.2 212.0 119.2 212.6 119.2 213.2 119.2 213.8 119.2 214.4 119.2 215.0 119.2 215.6 119.2 216.2 119.1 216.8 119.1 217.4 119.1 218.0 119.1 218.6 119.1 219.2 119.1 219.8 119.1 220.4 119.1 221.0 119.1 221.6 119.1 222.2 119.1 222.8 119.1 223.4 119.1 224.0 119.1 224.6 119.1 225.2 119.1 225.8 119.1 226.4 119.0 227.0 119.0 227.6 119.0 228.2 119.0 228.8 119.0 229.4 119.0 230.0 119.0 230.6 119.0 231.2 118.9 231.8 118.9 232.4 118.9 233.0 118.9 233.6 118.9 234.2 118.8 234.8 118.8 235.4 118.7 236.0 118.7 236.6 118.6 237.2 118.5 237.8 118.4 238.4 118.2 239.0 118.0 239.6 117.8 240.2 117.5 240.8 117.2 241.4 116.8 242.0 116.3 242.6 115.7 243.2 115.0 243.8 114.3 244.4 113.4 245.0 112.5 245.6 111.4 246.2 110.3 246.8 109.1 247.4 107.9 248.0 106.6 248.6 105.3 249.2 104.0 249.8 102.8 250.4 101.7 251.0 100.6 251.6 99.8 252.2 99.1 252.8 98.7 253.4 98.5 254.0 98.5 254.6 98.7 255.2 99.1 255.8 99.6 256.4 100.3 257.0 101.1 257.6 102.0 258.2 103.0 258.8 104.0 259.4 105.0 260.0 106.0 260.6 107.0 261.2 108.0 261.8 108.9 262.4 109.8 263.0 110.6 263.6 111.3 264.2 112.0 264.8 112.5 265.4 113.1 266.0 113.5 266.6 113.9 267.2 114.2 267.8 114.5 268.4 114.7 269.0 114.9 269.6 115.0 270.2 115.2 270.8 115.3 271.4 115.4 272.0 115.5 272.6 115.6 273.2 115.6 273.8 115.7 274.4 115.7 275.0 115.8 275.6 115.8 276.2 115.9 276.8 116.0 277.4 116.0 278.0 116.1 278.6 116.1 279.3 116.2 279.9 116.2 280.5 116.3 281.1 116.3 281.7 116.4 282.3 116.5 282.9 116.5 283.5 116.6 284.1 116.7 284.7 116.7 285.3 116.8 285.9 116.9 286.5 117.0 287.1 117.0 287.7 117.1 288.3 117.2 288.9 117.2 289.5 117.3 290.1 117.4 290.7 117.4 291.3 117.5 291.9 117.6 292.5 117.6 293.1 117.7 293.7 117.8 294.3 117.8 294.9 117.9 295.5 117.9 296.1 118.0 296.7 118.0 297.3 118.1 297.9 118.1 298.5 118.2 299.1 118.2 299.7 118.3 300.3 118.3 300.9 118.4 301.5 118.4 302.1 118.4 302.7 118.5 303.3 118.5 303.9 118.5 304.5 118.6 305.1 118.6 305.7 118.6 306.3 118.6 306.9 118.7 307.5 118.7 308.1 118.7 308.7 118.7 309.3 118.7 309.9 118.7 310.5 118.8 311.1 118.8 311.7 118.8 312.3 118.8 312.9 118.8 313.5 118.8 314.1 118.8 314.7 118.8 315.3 118.8 315.9 118.9 316.5 118.9 317.1 118.9 317.7 118.9 318.3 118.9 318.9 118.9 319.5 118.9 320.1 118.9 320.7 118.9 321.3 118.9 321.9 118.9 322.5 118.9 323.1 118.9 323.7 118.9 324.3 118.9 324.9 118.9 325.5 118.9 326.1 118.9 326.7 118.9 327.3 118.9 327.9 118.9 328.5 118.9 329.1 118.9 329.7 118.9 330.3 118.9 330.9 118.9 331.5 118.9 332.1 118.9 332.7 118.9 333.3 118.9 333.9 118.9 334.5 118.9 335.1 118.9 335.7 118.9 336.3 118.9 336.9 118.9 337.5 118.9 338.1 118.9 338.7 118.9 339.3 118.9 339.9 118.9 340.5 118.9 341.1 118.9 341.7 118.9 342.3 118.9 342.9 118.9 343.5 118.9 344.1 118.9 344.7 118.9 345.3 118.9 345.9 118.9 346.5 118.9 347.1 118.9 347.7 118.9 348.3 118.9 348.9 118.9 349.5 118.9 350.1 118.9 350.7 118.9 351.3 118.9 351.9 118.9 352.5 118.9 353.1 118.9 353.7 118.9 354.3 118.9 354.9 118.9 355.5 118.9 356.1 118.9 356.7 118.9 357.3 118.9 357.9 118.9 358.5 118.9 359.1 118.9 359.7 118.9" stroke="#0000ff" stroke-width="1.7" fill="none"/>
<path d="M197.6 119.3 198.2 119.3 198.8 119.3 199.4 119.3 200.0 119.2 200.6 119.2 201.2 119.2 201.8 119.2 202.4 119.2 203.0 119.2 203.6 119.2 204.2 119.2 204.8 119.2 205.4 119.2 206.0 119.2 206.6 119.2 207.2 119.2 207.8 119.2 208.4 119.2 209.0 119.2 209.6 119.2 210.2 119.2 210.8 119.2 211.4 119.2 212.0 119.2 212.6 119.2 213.2 119.2 213.8 119.2 214.4 119.2 215.0 119.2 215.6 119.2 216.2 119.2 216.8 119.2 217.4 119.2 218.0 119.1 218.6 119.1 219.2 119.1 219.8 119.1 220.4 119.1 221.0 119.1 221.6 119.1 222.2 119.1 222.8 119.1 223.4 119.1 224.0 119.1 224.6 119.1 225.2 119.1 225.8 119.1 226.4 119.1 227.0 119.1 227.6 119.0 228.2 119.0 228.8 119.0 229.4 119.0 230.0 119.0 230.6 119.0 231.2 119.0 231.8 119.0 232.4 118.9 233.0 118.9 233.6 118.9 234.2 118.8 234.8 118.8 235.4 118.8 236.0 118.7 236.6 118.6 237.2 118.5 237.8 118.4 238.4 118.3 239.0 118.1 239.6 117.8 240.2 117.6 240.8 117.2 241.4 116.8 242.0 116.3 242.6 115.8 243.2 115.1 243.8 114.4 244.4 113.5 245.0 112.6 245.6 111.6 246.2 110.5 246.8 109.3 247.4 108.0 248.0 106.8 248.6 105.5 249.2 104.3 249.8 103.1 250.4 102.0 251.0 101.0 251.6 100.2 252.2 99.6 252.8 99.2 253.4 99.1 254.0 99.1 254.6 99.4 255.2 99.9 255.8 100.5 256.4 101.2 257.0 102.1 257.6 103.1 258.2 104.1 258.8 105.2 259.4 106.4 260.0 107.5 260.6 108.6 261.2 109.7 261.8 110.7 262.4 111.7 263.0 112.6 263.6 113.4 264.2 114.2 264.8 114.9 265.4 115.5 266.0 116.0 266.6 116.5 267.2 116.9 267.8 117.2 268.4 117.5 269.0 117.8 269.6 118.0 270.2 118.1 270.8 118.3 271.4 118.4 272.0 118.5 272.6 118.6 273.2 118.6 273.8 118.7 274.4 118.7 275.0 118.7 275.6 118.8 276.2 118.8 276.8 118.8 277.4 118.8 278.0 118.8 278.6 118.9 279.3 118.9 279.9 118.9 280.5 118.9 281.1 118.9 281.7 118.9 282.3 118.9 282.9 118.9 283.5 118.9 284.1 118.9 284.7 118.9 285.3 118.9 285.9 118.9 286.5 118.9 287.1 118.9 287.7 118.9 288.3 118.9 288.9 118.9 289.5 119.0 290.1 119.0 290.7 119.0 291.3 119.0 291.9 119.0 292.5 119.0 293.1 119.0 293.7 119.0 294.3 119.0 294.9 119.0 295.5 119.0 296.1 119.0 296.7 119.0 297.3 119.0 297.9 119.0 298.5 119.0 299.1 119.0 299.7 119.0 300.3 119.0 300.9 119.0 301.5 119.0 302.1 119.0 302.7 119.0 303.3 119.0 303.9 119.0 304.5 119.0 305.1 119.0 305.7 119.0 306.3 119.0 306.9 119.0 307.5 119.0 308.1 119.0 308.7 119.0 309.3 119.0 309.9 119.0 310.5 119.0 311.1 119.0 311.7 119.0 312.3 119.0 312.9 119.0 313.5 119.0 314.1 119.0 314.7 119.0 315.3 119.0 315.9 119.0 316.5 119.0 317.1 119.0 317.7 119.0 318.3 119.0 318.9 119.0 319.5 119.0 320.1 119.0 320.7 119.0 321.3 119.0 321.9 119.0 322.5 119.0 323.1 119.0 323.7 119.0 324.3 119.0 324.9 119.0 325.5 119.0 326.1 119.0 326.7 119.0 327.3 118.9 327.9 118.9 328.5 118.9 329.1 118.9 329.7 118.9 330.3 118.9 330.9 118.9 331.5 118.9 332.1 118.9 332.7 118.9 333.3 118.9 333.9 118.9 334.5 118.9 335.1 118.9 335.7 118.9 336.3 118.9 336.9 118.9 337.5 118.9 338.1 118.9 338.7 118.9 339.3 118.9 339.9 118.9 340.5 118.9 341.1 118.9 341.7 118.9 342.3 118.9 342.9 118.9 343.5 118.9 344.1 118.9 344.7 118.9 345.3 118.9 345.9 118.9 346.5 118.9 347.1 118.9 347.7 118.9 348.3 118.9 348.9 118.9 349.5 118.9 350.1 118.9 350.7 118.9 351.3 118.9 351.9 118.9 352.5 118.9 353.1 118.9 353.7 118.9 354.3 118.9 354.9 118.9 355.5 118.9 356.1 118.9 356.7 118.9 357.3 118.9 357.9 118.9 358.5 118.9 359.1 118.9 359.7 118.9" stroke="#ff1080" stroke-width="1.5" fill="none"/>
<path d="M197.6 119.3 198.2 119.3 198.8 119.3 199.4 119.3 200.0 119.3 200.6 119.3 201.2 119.3 201.8 119.3 202.4 119.3 203.0 119.3 203.6 119.3 204.2 119.3 204.8 119.3 205.4 119.3 206.0 119.3 206.6 119.3 207.2 119.3 207.8 119.3 208.4 119.3 209.0 119.3 209.6 119.3 210.2 119.3 210.8 119.3 211.4 119.3 212.0 119.3 212.6 119.3 213.2 119.2 213.8 119.2 214.4 119.2 215.0 119.2 215.6 119.2 216.2 119.2 216.8 119.2 217.4 119.2 218.0 119.2 218.6 119.2 219.2 119.2 219.8 119.2 220.4 119.2 221.0 119.2 221.6 119.2 222.2 119.2 222.8 119.2 223.4 119.2 224.0 119.2 224.6 119.2 225.2 119.2 225.8 119.2 226.4 119.2 227.0 119.2 227.6 119.2 228.2 119.2 228.8 119.2 229.4 119.2 230.0 119.2 230.6 119.2 231.2 119.2 231.8 119.2 232.4 119.2 233.0 119.2 233.6 119.2 234.2 119.2 234.8 119.2 235.4 119.2 236.0 119.2 236.6 119.2 237.2 119.2 237.8 119.2 238.4 119.2 239.0 119.2 239.6 119.1 240.2 119.1 240.8 119.1 241.4 119.1 242.0 119.1 242.6 119.1 243.2 119.1 243.8 119.1 244.4 119.1 245.0 119.1 245.6 119.0 246.2 119.0 246.8 119.0 247.4 119.0 248.0 119.0 248.6 118.9 249.2 118.9 249.8 118.9 250.4 118.8 251.0 118.8 251.6 118.8 252.2 118.7 252.8 118.7 253.4 118.6 254.0 118.5 254.6 118.5 255.2 118.4 255.8 118.3 256.4 118.2 257.0 118.2 257.6 118.1 258.2 118.0 258.8 117.9 259.4 117.8 260.0 117.7 260.6 117.6 261.2 117.5 261.8 117.4 262.4 117.2 263.0 117.1 263.6 117.0 264.2 116.9 264.8 116.8 265.4 116.7 266.0 116.6 266.6 116.5 267.2 116.5 267.8 116.4 268.4 116.3 269.0 116.3 269.6 116.2 270.2 116.2 270.8 116.1 271.4 116.1 272.0 116.1 272.6 116.1 273.2 116.1 273.8 116.1 274.4 116.1 275.0 116.2 275.6 116.2 276.2 116.2 276.8 116.2 277.4 116.3 278.0 116.3 278.6 116.4 279.3 116.4 279.9 116.4 280.5 116.5 281.1 116.5 281.7 116.6 282.3 116.7 282.9 116.7 283.5 116.8 284.1 116.8 284.7 116.9 285.3 117.0 285.9 117.0 286.5 117.1 287.1 117.2 287.7 117.2 288.3 117.3 288.9 117.4 289.5 117.4 290.1 117.5 290.7 117.6 291.3 117.6 291.9 117.7 292.5 117.7 293.1 117.8 293.7 117.9 294.3 117.9 294.9 118.0 295.5 118.0 296.1 118.1 296.7 118.1 297.3 118.2 297.9 118.2 298.5 118.3 299.1 118.3 299.7 118.3 300.3 118.4 300.9 118.4 301.5 118.5 302.1 118.5 302.7 118.5 303.3 118.6 303.9 118.6 304.5 118.6 305.1 118.6 305.7 118.7 306.3 118.7 306.9 118.7 307.5 118.7 308.1 118.8 308.7 118.8 309.3 118.8 309.9 118.8 310.5 118.8 311.1 118.8 311.7 118.8 312.3 118.8 312.9 118.9 313.5 118.9 314.1 118.9 314.7 118.9 315.3 118.9 315.9 118.9 316.5 118.9 317.1 118.9 317.7 118.9 318.3 118.9 318.9 118.9 319.5 118.9 320.1 118.9 320.7 118.9 321.3 118.9 321.9 118.9 322.5 118.9 323.1 118.9 323.7 118.9 324.3 118.9 324.9 118.9 325.5 118.9 326.1 118.9 326.7 118.9 327.3 118.9 327.9 118.9 328.5 118.9 329.1 118.9 329.7 118.9 330.3 118.9 330.9 118.9 331.5 118.9 332.1 118.9 332.7 118.9 333.3 118.9 333.9 118.9 334.5 118.9 335.1 118.9 335.7 118.9 336.3 118.9 336.9 118.9 337.5 118.9 338.1 118.9 338.7 118.9 339.3 118.9 339.9 118.9 340.5 118.9 341.1 118.9 341.7 118.9 342.3 118.9 342.9 118.9 343.5 118.9 344.1 118.9 344.7 118.9 345.3 118.9 345.9 118.9 346.5 118.9 347.1 118.9 347.7 118.9 348.3 118.9 348.9 118.9 349.5 118.9 350.1 118.9 350.7 118.9 351.3 118.9 351.9 118.9 352.5 118.9 353.1 118.9 353.7 118.9 354.3 118.9 354.9 118.9 355.5 118.9 356.1 118.9 356.7 118.9 357.3 118.9 357.9 118.9 358.5 118.9 359.1 118.9 359.7 118.9" stroke="#128a70" stroke-width="1.1" fill="none"/>
<line x1="258.70" y1="80.00" x2="258.70" y2="120.00" stroke="#444444" stroke-width="0.9" stroke-dasharray="1.6,2.6"/>
<line x1="281.60" y1="93.00" x2="281.60" y2="120.00" stroke="#444444" stroke-width="0.9" stroke-dasharray="1.6,2.6"/>
<rect x="198.40" y="76.80" width="24.10" height="17.50" fill="#555"/>
<rect x="197.40" y="75.60" width="23.30" height="16.70" fill="#fff" stroke="#d8d8d8" stroke-width="0.7"/>
<text x="201.20" y="86.00" font-size="8.8" stroke="#000" stroke-width="0.22" font-weight="bold">TiO</text>
<text x="216.11" y="90.20" font-size="5.4" stroke="#000" stroke-width="0.13" font-weight="bold">2</text>
<line x1="197.60" y1="126.90" x2="197.60" y2="169.60" stroke="#b8b8b8" stroke-width="0.9"/>
<line x1="197.60" y1="169.60" x2="359.70" y2="169.60" stroke="#b8b8b8" stroke-width="0.9"/>
<line x1="217.59" y1="169.60" x2="217.59" y2="168.40" stroke="#9a9a9a" stroke-width="0.7"/>
<line x1="237.73" y1="169.60" x2="237.73" y2="167.60" stroke="#9a9a9a" stroke-width="0.7"/>
<line x1="257.88" y1="169.60" x2="257.88" y2="168.40" stroke="#9a9a9a" stroke-width="0.7"/>
<line x1="278.02" y1="169.60" x2="278.02" y2="167.60" stroke="#9a9a9a" stroke-width="0.7"/>
<line x1="298.17" y1="169.60" x2="298.17" y2="168.40" stroke="#9a9a9a" stroke-width="0.7"/>
<line x1="318.31" y1="169.60" x2="318.31" y2="167.60" stroke="#9a9a9a" stroke-width="0.7"/>
<line x1="338.46" y1="169.60" x2="338.46" y2="168.40" stroke="#9a9a9a" stroke-width="0.7"/>
<line x1="358.60" y1="169.60" x2="358.60" y2="167.60" stroke="#9a9a9a" stroke-width="0.7"/>
<path d="M197.6 146.2 198.2 146.2 198.8 146.2 199.4 146.2 200.0 146.2 200.6 146.2 201.2 146.2 201.8 146.2 202.4 146.2 203.0 146.2 203.6 146.2 204.2 146.2 204.8 146.2 205.4 146.2 206.0 146.2 206.6 146.2 207.2 146.2 207.8 146.2 208.4 146.2 209.0 146.2 209.6 146.2 210.2 146.2 210.8 146.2 211.4 146.2 212.0 146.2 212.6 146.2 213.2 146.2 213.8 146.2 214.4 146.2 215.0 146.2 215.6 146.2 216.2 146.2 216.8 146.2 217.4 146.2 218.0 146.2 218.6 146.2 219.2 146.2 219.8 146.2 220.4 146.2 221.0 146.2 221.6 146.2 222.2 146.2 222.8 146.2 223.4 146.2 224.0 146.2 224.6 146.1 225.2 146.1 225.8 146.1 226.4 146.1 227.0 146.1 227.6 146.1 228.2 146.1 228.8 146.1 229.4 146.1 230.0 146.1 230.6 146.1 231.2 146.1 231.8 146.1 232.4 146.1 233.0 146.1 233.6 146.1 234.2 146.0 234.8 146.0 235.4 146.0 236.0 146.0 236.6 146.0 237.2 146.0 237.8 146.0 238.4 145.9 239.0 145.9 239.6 145.9 240.2 145.8 240.8 145.8 241.4 145.8 242.0 145.7 242.6 145.6 243.2 145.6 243.8 145.5 244.4 145.4 245.0 145.2 245.6 145.1 246.2 144.9 246.8 144.7 247.4 144.5 248.0 144.3 248.6 144.0 249.2 143.6 249.8 143.3 250.4 142.9 251.0 142.4 251.6 141.9 252.2 141.4 252.8 140.8 253.4 140.2 254.0 139.5 254.6 138.8 255.2 138.0 255.8 137.3 256.4 136.4 257.0 135.6 257.6 134.8 258.2 133.9 258.8 133.1 259.4 132.3 260.0 131.5 260.6 130.8 261.2 130.1 261.8 129.5 262.4 128.9 263.0 128.4 263.6 128.0 264.2 127.8 264.8 127.6 265.4 127.5 266.0 127.5 266.6 127.6 267.2 127.8 267.8 128.1 268.4 128.5 269.0 128.9 269.6 129.4 270.2 129.9 270.8 130.5 271.4 131.0 272.0 131.6 272.6 132.2 273.2 132.8 273.8 133.3 274.4 133.9 275.0 134.4 275.6 134.9 276.2 135.3 276.8 135.7 277.4 136.1 278.0 136.5 278.6 136.8 279.3 137.1 279.9 137.4 280.5 137.6 281.1 137.9 281.7 138.1 282.3 138.3 282.9 138.5 283.5 138.6 284.1 138.8 284.7 139.0 285.3 139.1 285.9 139.3 286.5 139.4 287.1 139.5 287.7 139.7 288.3 139.8 288.9 140.0 289.5 140.1 290.1 140.3 290.7 140.4 291.3 140.6 291.9 140.7 292.5 140.9 293.1 141.1 293.7 141.2 294.3 141.4 294.9 141.6 295.5 141.7 296.1 141.9 296.7 142.1 297.3 142.2 297.9 142.4 298.5 142.6 299.1 142.7 299.7 142.9 300.3 143.1 300.9 143.2 301.5 143.4 302.1 143.5 302.7 143.7 303.3 143.8 303.9 144.0 304.5 144.1 305.1 144.2 305.7 144.3 306.3 144.5 306.9 144.6 307.5 144.7 308.1 144.8 308.7 144.9 309.3 145.0 309.9 145.1 310.5 145.2 311.1 145.2 311.7 145.3 312.3 145.4 312.9 145.4 313.5 145.5 314.1 145.6 314.7 145.6 315.3 145.7 315.9 145.7 316.5 145.7 317.1 145.8 317.7 145.8 318.3 145.9 318.9 145.9 319.5 145.9 320.1 145.9 320.7 146.0 321.3 146.0 321.9 146.0 322.5 146.0 323.1 146.0 323.7 146.1 324.3 146.1 324.9 146.1 325.5 146.1 326.1 146.1 326.7 146.1 327.3 146.1 327.9 146.1 328.5 146.1 329.1 146.1 329.7 146.2 330.3 146.2 330.9 146.2 331.5 146.2 332.1 146.2 332.7 146.2 333.3 146.2 333.9 146.2 334.5 146.2 335.1 146.2 335.7 146.2 336.3 146.2 336.9 146.2 337.5 146.2 338.1 146.2 338.7 146.2 339.3 146.2 339.9 146.2 340.5 146.2 341.1 146.2 341.7 146.2 342.3 146.2 342.9 146.2 343.5 146.2 344.1 146.2 344.7 146.2 345.3 146.2 345.9 146.2 346.5 146.2 347.1 146.2 347.7 146.2 348.3 146.2 348.9 146.2 349.5 146.2 350.1 146.2 350.7 146.2 351.3 146.2 351.9 146.2 352.5 146.2 353.1 146.2 353.7 146.2 354.3 146.2 354.9 146.2 355.5 146.2 356.1 146.2 356.7 146.2 357.3 146.2 357.9 146.2 358.5 146.2 359.1 146.2 359.7 146.2" stroke="#959500" stroke-width="1.7" fill="none"/>
<line x1="197.60" y1="146.60" x2="359.70" y2="146.60" stroke="#ff0000" stroke-width="0.9"/>
<path d="M197.6 146.3 198.2 146.3 198.8 146.3 199.4 146.3 200.0 146.3 200.6 146.2 201.2 146.2 201.8 146.2 202.4 146.2 203.0 146.2 203.6 146.2 204.2 146.2 204.8 146.2 205.4 146.2 206.0 146.2 206.6 146.2 207.2 146.2 207.8 146.2 208.4 146.2 209.0 146.2 209.6 146.2 210.2 146.2 210.8 146.2 211.4 146.2 212.0 146.2 212.6 146.2 213.2 146.2 213.8 146.2 214.4 146.2 215.0 146.2 215.6 146.2 216.2 146.2 216.8 146.2 217.4 146.2 218.0 146.2 218.6 146.2 219.2 146.2 219.8 146.2 220.4 146.2 221.0 146.2 221.6 146.2 222.2 146.2 222.8 146.2 223.4 146.2 224.0 146.2 224.6 146.2 225.2 146.2 225.8 146.2 226.4 146.2 227.0 146.2 227.6 146.2 228.2 146.2 228.8 146.1 229.4 146.1 230.0 146.1 230.6 146.1 231.2 146.1 231.8 146.1 232.4 146.1 233.0 146.1 233.6 146.1 234.2 146.1 234.8 146.1 235.4 146.1 236.0 146.1 236.6 146.0 237.2 146.0 237.8 146.0 238.4 146.0 239.0 146.0 239.6 145.9 240.2 145.9 240.8 145.9 241.4 145.8 242.0 145.8 242.6 145.7 243.2 145.6 243.8 145.5 244.4 145.4 245.0 145.3 245.6 145.2 246.2 145.0 246.8 144.8 247.4 144.6 248.0 144.4 248.6 144.1 249.2 143.8 249.8 143.4 250.4 143.0 251.0 142.6 251.6 142.1 252.2 141.6 252.8 141.0 253.4 140.4 254.0 139.8 254.6 139.1 255.2 138.4 255.8 137.6 256.4 136.9 257.0 136.1 257.6 135.3 258.2 134.5 258.8 133.7 259.4 133.0 260.0 132.3 260.6 131.6 261.2 131.0 261.8 130.5 262.4 130.0 263.0 129.7 263.6 129.4 264.2 129.2 264.8 129.2 265.4 129.3 266.0 129.4 266.6 129.7 267.2 130.1 267.8 130.6 268.4 131.1 269.0 131.7 269.6 132.4 270.2 133.1 270.8 133.8 271.4 134.6 272.0 135.4 272.6 136.2 273.2 137.0 273.8 137.7 274.4 138.5 275.0 139.2 275.6 139.9 276.2 140.5 276.8 141.1 277.4 141.7 278.0 142.2 278.6 142.6 279.3 143.1 279.9 143.5 280.5 143.8 281.1 144.1 281.7 144.4 282.3 144.6 282.9 144.9 283.5 145.0 284.1 145.2 284.7 145.3 285.3 145.5 285.9 145.6 286.5 145.6 287.1 145.7 287.7 145.8 288.3 145.8 288.9 145.9 289.5 145.9 290.1 145.9 290.7 146.0 291.3 146.0 291.9 146.0 292.5 146.0 293.1 146.0 293.7 146.1 294.3 146.1 294.9 146.1 295.5 146.1 296.1 146.1 296.7 146.1 297.3 146.1 297.9 146.1 298.5 146.1 299.1 146.1 299.7 146.1 300.3 146.1 300.9 146.1 301.5 146.2 302.1 146.2 302.7 146.2 303.3 146.2 303.9 146.2 304.5 146.2 305.1 146.2 305.7 146.2 306.3 146.2 306.9 146.2 307.5 146.2 308.1 146.2 308.7 146.2 309.3 146.2 309.9 146.2 310.5 146.2 311.1 146.2 311.7 146.2 312.3 146.2 312.9 146.2 313.5 146.2 314.1 146.2 314.7 146.2 315.3 146.2 315.9 146.2 316.5 146.2 317.1 146.2 317.7 146.2 318.3 146.2 318.9 146.2 319.5 146.2 320.1 146.2 320.7 146.2 321.3 146.2 321.9 146.2 322.5 146.2 323.1 146.2 323.7 146.2 324.3 146.2 324.9 146.2 325.5 146.2 326.1 146.2 326.7 146.2 327.3 146.2 327.9 146.2 328.5 146.2 329.1 146.2 329.7 146.3 330.3 146.3 330.9 146.3 331.5 146.3 332.1 146.3 332.7 146.3 333.3 146.3 333.9 146.3 334.5 146.3 335.1 146.3 335.7 146.3 336.3 146.3 336.9 146.3 337.5 146.3 338.1 146.3 338.7 146.3 339.3 146.3 339.9 146.3 340.5 146.3 341.1 146.3 341.7 146.3 342.3 146.3 342.9 146.3 343.5 146.3 344.1 146.3 344.7 146.3 345.3 146.3 345.9 146.3 346.5 146.3 347.1 146.3 347.7 146.3 348.3 146.3 348.9 146.3 349.5 146.3 350.1 146.3 350.7 146.3 351.3 146.3 351.9 146.3 352.5 146.3 353.1 146.3 353.7 146.3 354.3 146.3 354.9 146.3 355.5 146.3 356.1 146.3 356.7 146.3 357.3 146.3 357.9 146.3 358.5 146.3 359.1 146.3 359.7 146.3" stroke="#ff1080" stroke-width="1.5" fill="none"/>
<path d="M197.6 146.3 198.2 146.3 198.8 146.3 199.4 146.3 200.0 146.3 200.6 146.3 201.2 146.3 201.8 146.3 202.4 146.3 203.0 146.3 203.6 146.3 204.2 146.3 204.8 146.3 205.4 146.3 206.0 146.3 206.6 146.3 207.2 146.3 207.8 146.3 208.4 146.3 209.0 146.3 209.6 146.3 210.2 146.3 210.8 146.3 211.4 146.3 212.0 146.3 212.6 146.3 213.2 146.3 213.8 146.3 214.4 146.3 215.0 146.3 215.6 146.3 216.2 146.3 216.8 146.3 217.4 146.3 218.0 146.3 218.6 146.3 219.2 146.3 219.8 146.3 220.4 146.3 221.0 146.3 221.6 146.3 222.2 146.3 222.8 146.3 223.4 146.3 224.0 146.3 224.6 146.3 225.2 146.3 225.8 146.3 226.4 146.3 227.0 146.3 227.6 146.3 228.2 146.3 228.8 146.3 229.4 146.3 230.0 146.3 230.6 146.3 231.2 146.3 231.8 146.3 232.4 146.3 233.0 146.3 233.6 146.3 234.2 146.3 234.8 146.3 235.4 146.3 236.0 146.3 236.6 146.3 237.2 146.3 237.8 146.3 238.4 146.2 239.0 146.2 239.6 146.2 240.2 146.2 240.8 146.2 241.4 146.2 242.0 146.2 242.6 146.2 243.2 146.2 243.8 146.2 244.4 146.2 245.0 146.2 245.6 146.2 246.2 146.2 246.8 146.2 247.4 146.2 248.0 146.2 248.6 146.2 249.2 146.2 249.8 146.2 250.4 146.1 251.0 146.1 251.6 146.1 252.2 146.1 252.8 146.1 253.4 146.1 254.0 146.0 254.6 146.0 255.2 146.0 255.8 145.9 256.4 145.9 257.0 145.8 257.6 145.8 258.2 145.7 258.8 145.7 259.4 145.6 260.0 145.5 260.6 145.5 261.2 145.4 261.8 145.3 262.4 145.2 263.0 145.1 263.6 144.9 264.2 144.8 264.8 144.7 265.4 144.5 266.0 144.4 266.6 144.2 267.2 144.1 267.8 143.9 268.4 143.7 269.0 143.5 269.6 143.3 270.2 143.1 270.8 142.9 271.4 142.7 272.0 142.5 272.6 142.3 273.2 142.1 273.8 141.9 274.4 141.7 275.0 141.5 275.6 141.3 276.2 141.1 276.8 140.9 277.4 140.8 278.0 140.6 278.6 140.5 279.3 140.3 279.9 140.2 280.5 140.1 281.1 140.0 281.7 140.0 282.3 139.9 282.9 139.9 283.5 139.9 284.1 139.9 284.7 139.9 285.3 140.0 285.9 140.0 286.5 140.1 287.1 140.1 287.7 140.2 288.3 140.3 288.9 140.4 289.5 140.5 290.1 140.6 290.7 140.7 291.3 140.9 291.9 141.0 292.5 141.2 293.1 141.3 293.7 141.5 294.3 141.6 294.9 141.8 295.5 141.9 296.1 142.1 296.7 142.3 297.3 142.4 297.9 142.6 298.5 142.7 299.1 142.9 299.7 143.1 300.3 143.2 300.9 143.4 301.5 143.5 302.1 143.7 302.7 143.8 303.3 144.0 303.9 144.1 304.5 144.2 305.1 144.3 305.7 144.5 306.3 144.6 306.9 144.7 307.5 144.8 308.1 144.9 308.7 145.0 309.3 145.1 309.9 145.2 310.5 145.3 311.1 145.3 311.7 145.4 312.3 145.5 312.9 145.5 313.5 145.6 314.1 145.6 314.7 145.7 315.3 145.7 315.9 145.8 316.5 145.8 317.1 145.9 317.7 145.9 318.3 145.9 318.9 146.0 319.5 146.0 320.1 146.0 320.7 146.0 321.3 146.1 321.9 146.1 322.5 146.1 323.1 146.1 323.7 146.1 324.3 146.1 324.9 146.1 325.5 146.2 326.1 146.2 326.7 146.2 327.3 146.2 327.9 146.2 328.5 146.2 329.1 146.2 329.7 146.2 330.3 146.2 330.9 146.2 331.5 146.2 332.1 146.2 332.7 146.2 333.3 146.2 333.9 146.2 334.5 146.2 335.1 146.2 335.7 146.2 336.3 146.2 336.9 146.2 337.5 146.2 338.1 146.2 338.7 146.2 339.3 146.2 339.9 146.2 340.5 146.2 341.1 146.3 341.7 146.3 342.3 146.3 342.9 146.3 343.5 146.3 344.1 146.3 344.7 146.3 345.3 146.3 345.9 146.3 346.5 146.3 347.1 146.3 347.7 146.3 348.3 146.3 348.9 146.3 349.5 146.3 350.1 146.3 350.7 146.3 351.3 146.3 351.9 146.3 352.5 146.3 353.1 146.3 353.7 146.3 354.3 146.3 354.9 146.3 355.5 146.3 356.1 146.3 356.7 146.3 357.3 146.3 357.9 146.3 358.5 146.3 359.1 146.3 359.7 146.3" stroke="#12876e" stroke-width="1.4" fill="none"/>
<path d="M197.6 168.1 198.2 168.1 198.8 168.1 199.4 168.1 200.0 168.1 200.6 168.1 201.2 168.1 201.8 168.1 202.4 168.1 203.0 168.1 203.6 168.1 204.2 168.1 204.8 168.1 205.4 168.1 206.0 168.1 206.6 168.1 207.2 168.1 207.8 168.1 208.4 168.1 209.0 168.1 209.6 168.1 210.2 168.1 210.8 168.1 211.4 168.1 212.0 168.1 212.6 168.1 213.2 168.1 213.8 168.1 214.4 168.1 215.0 168.1 215.6 168.1 216.2 168.1 216.8 168.1 217.4 168.1 218.0 168.0 218.6 168.0 219.2 168.0 219.8 168.0 220.4 168.0 221.0 168.0 221.6 168.0 222.2 168.0 222.8 168.0 223.4 168.0 224.0 168.0 224.6 168.0 225.2 168.0 225.8 168.0 226.4 168.0 227.0 168.0 227.6 168.0 228.2 168.0 228.8 167.9 229.4 167.9 230.0 167.9 230.6 167.9 231.2 167.9 231.8 167.9 232.4 167.9 233.0 167.9 233.6 167.8 234.2 167.8 234.8 167.8 235.4 167.8 236.0 167.7 236.6 167.7 237.2 167.6 237.8 167.6 238.4 167.5 239.0 167.4 239.6 167.4 240.2 167.3 240.8 167.1 241.4 167.0 242.0 166.9 242.6 166.7 243.2 166.5 243.8 166.3 244.4 166.1 245.0 165.8 245.6 165.6 246.2 165.2 246.8 164.9 247.4 164.5 248.0 164.1 248.6 163.6 249.2 163.1 249.8 162.6 250.4 162.1 251.0 161.5 251.6 160.8 252.2 160.2 252.8 159.5 253.4 158.8 254.0 158.1 254.6 157.4 255.2 156.6 255.8 155.9 256.4 155.2 257.0 154.4 257.6 153.8 258.2 153.1 258.8 152.4 259.4 151.9 260.0 151.3 260.6 150.8 261.2 150.4 261.8 150.1 262.4 149.8 263.0 149.6 263.6 149.5 264.2 149.6 264.8 149.7 265.4 150.0 266.0 150.4 266.6 150.8 267.2 151.3 267.8 151.9 268.4 152.5 269.0 153.1 269.6 153.7 270.2 154.4 270.8 155.0 271.4 155.5 272.0 156.1 272.6 156.6 273.2 157.1 273.8 157.5 274.4 157.9 275.0 158.3 275.6 158.6 276.2 158.9 276.8 159.2 277.4 159.4 278.0 159.7 278.6 159.9 279.3 160.1 279.9 160.2 280.5 160.4 281.1 160.5 281.7 160.7 282.3 160.8 282.9 161.0 283.5 161.1 284.1 161.3 284.7 161.4 285.3 161.6 285.9 161.7 286.5 161.9 287.1 162.1 287.7 162.2 288.3 162.4 288.9 162.6 289.5 162.7 290.1 162.9 290.7 163.1 291.3 163.3 291.9 163.5 292.5 163.6 293.1 163.8 293.7 164.0 294.3 164.2 294.9 164.3 295.5 164.5 296.1 164.7 296.7 164.9 297.3 165.0 297.9 165.2 298.5 165.3 299.1 165.5 299.7 165.6 300.3 165.8 300.9 165.9 301.5 166.0 302.1 166.2 302.7 166.3 303.3 166.4 303.9 166.5 304.5 166.6 305.1 166.7 305.7 166.8 306.3 166.9 306.9 167.0 307.5 167.1 308.1 167.1 308.7 167.2 309.3 167.3 309.9 167.3 310.5 167.4 311.1 167.5 311.7 167.5 312.3 167.6 312.9 167.6 313.5 167.6 314.1 167.7 314.7 167.7 315.3 167.7 315.9 167.8 316.5 167.8 317.1 167.8 317.7 167.9 318.3 167.9 318.9 167.9 319.5 167.9 320.1 167.9 320.7 168.0 321.3 168.0 321.9 168.0 322.5 168.0 323.1 168.0 323.7 168.0 324.3 168.0 324.9 168.0 325.5 168.0 326.1 168.0 326.7 168.1 327.3 168.1 327.9 168.1 328.5 168.1 329.1 168.1 329.7 168.1 330.3 168.1 330.9 168.1 331.5 168.1 332.1 168.1 332.7 168.1 333.3 168.1 333.9 168.1 334.5 168.1 335.1 168.1 335.7 168.1 336.3 168.1 336.9 168.1 337.5 168.1 338.1 168.1 338.7 168.1 339.3 168.1 339.9 168.1 340.5 168.1 341.1 168.1 341.7 168.1 342.3 168.1 342.9 168.1 343.5 168.1 344.1 168.1 344.7 168.1 345.3 168.1 345.9 168.1 346.5 168.1 347.1 168.1 347.7 168.1 348.3 168.1 348.9 168.1 349.5 168.1 350.1 168.1 350.7 168.1 351.3 168.1 351.9 168.1 352.5 168.1 353.1 168.1 353.7 168.1 354.3 168.1 354.9 168.1 355.5 168.1 356.1 168.2 356.7 168.2 357.3 168.2 357.9 168.2 358.5 168.2 359.1 168.2 359.7 168.2" stroke="#0000ff" stroke-width="1.7" fill="none"/>
<line x1="197.60" y1="168.50" x2="359.70" y2="168.50" stroke="#ff0000" stroke-width="0.9"/>
<path d="M197.6 168.1 198.2 168.1 198.8 168.1 199.4 168.1 200.0 168.1 200.6 168.1 201.2 168.1 201.8 168.1 202.4 168.1 203.0 168.1 203.6 168.1 204.2 168.1 204.8 168.1 205.4 168.1 206.0 168.1 206.6 168.1 207.2 168.1 207.8 168.1 208.4 168.1 209.0 168.1 209.6 168.1 210.2 168.1 210.8 168.1 211.4 168.1 212.0 168.1 212.6 168.1 213.2 168.1 213.8 168.1 214.4 168.1 215.0 168.1 215.6 168.1 216.2 168.1 216.8 168.1 217.4 168.1 218.0 168.1 218.6 168.1 219.2 168.1 219.8 168.1 220.4 168.1 221.0 168.1 221.6 168.1 222.2 168.1 222.8 168.1 223.4 168.1 224.0 168.1 224.6 168.1 225.2 168.1 225.8 168.0 226.4 168.0 227.0 168.0 227.6 168.0 228.2 168.0 228.8 168.0 229.4 168.0 230.0 168.0 230.6 168.0 231.2 168.0 231.8 168.0 232.4 168.0 233.0 167.9 233.6 167.9 234.2 167.9 234.8 167.9 235.4 167.9 236.0 167.8 236.6 167.8 237.2 167.8 237.8 167.7 238.4 167.7 239.0 167.6 239.6 167.5 240.2 167.5 240.8 167.4 241.4 167.3 242.0 167.2 242.6 167.0 243.2 166.9 243.8 166.7 244.4 166.5 245.0 166.3 245.6 166.0 246.2 165.7 246.8 165.4 247.4 165.1 248.0 164.7 248.6 164.4 249.2 163.9 249.8 163.5 250.4 163.0 251.0 162.5 251.6 161.9 252.2 161.4 252.8 160.8 253.4 160.2 254.0 159.6 254.6 159.0 255.2 158.4 255.8 157.8 256.4 157.2 257.0 156.6 257.6 156.1 258.2 155.6 258.8 155.1 259.4 154.7 260.0 154.3 260.6 154.0 261.2 153.8 261.8 153.6 262.4 153.5 263.0 153.5 263.6 153.6 264.2 153.9 264.8 154.2 265.4 154.7 266.0 155.3 266.6 155.9 267.2 156.7 267.8 157.4 268.4 158.2 269.0 159.0 269.6 159.8 270.2 160.6 270.8 161.3 271.4 162.1 272.0 162.8 272.6 163.4 273.2 164.0 273.8 164.5 274.4 165.0 275.0 165.5 275.6 165.9 276.2 166.2 276.8 166.5 277.4 166.7 278.0 167.0 278.6 167.1 279.3 167.3 279.9 167.4 280.5 167.5 281.1 167.6 281.7 167.7 282.3 167.8 282.9 167.8 283.5 167.9 284.1 167.9 284.7 167.9 285.3 167.9 285.9 168.0 286.5 168.0 287.1 168.0 287.7 168.0 288.3 168.0 288.9 168.0 289.5 168.0 290.1 168.0 290.7 168.0 291.3 168.1 291.9 168.1 292.5 168.1 293.1 168.1 293.7 168.1 294.3 168.1 294.9 168.1 295.5 168.1 296.1 168.1 296.7 168.1 297.3 168.1 297.9 168.1 298.5 168.1 299.1 168.1 299.7 168.1 300.3 168.1 300.9 168.1 301.5 168.1 302.1 168.1 302.7 168.1 303.3 168.1 303.9 168.1 304.5 168.1 305.1 168.1 305.7 168.1 306.3 168.1 306.9 168.1 307.5 168.1 308.1 168.1 308.7 168.1 309.3 168.1 309.9 168.1 310.5 168.1 311.1 168.1 311.7 168.1 312.3 168.1 312.9 168.1 313.5 168.2 314.1 168.2 314.7 168.2 315.3 168.2 315.9 168.2 316.5 168.2 317.1 168.2 317.7 168.2 318.3 168.2 318.9 168.2 319.5 168.2 320.1 168.2 320.7 168.2 321.3 168.2 321.9 168.2 322.5 168.2 323.1 168.2 323.7 168.2 324.3 168.2 324.9 168.2 325.5 168.2 326.1 168.2 326.7 168.2 327.3 168.2 327.9 168.2 328.5 168.2 329.1 168.2 329.7 168.2 330.3 168.2 330.9 168.2 331.5 168.2 332.1 168.2 332.7 168.2 333.3 168.2 333.9 168.2 334.5 168.2 335.1 168.2 335.7 168.2 336.3 168.2 336.9 168.2 337.5 168.2 338.1 168.2 338.7 168.2 339.3 168.2 339.9 168.2 340.5 168.2 341.1 168.2 341.7 168.2 342.3 168.2 342.9 168.2 343.5 168.2 344.1 168.2 344.7 168.2 345.3 168.2 345.9 168.2 346.5 168.2 347.1 168.2 347.7 168.2 348.3 168.2 348.9 168.2 349.5 168.2 350.1 168.2 350.7 168.2 351.3 168.2 351.9 168.2 352.5 168.2 353.1 168.2 353.7 168.2 354.3 168.2 354.9 168.2 355.5 168.2 356.1 168.2 356.7 168.2 357.3 168.2 357.9 168.2 358.5 168.2 359.1 168.2 359.7 168.2" stroke="#ff1080" stroke-width="1.5" fill="none"/>
<path d="M197.6 168.2 198.2 168.2 198.8 168.2 199.4 168.2 200.0 168.2 200.6 168.2 201.2 168.2 201.8 168.2 202.4 168.2 203.0 168.2 203.6 168.2 204.2 168.2 204.8 168.2 205.4 168.2 206.0 168.2 206.6 168.2 207.2 168.2 207.8 168.2 208.4 168.2 209.0 168.2 209.6 168.2 210.2 168.2 210.8 168.2 211.4 168.2 212.0 168.2 212.6 168.2 213.2 168.2 213.8 168.2 214.4 168.2 215.0 168.2 215.6 168.2 216.2 168.2 216.8 168.2 217.4 168.2 218.0 168.2 218.6 168.2 219.2 168.2 219.8 168.2 220.4 168.2 221.0 168.1 221.6 168.1 222.2 168.1 222.8 168.1 223.4 168.1 224.0 168.1 224.6 168.1 225.2 168.1 225.8 168.1 226.4 168.1 227.0 168.1 227.6 168.1 228.2 168.1 228.8 168.1 229.4 168.1 230.0 168.1 230.6 168.1 231.2 168.1 231.8 168.1 232.4 168.1 233.0 168.1 233.6 168.1 234.2 168.1 234.8 168.1 235.4 168.1 236.0 168.1 236.6 168.1 237.2 168.1 237.8 168.0 238.4 168.0 239.0 168.0 239.6 168.0 240.2 168.0 240.8 168.0 241.4 167.9 242.0 167.9 242.6 167.9 243.2 167.9 243.8 167.8 244.4 167.8 245.0 167.8 245.6 167.7 246.2 167.7 246.8 167.6 247.4 167.6 248.0 167.5 248.6 167.5 249.2 167.4 249.8 167.3 250.4 167.3 251.0 167.2 251.6 167.1 252.2 167.0 252.8 166.9 253.4 166.8 254.0 166.7 254.6 166.6 255.2 166.4 255.8 166.3 256.4 166.2 257.0 166.0 257.6 165.9 258.2 165.7 258.8 165.6 259.4 165.4 260.0 165.2 260.6 165.0 261.2 164.9 261.8 164.7 262.4 164.5 263.0 164.3 263.6 164.1 264.2 163.9 264.8 163.7 265.4 163.5 266.0 163.3 266.6 163.1 267.2 162.9 267.8 162.7 268.4 162.5 269.0 162.3 269.6 162.1 270.2 162.0 270.8 161.8 271.4 161.7 272.0 161.5 272.6 161.4 273.2 161.3 273.8 161.2 274.4 161.1 275.0 161.0 275.6 161.0 276.2 160.9 276.8 160.9 277.4 160.9 278.0 160.9 278.6 160.9 279.3 161.0 279.9 161.0 280.5 161.0 281.1 161.1 281.7 161.2 282.3 161.3 282.9 161.4 283.5 161.5 284.1 161.6 284.7 161.7 285.3 161.8 285.9 162.0 286.5 162.1 287.1 162.3 287.7 162.4 288.3 162.6 288.9 162.8 289.5 162.9 290.1 163.1 290.7 163.3 291.3 163.4 291.9 163.6 292.5 163.8 293.1 164.0 293.7 164.1 294.3 164.3 294.9 164.5 295.5 164.6 296.1 164.8 296.7 165.0 297.3 165.1 297.9 165.3 298.5 165.4 299.1 165.6 299.7 165.7 300.3 165.8 300.9 166.0 301.5 166.1 302.1 166.2 302.7 166.4 303.3 166.5 303.9 166.6 304.5 166.7 305.1 166.8 305.7 166.9 306.3 167.0 306.9 167.0 307.5 167.1 308.1 167.2 308.7 167.3 309.3 167.3 309.9 167.4 310.5 167.5 311.1 167.5 311.7 167.6 312.3 167.6 312.9 167.6 313.5 167.7 314.1 167.7 314.7 167.8 315.3 167.8 315.9 167.8 316.5 167.9 317.1 167.9 317.7 167.9 318.3 167.9 318.9 167.9 319.5 168.0 320.1 168.0 320.7 168.0 321.3 168.0 321.9 168.0 322.5 168.0 323.1 168.0 323.7 168.0 324.3 168.1 324.9 168.1 325.5 168.1 326.1 168.1 326.7 168.1 327.3 168.1 327.9 168.1 328.5 168.1 329.1 168.1 329.7 168.1 330.3 168.1 330.9 168.1 331.5 168.1 332.1 168.1 332.7 168.1 333.3 168.1 333.9 168.1 334.5 168.1 335.1 168.1 335.7 168.1 336.3 168.1 336.9 168.1 337.5 168.1 338.1 168.1 338.7 168.1 339.3 168.1 339.9 168.1 340.5 168.1 341.1 168.1 341.7 168.1 342.3 168.1 342.9 168.1 343.5 168.2 344.1 168.2 344.7 168.2 345.3 168.2 345.9 168.2 346.5 168.2 347.1 168.2 347.7 168.2 348.3 168.2 348.9 168.2 349.5 168.2 350.1 168.2 350.7 168.2 351.3 168.2 351.9 168.2 352.5 168.2 353.1 168.2 353.7 168.2 354.3 168.2 354.9 168.2 355.5 168.2 356.1 168.2 356.7 168.2 357.3 168.2 357.9 168.2 358.5 168.2 359.1 168.2 359.7 168.2" stroke="#128a70" stroke-width="1.1" fill="none"/>
<line x1="264.80" y1="128.00" x2="264.80" y2="169.00" stroke="#444444" stroke-width="0.9" stroke-dasharray="1.6,2.6"/>
<line x1="282.60" y1="138.00" x2="282.60" y2="169.00" stroke="#444444" stroke-width="0.9" stroke-dasharray="1.6,2.6"/>
<rect x="198.40" y="128.10" width="28.20" height="16.40" fill="#555"/>
<rect x="197.40" y="126.90" width="27.40" height="15.60" fill="#fff" stroke="#d8d8d8" stroke-width="0.7"/>
<text x="201.50" y="136.40" font-size="9.0" stroke="#000" stroke-width="0.22" font-weight="bold">SnO</text>
<text x="220.40" y="140.30" font-size="5.4" stroke="#000" stroke-width="0.13" font-weight="bold">2</text>
<line x1="197.60" y1="176.00" x2="197.60" y2="219.00" stroke="#b8b8b8" stroke-width="0.9"/>
<line x1="197.60" y1="219.00" x2="359.70" y2="219.00" stroke="#b8b8b8" stroke-width="0.9"/>
<line x1="217.59" y1="219.00" x2="217.59" y2="217.80" stroke="#9a9a9a" stroke-width="0.7"/>
<line x1="237.73" y1="219.00" x2="237.73" y2="217.00" stroke="#9a9a9a" stroke-width="0.7"/>
<line x1="257.88" y1="219.00" x2="257.88" y2="217.80" stroke="#9a9a9a" stroke-width="0.7"/>
<line x1="278.02" y1="219.00" x2="278.02" y2="217.00" stroke="#9a9a9a" stroke-width="0.7"/>
<line x1="298.17" y1="219.00" x2="298.17" y2="217.80" stroke="#9a9a9a" stroke-width="0.7"/>
<line x1="318.31" y1="219.00" x2="318.31" y2="217.00" stroke="#9a9a9a" stroke-width="0.7"/>
<line x1="338.46" y1="219.00" x2="338.46" y2="217.80" stroke="#9a9a9a" stroke-width="0.7"/>
<line x1="358.60" y1="219.00" x2="358.60" y2="217.00" stroke="#9a9a9a" stroke-width="0.7"/>
<path d="M197.6 196.9 198.2 196.9 198.8 196.9 199.4 196.9 200.0 196.9 200.6 196.9 201.2 196.9 201.8 196.9 202.4 196.9 203.0 196.9 203.6 196.9 204.2 196.9 204.8 196.9 205.4 196.9 206.0 196.9 206.6 196.9 207.2 196.9 207.8 196.9 208.4 196.9 209.0 196.8 209.6 196.8 210.2 196.8 210.8 196.8 211.4 196.8 212.0 196.8 212.6 196.8 213.2 196.8 213.8 196.8 214.4 196.8 215.0 196.8 215.6 196.8 216.2 196.8 216.8 196.8 217.4 196.8 218.0 196.8 218.6 196.7 219.2 196.7 219.8 196.7 220.4 196.7 221.0 196.7 221.6 196.7 222.2 196.7 222.8 196.7 223.4 196.6 224.0 196.6 224.6 196.6 225.2 196.6 225.8 196.6 226.4 196.5 227.0 196.5 227.6 196.4 228.2 196.4 228.8 196.3 229.4 196.2 230.0 196.2 230.6 196.1 231.2 195.9 231.8 195.8 232.4 195.6 233.0 195.4 233.6 195.2 234.2 195.0 234.8 194.7 235.4 194.3 236.0 194.0 236.6 193.6 237.2 193.1 237.8 192.6 238.4 192.0 239.0 191.4 239.6 190.8 240.2 190.1 240.8 189.3 241.4 188.5 242.0 187.7 242.6 186.9 243.2 186.0 243.8 185.1 244.4 184.2 245.0 183.3 245.6 182.5 246.2 181.7 246.8 180.9 247.4 180.2 248.0 179.5 248.6 179.0 249.2 178.5 249.8 178.2 250.4 178.0 251.0 177.9 251.6 177.9 252.2 178.1 252.8 178.5 253.4 179.1 254.0 179.8 254.6 180.6 255.2 181.5 255.8 182.5 256.4 183.5 257.0 184.6 257.6 185.6 258.2 186.7 258.8 187.7 259.4 188.7 260.0 189.6 260.6 190.5 261.2 191.3 261.8 192.0 262.4 192.7 263.0 193.3 263.6 193.8 264.2 194.2 264.8 194.6 265.4 195.0 266.0 195.3 266.6 195.5 267.2 195.7 267.8 195.9 268.4 196.0 269.0 196.1 269.6 196.2 270.2 196.3 270.8 196.3 271.4 196.4 272.0 196.4 272.6 196.5 273.2 196.5 273.8 196.5 274.4 196.5 275.0 196.5 275.6 196.6 276.2 196.6 276.8 196.6 277.4 196.6 278.0 196.6 278.6 196.6 279.3 196.6 279.9 196.6 280.5 196.6 281.1 196.6 281.7 196.6 282.3 196.6 282.9 196.6 283.5 196.6 284.1 196.6 284.7 196.7 285.3 196.7 285.9 196.7 286.5 196.7 287.1 196.7 287.7 196.7 288.3 196.7 288.9 196.7 289.5 196.7 290.1 196.7 290.7 196.7 291.3 196.7 291.9 196.7 292.5 196.7 293.1 196.7 293.7 196.7 294.3 196.7 294.9 196.7 295.5 196.7 296.1 196.7 296.7 196.7 297.3 196.7 297.9 196.7 298.5 196.7 299.1 196.7 299.7 196.7 300.3 196.7 300.9 196.7 301.5 196.7 302.1 196.7 302.7 196.7 303.3 196.7 303.9 196.7 304.5 196.7 305.1 196.7 305.7 196.7 306.3 196.7 306.9 196.7 307.5 196.7 308.1 196.7 308.7 196.7 309.3 196.7 309.9 196.7 310.5 196.7 311.1 196.7 311.7 196.7 312.3 196.7 312.9 196.7 313.5 196.7 314.1 196.7 314.7 196.7 315.3 196.7 315.9 196.7 316.5 196.7 317.1 196.7 317.7 196.7 318.3 196.7 318.9 196.7 319.5 196.7 320.1 196.7 320.7 196.7 321.3 196.7 321.9 196.7 322.5 196.7 323.1 196.7 323.7 196.7 324.3 196.7 324.9 196.7 325.5 196.7 326.1 196.7 326.7 196.7 327.3 196.7 327.9 196.7 328.5 196.7 329.1 196.6 329.7 196.6 330.3 196.6 330.9 196.6 331.5 196.6 332.1 196.6 332.7 196.6 333.3 196.6 333.9 196.6 334.5 196.6 335.1 196.6 335.7 196.6 336.3 196.6 336.9 196.6 337.5 196.6 338.1 196.6 338.7 196.6 339.3 196.6 339.9 196.6 340.5 196.6 341.1 196.6 341.7 196.6 342.3 196.6 342.9 196.6 343.5 196.6 344.1 196.6 344.7 196.6 345.3 196.6 345.9 196.6 346.5 196.6 347.1 196.6 347.7 196.6 348.3 196.6 348.9 196.6 349.5 196.6 350.1 196.6 350.7 196.6 351.3 196.6 351.9 196.6 352.5 196.6 353.1 196.6 353.7 196.6 354.3 196.6 354.9 196.6 355.5 196.6 356.1 196.6 356.7 196.6 357.3 196.6 357.9 196.6 358.5 196.6 359.1 196.6 359.7 196.6" stroke="#ff0000" stroke-width="1.2" fill="none"/>
<path d="M197.6 196.9 198.2 196.9 198.8 196.9 199.4 196.9 200.0 196.9 200.6 196.9 201.2 196.9 201.8 196.9 202.4 196.9 203.0 196.9 203.6 196.9 204.2 196.9 204.8 196.9 205.4 196.9 206.0 196.9 206.6 196.9 207.2 196.8 207.8 196.8 208.4 196.8 209.0 196.8 209.6 196.8 210.2 196.8 210.8 196.8 211.4 196.8 212.0 196.8 212.6 196.8 213.2 196.8 213.8 196.8 214.4 196.8 215.0 196.8 215.6 196.8 216.2 196.8 216.8 196.7 217.4 196.7 218.0 196.7 218.6 196.7 219.2 196.7 219.8 196.7 220.4 196.7 221.0 196.7 221.6 196.7 222.2 196.7 222.8 196.6 223.4 196.6 224.0 196.6 224.6 196.6 225.2 196.6 225.8 196.5 226.4 196.5 227.0 196.4 227.6 196.4 228.2 196.3 228.8 196.3 229.4 196.2 230.0 196.1 230.6 196.0 231.2 195.9 231.8 195.7 232.4 195.6 233.0 195.4 233.6 195.2 234.2 194.9 234.8 194.6 235.4 194.3 236.0 193.9 236.6 193.5 237.2 193.0 237.8 192.5 238.4 192.0 239.0 191.3 239.6 190.7 240.2 190.0 240.8 189.2 241.4 188.4 242.0 187.6 242.6 186.7 243.2 185.8 243.8 185.0 244.4 184.0 245.0 183.2 245.6 182.3 246.2 181.4 246.8 180.6 247.4 179.9 248.0 179.2 248.6 178.6 249.2 178.2 249.8 177.8 250.4 177.5 251.0 177.3 251.6 177.3 252.2 177.5 252.8 177.8 253.4 178.3 254.0 178.9 254.6 179.6 255.2 180.4 255.8 181.3 256.4 182.2 257.0 183.1 257.6 184.1 258.2 185.0 258.8 185.9 259.4 186.7 260.0 187.5 260.6 188.2 261.2 188.8 261.8 189.4 262.4 189.9 263.0 190.3 263.6 190.6 264.2 190.9 264.8 191.1 265.4 191.2 266.0 191.4 266.6 191.4 267.2 191.5 267.8 191.5 268.4 191.5 269.0 191.4 269.6 191.4 270.2 191.4 270.8 191.3 271.4 191.3 272.0 191.2 272.6 191.2 273.2 191.2 273.8 191.2 274.4 191.2 275.0 191.3 275.6 191.3 276.2 191.3 276.8 191.3 277.4 191.4 278.0 191.4 278.6 191.5 279.3 191.6 279.9 191.6 280.5 191.7 281.1 191.8 281.7 191.8 282.3 191.9 282.9 192.0 283.5 192.1 284.1 192.2 284.7 192.3 285.3 192.4 285.9 192.5 286.5 192.6 287.1 192.7 287.7 192.8 288.3 193.0 288.9 193.1 289.5 193.2 290.1 193.3 290.7 193.4 291.3 193.5 291.9 193.6 292.5 193.7 293.1 193.9 293.7 194.0 294.3 194.1 294.9 194.2 295.5 194.3 296.1 194.4 296.7 194.5 297.3 194.6 297.9 194.7 298.5 194.8 299.1 194.9 299.7 195.0 300.3 195.1 300.9 195.1 301.5 195.2 302.1 195.3 302.7 195.4 303.3 195.4 303.9 195.5 304.5 195.6 305.1 195.6 305.7 195.7 306.3 195.8 306.9 195.8 307.5 195.9 308.1 195.9 308.7 196.0 309.3 196.0 309.9 196.1 310.5 196.1 311.1 196.1 311.7 196.2 312.3 196.2 312.9 196.2 313.5 196.3 314.1 196.3 314.7 196.3 315.3 196.3 315.9 196.4 316.5 196.4 317.1 196.4 317.7 196.4 318.3 196.4 318.9 196.4 319.5 196.5 320.1 196.5 320.7 196.5 321.3 196.5 321.9 196.5 322.5 196.5 323.1 196.5 323.7 196.5 324.3 196.5 324.9 196.5 325.5 196.5 326.1 196.5 326.7 196.6 327.3 196.6 327.9 196.6 328.5 196.6 329.1 196.6 329.7 196.6 330.3 196.6 330.9 196.6 331.5 196.6 332.1 196.6 332.7 196.6 333.3 196.6 333.9 196.6 334.5 196.6 335.1 196.6 335.7 196.6 336.3 196.6 336.9 196.6 337.5 196.6 338.1 196.6 338.7 196.6 339.3 196.6 339.9 196.6 340.5 196.6 341.1 196.6 341.7 196.6 342.3 196.6 342.9 196.6 343.5 196.6 344.1 196.6 344.7 196.6 345.3 196.6 345.9 196.6 346.5 196.6 347.1 196.6 347.7 196.6 348.3 196.6 348.9 196.6 349.5 196.6 350.1 196.6 350.7 196.6 351.3 196.6 351.9 196.6 352.5 196.6 353.1 196.6 353.7 196.6 354.3 196.6 354.9 196.6 355.5 196.6 356.1 196.6 356.7 196.6 357.3 196.6 357.9 196.6 358.5 196.6 359.1 196.6 359.7 196.6" stroke="#959500" stroke-width="1.7" fill="none"/>
<path d="M197.6 196.9 198.2 196.9 198.8 196.9 199.4 196.9 200.0 196.9 200.6 196.9 201.2 196.9 201.8 196.9 202.4 196.9 203.0 196.9 203.6 196.9 204.2 196.9 204.8 196.9 205.4 196.9 206.0 196.9 206.6 196.9 207.2 196.9 207.8 196.9 208.4 196.9 209.0 196.8 209.6 196.8 210.2 196.8 210.8 196.8 211.4 196.8 212.0 196.8 212.6 196.8 213.2 196.8 213.8 196.8 214.4 196.8 215.0 196.8 215.6 196.8 216.2 196.8 216.8 196.8 217.4 196.8 218.0 196.8 218.6 196.7 219.2 196.7 219.8 196.7 220.4 196.7 221.0 196.7 221.6 196.7 222.2 196.7 222.8 196.7 223.4 196.6 224.0 196.6 224.6 196.6 225.2 196.6 225.8 196.6 226.4 196.5 227.0 196.5 227.6 196.4 228.2 196.4 228.8 196.3 229.4 196.2 230.0 196.2 230.6 196.1 231.2 195.9 231.8 195.8 232.4 195.6 233.0 195.4 233.6 195.2 234.2 195.0 234.8 194.7 235.4 194.3 236.0 194.0 236.6 193.6 237.2 193.1 237.8 192.6 238.4 192.0 239.0 191.4 239.6 190.8 240.2 190.1 240.8 189.3 241.4 188.5 242.0 187.7 242.6 186.9 243.2 186.0 243.8 185.1 244.4 184.2 245.0 183.3 245.6 182.5 246.2 181.7 246.8 180.9 247.4 180.2 248.0 179.5 248.6 179.0 249.2 178.5 249.8 178.2 250.4 178.0 251.0 177.9 251.6 177.9 252.2 178.1 252.8 178.5 253.4 179.1 254.0 179.8 254.6 180.6 255.2 181.5 255.8 182.5 256.4 183.5 257.0 184.6 257.6 185.6 258.2 186.7 258.8 187.7 259.4 188.7 260.0 189.6 260.6 190.5 261.2 191.3 261.8 192.0 262.4 192.7 263.0 193.3 263.6 193.8 264.2 194.2 264.8 194.6 265.4 195.0 266.0 195.3 266.6 195.5 267.2 195.7 267.8 195.9 268.4 196.0 269.0 196.1 269.6 196.2 270.2 196.3 270.8 196.3 271.4 196.4 272.0 196.4 272.6 196.5 273.2 196.5 273.8 196.5 274.4 196.5 275.0 196.5 275.6 196.6 276.2 196.6 276.8 196.6 277.4 196.6 278.0 196.6 278.6 196.6 279.3 196.6 279.9 196.6 280.5 196.6 281.1 196.6 281.7 196.6 282.3 196.6 282.9 196.6 283.5 196.6 284.1 196.6 284.7 196.7 285.3 196.7 285.9 196.7 286.5 196.7 287.1 196.7 287.7 196.7 288.3 196.7 288.9 196.7 289.5 196.7 290.1 196.7 290.7 196.7 291.3 196.7 291.9 196.7 292.5 196.7 293.1 196.7 293.7 196.7 294.3 196.7 294.9 196.7 295.5 196.7 296.1 196.7 296.7 196.7 297.3 196.7 297.9 196.7 298.5 196.7 299.1 196.7 299.7 196.7 300.3 196.7 300.9 196.7 301.5 196.7 302.1 196.7 302.7 196.7 303.3 196.7 303.9 196.7 304.5 196.7 305.1 196.7 305.7 196.7 306.3 196.7 306.9 196.7 307.5 196.7 308.1 196.7 308.7 196.7 309.3 196.7 309.9 196.7 310.5 196.7 311.1 196.7 311.7 196.7 312.3 196.7 312.9 196.7 313.5 196.7 314.1 196.7 314.7 196.7 315.3 196.7 315.9 196.7 316.5 196.7 317.1 196.7 317.7 196.7 318.3 196.7 318.9 196.7 319.5 196.7 320.1 196.7 320.7 196.7 321.3 196.7 321.9 196.7 322.5 196.7 323.1 196.7 323.7 196.7 324.3 196.7 324.9 196.7 325.5 196.7 326.1 196.7 326.7 196.7 327.3 196.7 327.9 196.7 328.5 196.7 329.1 196.6 329.7 196.6 330.3 196.6 330.9 196.6 331.5 196.6 332.1 196.6 332.7 196.6 333.3 196.6 333.9 196.6 334.5 196.6 335.1 196.6 335.7 196.6 336.3 196.6 336.9 196.6 337.5 196.6 338.1 196.6 338.7 196.6 339.3 196.6 339.9 196.6 340.5 196.6 341.1 196.6 341.7 196.6 342.3 196.6 342.9 196.6 343.5 196.6 344.1 196.6 344.7 196.6 345.3 196.6 345.9 196.6 346.5 196.6 347.1 196.6 347.7 196.6 348.3 196.6 348.9 196.6 349.5 196.6 350.1 196.6 350.7 196.6 351.3 196.6 351.9 196.6 352.5 196.6 353.1 196.6 353.7 196.6 354.3 196.6 354.9 196.6 355.5 196.6 356.1 196.6 356.7 196.6 357.3 196.6 357.9 196.6 358.5 196.6 359.1 196.6 359.7 196.6" stroke="#ff1080" stroke-width="1.5" fill="none"/>
<path d="M197.6 197.0 198.2 197.0 198.8 197.0 199.4 197.0 200.0 197.0 200.6 197.0 201.2 197.0 201.8 197.0 202.4 197.0 203.0 197.0 203.6 197.0 204.2 197.0 204.8 197.0 205.4 197.0 206.0 197.0 206.6 197.0 207.2 197.0 207.8 197.0 208.4 197.0 209.0 197.0 209.6 197.0 210.2 196.9 210.8 196.9 211.4 196.9 212.0 196.9 212.6 196.9 213.2 196.9 213.8 196.9 214.4 196.9 215.0 196.9 215.6 196.9 216.2 196.9 216.8 196.9 217.4 196.9 218.0 196.9 218.6 196.9 219.2 196.9 219.8 196.9 220.4 196.9 221.0 196.9 221.6 196.9 222.2 196.9 222.8 196.9 223.4 196.9 224.0 196.9 224.6 196.9 225.2 196.9 225.8 196.9 226.4 196.9 227.0 196.9 227.6 196.9 228.2 196.9 228.8 196.9 229.4 196.9 230.0 196.9 230.6 196.9 231.2 196.9 231.8 196.9 232.4 196.9 233.0 196.9 233.6 196.9 234.2 196.9 234.8 196.9 235.4 196.9 236.0 196.8 236.6 196.8 237.2 196.8 237.8 196.8 238.4 196.8 239.0 196.8 239.6 196.8 240.2 196.8 240.8 196.8 241.4 196.8 242.0 196.8 242.6 196.8 243.2 196.8 243.8 196.7 244.4 196.7 245.0 196.7 245.6 196.7 246.2 196.7 246.8 196.6 247.4 196.6 248.0 196.6 248.6 196.5 249.2 196.5 249.8 196.4 250.4 196.4 251.0 196.3 251.6 196.3 252.2 196.2 252.8 196.1 253.4 196.0 254.0 196.0 254.6 195.9 255.2 195.8 255.8 195.7 256.4 195.5 257.0 195.4 257.6 195.3 258.2 195.1 258.8 195.0 259.4 194.9 260.0 194.7 260.6 194.5 261.2 194.4 261.8 194.2 262.4 194.0 263.0 193.8 263.6 193.7 264.2 193.5 264.8 193.3 265.4 193.1 266.0 192.9 266.6 192.8 267.2 192.6 267.8 192.4 268.4 192.3 269.0 192.1 269.6 192.0 270.2 191.9 270.8 191.8 271.4 191.7 272.0 191.6 272.6 191.6 273.2 191.5 273.8 191.5 274.4 191.5 275.0 191.5 275.6 191.5 276.2 191.5 276.8 191.6 277.4 191.6 278.0 191.6 278.6 191.7 279.3 191.7 279.9 191.8 280.5 191.9 281.1 191.9 281.7 192.0 282.3 192.1 282.9 192.2 283.5 192.3 284.1 192.3 284.7 192.4 285.3 192.5 285.9 192.6 286.5 192.7 287.1 192.8 287.7 193.0 288.3 193.1 288.9 193.2 289.5 193.3 290.1 193.4 290.7 193.5 291.3 193.6 291.9 193.7 292.5 193.8 293.1 193.9 293.7 194.1 294.3 194.2 294.9 194.3 295.5 194.4 296.1 194.5 296.7 194.6 297.3 194.7 297.9 194.8 298.5 194.9 299.1 194.9 299.7 195.0 300.3 195.1 300.9 195.2 301.5 195.3 302.1 195.4 302.7 195.4 303.3 195.5 303.9 195.6 304.5 195.6 305.1 195.7 305.7 195.8 306.3 195.8 306.9 195.9 307.5 195.9 308.1 196.0 308.7 196.0 309.3 196.1 309.9 196.1 310.5 196.1 311.1 196.2 311.7 196.2 312.3 196.2 312.9 196.3 313.5 196.3 314.1 196.3 314.7 196.3 315.3 196.4 315.9 196.4 316.5 196.4 317.1 196.4 317.7 196.4 318.3 196.5 318.9 196.5 319.5 196.5 320.1 196.5 320.7 196.5 321.3 196.5 321.9 196.5 322.5 196.5 323.1 196.5 323.7 196.6 324.3 196.6 324.9 196.6 325.5 196.6 326.1 196.6 326.7 196.6 327.3 196.6 327.9 196.6 328.5 196.6 329.1 196.6 329.7 196.6 330.3 196.6 330.9 196.6 331.5 196.6 332.1 196.6 332.7 196.6 333.3 196.6 333.9 196.6 334.5 196.6 335.1 196.6 335.7 196.6 336.3 196.6 336.9 196.6 337.5 196.6 338.1 196.6 338.7 196.6 339.3 196.6 339.9 196.6 340.5 196.6 341.1 196.6 341.7 196.6 342.3 196.6 342.9 196.6 343.5 196.6 344.1 196.6 344.7 196.6 345.3 196.6 345.9 196.6 346.5 196.6 347.1 196.6 347.7 196.6 348.3 196.6 348.9 196.6 349.5 196.6 350.1 196.6 350.7 196.6 351.3 196.6 351.9 196.6 352.5 196.6 353.1 196.6 353.7 196.6 354.3 196.6 354.9 196.6 355.5 196.6 356.1 196.6 356.7 196.6 357.3 196.6 357.9 196.6 358.5 196.6 359.1 196.6 359.7 196.6" stroke="#12876e" stroke-width="1.4" fill="none"/>
<path d="M197.6 216.9 198.2 216.9 198.8 216.9 199.4 216.8 200.0 216.8 200.6 216.8 201.2 216.8 201.8 216.8 202.4 216.8 203.0 216.8 203.6 216.8 204.2 216.8 204.8 216.8 205.4 216.8 206.0 216.8 206.6 216.7 207.2 216.7 207.8 216.7 208.4 216.7 209.0 216.7 209.6 216.7 210.2 216.7 210.8 216.6 211.4 216.6 212.0 216.6 212.6 216.6 213.2 216.6 213.8 216.5 214.4 216.5 215.0 216.5 215.6 216.4 216.2 216.4 216.8 216.4 217.4 216.3 218.0 216.3 218.6 216.2 219.2 216.1 219.8 216.1 220.4 216.0 221.0 215.9 221.6 215.8 222.2 215.7 222.8 215.6 223.4 215.5 224.0 215.4 224.6 215.2 225.2 215.1 225.8 214.9 226.4 214.8 227.0 214.6 227.6 214.4 228.2 214.2 228.8 213.9 229.4 213.7 230.0 213.4 230.6 213.2 231.2 212.9 231.8 212.6 232.4 212.3 233.0 211.9 233.6 211.6 234.2 211.2 234.8 210.9 235.4 210.5 236.0 210.1 236.6 209.7 237.2 209.2 237.8 208.8 238.4 208.3 239.0 207.9 239.6 207.4 240.2 206.9 240.8 206.4 241.4 206.0 242.0 205.5 242.6 205.0 243.2 204.5 243.8 204.0 244.4 203.6 245.0 203.1 245.6 202.6 246.2 202.2 246.8 201.8 247.4 201.4 248.0 201.0 248.6 200.6 249.2 200.3 249.8 200.0 250.4 199.7 251.0 199.4 251.6 199.2 252.2 199.0 252.8 198.8 253.4 198.7 254.0 198.6 254.6 198.6 255.2 198.6 255.8 198.6 256.4 198.6 257.0 198.8 257.6 198.9 258.2 199.1 258.8 199.3 259.4 199.6 260.0 199.9 260.6 200.2 261.2 200.5 261.8 200.9 262.4 201.2 263.0 201.6 263.6 202.0 264.2 202.4 264.8 202.9 265.4 203.3 266.0 203.7 266.6 204.1 267.2 204.5 267.8 204.9 268.4 205.4 269.0 205.7 269.6 206.1 270.2 206.5 270.8 206.9 271.4 207.2 272.0 207.6 272.6 207.9 273.2 208.2 273.8 208.5 274.4 208.8 275.0 209.0 275.6 209.3 276.2 209.6 276.8 209.8 277.4 210.0 278.0 210.2 278.6 210.5 279.3 210.7 279.9 210.9 280.5 211.1 281.1 211.2 281.7 211.4 282.3 211.6 282.9 211.7 283.5 211.9 284.1 212.1 284.7 212.2 285.3 212.3 285.9 212.5 286.5 212.6 287.1 212.8 287.7 212.9 288.3 213.0 288.9 213.1 289.5 213.3 290.1 213.4 290.7 213.5 291.3 213.6 291.9 213.7 292.5 213.9 293.1 214.0 293.7 214.1 294.3 214.2 294.9 214.3 295.5 214.4 296.1 214.5 296.7 214.6 297.3 214.7 297.9 214.8 298.5 214.8 299.1 214.9 299.7 215.0 300.3 215.1 300.9 215.2 301.5 215.2 302.1 215.3 302.7 215.4 303.3 215.4 303.9 215.5 304.5 215.5 305.1 215.6 305.7 215.6 306.3 215.7 306.9 215.7 307.5 215.8 308.1 215.8 308.7 215.8 309.3 215.9 309.9 215.9 310.5 215.9 311.1 216.0 311.7 216.0 312.3 216.0 312.9 216.0 313.5 216.0 314.1 216.1 314.7 216.1 315.3 216.1 315.9 216.1 316.5 216.1 317.1 216.1 317.7 216.1 318.3 216.1 318.9 216.1 319.5 216.1 320.1 216.1 320.7 216.2 321.3 216.2 321.9 216.2 322.5 216.2 323.1 216.2 323.7 216.2 324.3 216.2 324.9 216.2 325.5 216.2 326.1 216.2 326.7 216.2 327.3 216.2 327.9 216.2 328.5 216.2 329.1 216.2 329.7 216.2 330.3 216.2 330.9 216.2 331.5 216.2 332.1 216.2 332.7 216.2 333.3 216.2 333.9 216.2 334.5 216.2 335.1 216.2 335.7 216.2 336.3 216.2 336.9 216.1 337.5 216.1 338.1 216.1 338.7 216.1 339.3 216.1 339.9 216.1 340.5 216.1 341.1 216.1 341.7 216.1 342.3 216.1 342.9 216.1 343.5 216.1 344.1 216.1 344.7 216.1 345.3 216.1 345.9 216.1 346.5 216.1 347.1 216.1 347.7 216.1 348.3 216.1 348.9 216.1 349.5 216.1 350.1 216.1 350.7 216.1 351.3 216.1 351.9 216.1 352.5 216.1 353.1 216.1 353.7 216.1 354.3 216.1 354.9 216.1 355.5 216.1 356.1 216.1 356.7 216.1 357.3 216.1 357.9 216.1 358.5 216.1 359.1 216.1 359.7 216.1" stroke="#0000ff" stroke-width="1.7" fill="none"/>
<path d="M197.6 216.9 198.2 216.9 198.8 216.9 199.4 216.9 200.0 216.9 200.6 216.8 201.2 216.8 201.8 216.8 202.4 216.8 203.0 216.8 203.6 216.8 204.2 216.8 204.8 216.8 205.4 216.8 206.0 216.8 206.6 216.8 207.2 216.7 207.8 216.7 208.4 216.7 209.0 216.7 209.6 216.7 210.2 216.7 210.8 216.7 211.4 216.6 212.0 216.6 212.6 216.6 213.2 216.6 213.8 216.5 214.4 216.5 215.0 216.5 215.6 216.5 216.2 216.4 216.8 216.4 217.4 216.3 218.0 216.3 218.6 216.2 219.2 216.1 219.8 216.1 220.4 216.0 221.0 215.9 221.6 215.8 222.2 215.7 222.8 215.6 223.4 215.5 224.0 215.4 224.6 215.3 225.2 215.1 225.8 214.9 226.4 214.8 227.0 214.6 227.6 214.4 228.2 214.2 228.8 214.0 229.4 213.7 230.0 213.5 230.6 213.2 231.2 212.9 231.8 212.6 232.4 212.3 233.0 212.0 233.6 211.6 234.2 211.3 234.8 210.9 235.4 210.5 236.0 210.1 236.6 209.7 237.2 209.3 237.8 208.8 238.4 208.4 239.0 207.9 239.6 207.5 240.2 207.0 240.8 206.5 241.4 206.0 242.0 205.5 242.6 205.1 243.2 204.6 243.8 204.1 244.4 203.7 245.0 203.2 245.6 202.8 246.2 202.3 246.8 201.9 247.4 201.5 248.0 201.2 248.6 200.8 249.2 200.5 249.8 200.2 250.4 200.0 251.0 199.7 251.6 199.5 252.2 199.4 252.8 199.2 253.4 199.1 254.0 199.1 254.6 199.1 255.2 199.1 255.8 199.2 256.4 199.3 257.0 199.5 257.6 199.7 258.2 200.0 258.8 200.3 259.4 200.6 260.0 200.9 260.6 201.3 261.2 201.8 261.8 202.2 262.4 202.7 263.0 203.2 263.6 203.7 264.2 204.2 264.8 204.7 265.4 205.2 266.0 205.8 266.6 206.3 267.2 206.8 267.8 207.3 268.4 207.8 269.0 208.4 269.6 208.8 270.2 209.3 270.8 209.8 271.4 210.2 272.0 210.7 272.6 211.1 273.2 211.5 273.8 211.8 274.4 212.2 275.0 212.5 275.6 212.9 276.2 213.2 276.8 213.4 277.4 213.7 278.0 213.9 278.6 214.2 279.3 214.4 279.9 214.6 280.5 214.7 281.1 214.9 281.7 215.0 282.3 215.2 282.9 215.3 283.5 215.4 284.1 215.5 284.7 215.6 285.3 215.7 285.9 215.8 286.5 215.8 287.1 215.9 287.7 215.9 288.3 216.0 288.9 216.0 289.5 216.1 290.1 216.1 290.7 216.1 291.3 216.1 291.9 216.2 292.5 216.2 293.1 216.2 293.7 216.2 294.3 216.2 294.9 216.2 295.5 216.2 296.1 216.2 296.7 216.3 297.3 216.3 297.9 216.3 298.5 216.3 299.1 216.3 299.7 216.3 300.3 216.3 300.9 216.3 301.5 216.3 302.1 216.3 302.7 216.3 303.3 216.3 303.9 216.3 304.5 216.3 305.1 216.3 305.7 216.3 306.3 216.3 306.9 216.3 307.5 216.3 308.1 216.3 308.7 216.3 309.3 216.3 309.9 216.3 310.5 216.3 311.1 216.3 311.7 216.3 312.3 216.3 312.9 216.3 313.5 216.3 314.1 216.3 314.7 216.3 315.3 216.3 315.9 216.3 316.5 216.3 317.1 216.3 317.7 216.3 318.3 216.3 318.9 216.2 319.5 216.2 320.1 216.2 320.7 216.2 321.3 216.2 321.9 216.2 322.5 216.2 323.1 216.2 323.7 216.2 324.3 216.2 324.9 216.2 325.5 216.2 326.1 216.2 326.7 216.2 327.3 216.2 327.9 216.2 328.5 216.2 329.1 216.2 329.7 216.2 330.3 216.2 330.9 216.2 331.5 216.2 332.1 216.2 332.7 216.2 333.3 216.2 333.9 216.2 334.5 216.2 335.1 216.2 335.7 216.2 336.3 216.2 336.9 216.2 337.5 216.2 338.1 216.2 338.7 216.2 339.3 216.2 339.9 216.2 340.5 216.2 341.1 216.2 341.7 216.2 342.3 216.2 342.9 216.2 343.5 216.1 344.1 216.1 344.7 216.1 345.3 216.1 345.9 216.1 346.5 216.1 347.1 216.1 347.7 216.1 348.3 216.1 348.9 216.1 349.5 216.1 350.1 216.1 350.7 216.1 351.3 216.1 351.9 216.1 352.5 216.1 353.1 216.1 353.7 216.1 354.3 216.1 354.9 216.1 355.5 216.1 356.1 216.1 356.7 216.1 357.3 216.1 357.9 216.1 358.5 216.1 359.1 216.1 359.7 216.1" stroke="#ff1080" stroke-width="1.5" fill="none"/>
<path d="M197.6 217.0 198.2 217.0 198.8 217.0 199.4 217.0 200.0 217.0 200.6 217.0 201.2 217.0 201.8 217.0 202.4 217.0 203.0 217.0 203.6 217.0 204.2 217.0 204.8 216.9 205.4 216.9 206.0 216.9 206.6 216.9 207.2 216.9 207.8 216.9 208.4 216.9 209.0 216.9 209.6 216.9 210.2 216.9 210.8 216.9 211.4 216.9 212.0 216.9 212.6 216.9 213.2 216.9 213.8 216.9 214.4 216.9 215.0 216.9 215.6 216.9 216.2 216.9 216.8 216.9 217.4 216.9 218.0 216.9 218.6 216.9 219.2 216.9 219.8 216.9 220.4 216.9 221.0 216.8 221.6 216.8 222.2 216.8 222.8 216.8 223.4 216.8 224.0 216.8 224.6 216.8 225.2 216.8 225.8 216.8 226.4 216.8 227.0 216.8 227.6 216.8 228.2 216.8 228.8 216.8 229.4 216.8 230.0 216.8 230.6 216.8 231.2 216.8 231.8 216.8 232.4 216.8 233.0 216.8 233.6 216.8 234.2 216.8 234.8 216.8 235.4 216.8 236.0 216.7 236.6 216.7 237.2 216.7 237.8 216.7 238.4 216.7 239.0 216.7 239.6 216.7 240.2 216.7 240.8 216.7 241.4 216.7 242.0 216.7 242.6 216.7 243.2 216.7 243.8 216.6 244.4 216.6 245.0 216.6 245.6 216.6 246.2 216.6 246.8 216.6 247.4 216.6 248.0 216.5 248.6 216.5 249.2 216.5 249.8 216.5 250.4 216.4 251.0 216.4 251.6 216.4 252.2 216.3 252.8 216.3 253.4 216.3 254.0 216.2 254.6 216.2 255.2 216.1 255.8 216.1 256.4 216.0 257.0 215.9 257.6 215.9 258.2 215.8 258.8 215.7 259.4 215.6 260.0 215.6 260.6 215.5 261.2 215.4 261.8 215.3 262.4 215.2 263.0 215.1 263.6 215.0 264.2 214.9 264.8 214.8 265.4 214.7 266.0 214.6 266.6 214.4 267.2 214.3 267.8 214.2 268.4 214.1 269.0 214.0 269.6 213.9 270.2 213.8 270.8 213.7 271.4 213.6 272.0 213.5 272.6 213.4 273.2 213.3 273.8 213.2 274.4 213.1 275.0 213.1 275.6 213.0 276.2 213.0 276.8 212.9 277.4 212.9 278.0 212.9 278.6 212.9 279.3 212.8 279.9 212.9 280.5 212.9 281.1 212.9 281.7 212.9 282.3 212.9 282.9 213.0 283.5 213.0 284.1 213.1 284.7 213.1 285.3 213.2 285.9 213.2 286.5 213.3 287.1 213.4 287.7 213.5 288.3 213.5 288.9 213.6 289.5 213.7 290.1 213.8 290.7 213.9 291.3 214.0 291.9 214.1 292.5 214.2 293.1 214.2 293.7 214.3 294.3 214.4 294.9 214.5 295.5 214.6 296.1 214.7 296.7 214.8 297.3 214.9 297.9 214.9 298.5 215.0 299.1 215.1 299.7 215.2 300.3 215.2 300.9 215.3 301.5 215.4 302.1 215.4 302.7 215.5 303.3 215.6 303.9 215.6 304.5 215.7 305.1 215.7 305.7 215.8 306.3 215.8 306.9 215.8 307.5 215.9 308.1 215.9 308.7 215.9 309.3 216.0 309.9 216.0 310.5 216.0 311.1 216.1 311.7 216.1 312.3 216.1 312.9 216.1 313.5 216.1 314.1 216.1 314.7 216.2 315.3 216.2 315.9 216.2 316.5 216.2 317.1 216.2 317.7 216.2 318.3 216.2 318.9 216.2 319.5 216.2 320.1 216.2 320.7 216.2 321.3 216.2 321.9 216.2 322.5 216.2 323.1 216.2 323.7 216.2 324.3 216.2 324.9 216.2 325.5 216.2 326.1 216.2 326.7 216.2 327.3 216.2 327.9 216.2 328.5 216.2 329.1 216.2 329.7 216.2 330.3 216.2 330.9 216.2 331.5 216.2 332.1 216.2 332.7 216.2 333.3 216.2 333.9 216.2 334.5 216.2 335.1 216.2 335.7 216.2 336.3 216.2 336.9 216.2 337.5 216.2 338.1 216.2 338.7 216.2 339.3 216.2 339.9 216.2 340.5 216.2 341.1 216.2 341.7 216.2 342.3 216.2 342.9 216.2 343.5 216.2 344.1 216.2 344.7 216.2 345.3 216.2 345.9 216.2 346.5 216.2 347.1 216.1 347.7 216.1 348.3 216.1 348.9 216.1 349.5 216.1 350.1 216.1 350.7 216.1 351.3 216.1 351.9 216.1 352.5 216.1 353.1 216.1 353.7 216.1 354.3 216.1 354.9 216.1 355.5 216.1 356.1 216.1 356.7 216.1 357.3 216.1 357.9 216.1 358.5 216.1 359.1 216.1 359.7 216.1" stroke="#128a70" stroke-width="1.1" fill="none"/>
<line x1="251.00" y1="178.00" x2="251.00" y2="219.00" stroke="#444444" stroke-width="0.9" stroke-dasharray="1.6,2.6"/>
<line x1="277.70" y1="188.00" x2="277.70" y2="219.00" stroke="#444444" stroke-width="0.9" stroke-dasharray="1.6,2.6"/>
<rect x="198.40" y="177.20" width="26.90" height="18.00" fill="#555"/>
<rect x="197.40" y="176.00" width="26.10" height="17.20" fill="#fff" stroke="#d8d8d8" stroke-width="0.7"/>
<text x="201.20" y="186.70" font-size="9.0" stroke="#000" stroke-width="0.22" font-weight="bold">In</text>
<text x="209.50" y="190.50" font-size="5.4" stroke="#000" stroke-width="0.13" font-weight="bold">2</text>
<text x="212.70" y="186.70" font-size="9.0" stroke="#000" stroke-width="0.22" font-weight="bold">O</text>
<text x="220.10" y="190.50" font-size="5.4" stroke="#000" stroke-width="0.13" font-weight="bold">3</text>
<rect x="307.40" y="174.50" width="45.10" height="37.50" fill="#fff" stroke="#dadada" stroke-width="0.7"/>
<text x="309.40" y="184.30" font-size="8.6" fill="#1a1a1a" stroke="#1a1a1a" stroke-width="0.22">Modifier</text>
<line x1="308.90" y1="191.50" x2="328.90" y2="191.50" stroke="#0000ff" stroke-width="1.7"/>
<text x="331.00" y="193.90" font-size="8.6" fill="#1a1a1a" stroke="#1a1a1a" stroke-width="0.22">none</text>
<line x1="308.90" y1="202.40" x2="328.90" y2="202.40" stroke="#959500" stroke-width="1.7"/>
<text x="331.00" y="205.60" font-size="8.6" fill="#1a1a1a" stroke="#1a1a1a" stroke-width="0.22">PtO</text>
<text x="346.11" y="209.00" font-size="5.4" fill="#1a1a1a" stroke="#1a1a1a" stroke-width="0.13">x</text>
<line x1="197.60" y1="226.00" x2="197.60" y2="269.20" stroke="#b8b8b8" stroke-width="0.9"/>
<line x1="197.60" y1="269.20" x2="359.70" y2="269.20" stroke="#b8b8b8" stroke-width="0.9"/>
<line x1="217.59" y1="269.20" x2="217.59" y2="268.00" stroke="#9a9a9a" stroke-width="0.7"/>
<line x1="237.73" y1="269.20" x2="237.73" y2="267.20" stroke="#9a9a9a" stroke-width="0.7"/>
<line x1="257.88" y1="269.20" x2="257.88" y2="268.00" stroke="#9a9a9a" stroke-width="0.7"/>
<line x1="278.02" y1="269.20" x2="278.02" y2="267.20" stroke="#9a9a9a" stroke-width="0.7"/>
<line x1="298.17" y1="269.20" x2="298.17" y2="268.00" stroke="#9a9a9a" stroke-width="0.7"/>
<line x1="318.31" y1="269.20" x2="318.31" y2="267.20" stroke="#9a9a9a" stroke-width="0.7"/>
<line x1="338.46" y1="269.20" x2="338.46" y2="268.00" stroke="#9a9a9a" stroke-width="0.7"/>
<line x1="358.60" y1="269.20" x2="358.60" y2="267.20" stroke="#9a9a9a" stroke-width="0.7"/>
<path d="M197.6 246.9 198.2 246.9 198.8 246.9 199.4 246.9 200.0 246.9 200.6 246.9 201.2 246.9 201.8 246.9 202.4 246.9 203.0 246.9 203.6 246.9 204.2 246.9 204.8 246.9 205.4 246.9 206.0 246.9 206.6 246.9 207.2 246.9 207.8 246.9 208.4 246.9 209.0 246.9 209.6 246.9 210.2 246.9 210.8 246.8 211.4 246.8 212.0 246.8 212.6 246.8 213.2 246.8 213.8 246.8 214.4 246.8 215.0 246.8 215.6 246.8 216.2 246.8 216.8 246.8 217.4 246.7 218.0 246.7 218.6 246.7 219.2 246.7 219.8 246.7 220.4 246.7 221.0 246.7 221.6 246.6 222.2 246.6 222.8 246.6 223.4 246.6 224.0 246.6 224.6 246.5 225.2 246.5 225.8 246.5 226.4 246.5 227.0 246.4 227.6 246.4 228.2 246.4 228.8 246.3 229.4 246.3 230.0 246.3 230.6 246.2 231.2 246.2 231.8 246.1 232.4 246.1 233.0 246.1 233.6 246.0 234.2 246.0 234.8 245.9 235.4 245.8 236.0 245.8 236.6 245.7 237.2 245.7 237.8 245.6 238.4 245.5 239.0 245.4 239.6 245.3 240.2 245.2 240.8 245.0 241.4 244.9 242.0 244.7 242.6 244.5 243.2 244.2 243.8 243.9 244.4 243.5 245.0 243.0 245.6 242.5 246.2 241.9 246.8 241.2 247.4 240.4 248.0 239.6 248.6 238.6 249.2 237.6 249.8 236.5 250.4 235.4 251.0 234.3 251.6 233.1 252.2 232.1 252.8 231.1 253.4 230.2 254.0 229.5 254.6 229.0 255.2 228.6 255.8 228.5 256.4 228.6 257.0 228.9 257.6 229.4 258.2 230.0 258.8 230.7 259.4 231.5 260.0 232.4 260.6 233.3 261.2 234.2 261.8 235.1 262.4 235.9 263.0 236.8 263.6 237.5 264.2 238.2 264.8 238.8 265.4 239.3 266.0 239.8 266.6 240.2 267.2 240.5 267.8 240.8 268.4 241.0 269.0 241.2 269.6 241.3 270.2 241.4 270.8 241.5 271.4 241.6 272.0 241.6 272.6 241.6 273.2 241.7 273.8 241.7 274.4 241.7 275.0 241.8 275.6 241.8 276.2 241.8 276.8 241.9 277.4 241.9 278.0 241.9 278.6 242.0 279.3 242.0 279.9 242.1 280.5 242.1 281.1 242.2 281.7 242.2 282.3 242.3 282.9 242.3 283.5 242.4 284.1 242.5 284.7 242.6 285.3 242.6 285.9 242.7 286.5 242.8 287.1 242.9 287.7 242.9 288.3 243.0 288.9 243.1 289.5 243.2 290.1 243.3 290.7 243.4 291.3 243.5 291.9 243.6 292.5 243.7 293.1 243.7 293.7 243.8 294.3 243.9 294.9 244.0 295.5 244.1 296.1 244.2 296.7 244.3 297.3 244.4 297.9 244.5 298.5 244.6 299.1 244.6 299.7 244.7 300.3 244.8 300.9 244.9 301.5 245.0 302.1 245.0 302.7 245.1 303.3 245.2 303.9 245.3 304.5 245.3 305.1 245.4 305.7 245.5 306.3 245.5 306.9 245.6 307.5 245.7 308.1 245.7 308.7 245.8 309.3 245.8 309.9 245.9 310.5 246.0 311.1 246.0 311.7 246.1 312.3 246.1 312.9 246.1 313.5 246.2 314.1 246.2 314.7 246.3 315.3 246.3 315.9 246.3 316.5 246.4 317.1 246.4 317.7 246.4 318.3 246.5 318.9 246.5 319.5 246.5 320.1 246.5 320.7 246.6 321.3 246.6 321.9 246.6 322.5 246.6 323.1 246.7 323.7 246.7 324.3 246.7 324.9 246.7 325.5 246.7 326.1 246.7 326.7 246.8 327.3 246.8 327.9 246.8 328.5 246.8 329.1 246.8 329.7 246.8 330.3 246.8 330.9 246.8 331.5 246.8 332.1 246.8 332.7 246.9 333.3 246.9 333.9 246.9 334.5 246.9 335.1 246.9 335.7 246.9 336.3 246.9 336.9 246.9 337.5 246.9 338.1 246.9 338.7 246.9 339.3 246.9 339.9 246.9 340.5 246.9 341.1 246.9 341.7 246.9 342.3 246.9 342.9 246.9 343.5 246.9 344.1 246.9 344.7 246.9 345.3 246.9 345.9 246.9 346.5 246.9 347.1 246.9 347.7 246.9 348.3 246.9 348.9 246.9 349.5 246.9 350.1 246.9 350.7 246.9 351.3 246.9 351.9 246.9 352.5 246.9 353.1 246.9 353.7 246.9 354.3 246.9 354.9 247.0 355.5 247.0 356.1 247.0 356.7 247.0 357.3 247.0 357.9 247.0 358.5 247.0 359.1 247.0 359.7 247.0" stroke="#959500" stroke-width="1.7" fill="none"/>
<path d="M225.0 247.5 225.6 247.5 226.2 247.5 226.8 247.5 227.4 247.5 228.0 247.5 228.6 247.5 229.2 247.5 229.8 247.5 230.4 247.5 231.0 247.5 231.6 247.5 232.2 247.5 232.8 247.5 233.4 247.5 234.0 247.5 234.6 247.5 235.2 247.5 235.8 247.5 236.4 247.5 237.0 247.5 237.6 247.5 238.2 247.5 238.8 247.5 239.4 247.5 240.0 247.5 240.6 247.5 241.2 247.5 241.8 247.5 242.4 247.5 243.0 247.5 243.6 247.5 244.2 247.5 244.8 247.5 245.4 247.5 246.0 247.5 246.6 247.5 247.2 247.5 247.8 247.5 248.4 247.5 249.0 247.5 249.6 247.5 250.2 247.5 250.8 247.5 251.4 247.5 252.0 247.5 252.6 247.5 253.2 247.5 253.8 247.5 254.4 247.5 255.0 247.5 255.6 247.5 256.2 247.5 256.8 247.5 257.4 247.5 258.0 247.5 258.6 247.5 259.2 247.5 259.8 247.5 260.4 247.5 261.0 247.5 261.6 247.5 262.2 247.5 262.8 247.5 263.4 247.5 264.0 247.5 264.6 247.5 265.2 247.5 265.8 247.5 266.4 247.5 267.0 247.5 267.6 247.5 268.2 247.5 268.8 247.5 269.4 247.5 270.0 247.5 270.6 247.5 271.2 247.5 271.8 247.5 272.4 247.5 273.0 247.5 273.6 247.5 274.2 247.5 274.8 247.5 275.4 247.5 276.0 247.5 276.6 247.5 277.2 247.5 277.8 247.5 278.4 247.5 279.0 247.5 279.6 247.5 280.2 247.5 280.8 247.5 281.4 247.5 282.0 247.5 282.6 247.5 283.2 247.5 283.8 247.5 284.4 247.5 285.0 247.5 285.6 247.5 286.2 247.5 286.8 247.5 287.4 247.5 288.0 247.5 288.6 247.5 289.2 247.5 289.8 247.5 290.4 247.5 291.0 247.5 291.6 247.5 292.2 247.5 292.8 247.5 293.4 247.5 294.0 247.5 294.6 247.5 295.2 247.5 295.8 247.5 296.4 247.5 297.0 247.5 297.6 247.5 298.2 247.5 298.8 247.5 299.4 247.5 300.0 247.5" stroke="#333" stroke-width="0.8" fill="none"/>
<path d="M197.6 247.0 198.2 247.0 198.8 247.0 199.4 247.0 200.0 247.0 200.6 247.0 201.2 247.0 201.8 247.0 202.4 247.0 203.0 247.0 203.6 247.0 204.2 247.0 204.8 247.0 205.4 247.0 206.0 247.0 206.6 247.0 207.2 247.0 207.8 247.0 208.4 247.0 209.0 247.0 209.6 247.0 210.2 247.0 210.8 247.0 211.4 247.0 212.0 247.0 212.6 247.0 213.2 247.0 213.8 247.0 214.4 247.0 215.0 247.0 215.6 247.0 216.2 246.9 216.8 246.9 217.4 246.9 218.0 246.9 218.6 246.9 219.2 246.9 219.8 246.9 220.4 246.9 221.0 246.9 221.6 246.9 222.2 246.9 222.8 246.9 223.4 246.9 224.0 246.9 224.6 246.9 225.2 246.9 225.8 246.9 226.4 246.9 227.0 246.9 227.6 246.9 228.2 246.9 228.8 246.9 229.4 246.9 230.0 246.9 230.6 246.9 231.2 246.9 231.8 246.9 232.4 246.9 233.0 246.8 233.6 246.8 234.2 246.8 234.8 246.8 235.4 246.8 236.0 246.8 236.6 246.8 237.2 246.8 237.8 246.7 238.4 246.7 239.0 246.7 239.6 246.6 240.2 246.6 240.8 246.5 241.4 246.4 242.0 246.3 242.6 246.1 243.2 245.9 243.8 245.6 244.4 245.3 245.0 244.9 245.6 244.5 246.2 244.0 246.8 243.4 247.4 242.6 248.0 241.9 248.6 241.0 249.2 240.0 249.8 239.1 250.4 238.0 251.0 237.0 251.6 235.9 252.2 235.0 252.8 234.1 253.4 233.3 254.0 232.6 254.6 232.2 255.2 231.9 255.8 231.9 256.4 232.1 257.0 232.5 257.6 233.0 258.2 233.7 258.8 234.5 259.4 235.4 260.0 236.3 260.6 237.3 261.2 238.3 261.8 239.3 262.4 240.2 263.0 241.1 263.6 241.9 264.2 242.6 264.8 243.3 265.4 243.9 266.0 244.4 266.6 244.8 267.2 245.2 267.8 245.5 268.4 245.8 269.0 246.0 269.6 246.2 270.2 246.3 270.8 246.4 271.4 246.5 272.0 246.6 272.6 246.6 273.2 246.7 273.8 246.7 274.4 246.7 275.0 246.8 275.6 246.8 276.2 246.8 276.8 246.8 277.4 246.8 278.0 246.8 278.6 246.8 279.3 246.8 279.9 246.9 280.5 246.9 281.1 246.9 281.7 246.9 282.3 246.9 282.9 246.9 283.5 246.9 284.1 246.9 284.7 246.9 285.3 246.9 285.9 246.9 286.5 246.9 287.1 246.9 287.7 246.9 288.3 246.9 288.9 246.9 289.5 246.9 290.1 246.9 290.7 246.9 291.3 246.9 291.9 246.9 292.5 246.9 293.1 246.9 293.7 246.9 294.3 246.9 294.9 246.9 295.5 246.9 296.1 246.9 296.7 246.9 297.3 246.9 297.9 246.9 298.5 247.0 299.1 247.0 299.7 247.0 300.3 247.0 300.9 247.0 301.5 247.0 302.1 247.0 302.7 247.0 303.3 247.0 303.9 247.0 304.5 247.0 305.1 247.0 305.7 247.0 306.3 247.0 306.9 247.0 307.5 247.0 308.1 247.0 308.7 247.0 309.3 247.0 309.9 247.0 310.5 247.0 311.1 247.0 311.7 247.0 312.3 247.0 312.9 247.0 313.5 247.0 314.1 247.0 314.7 247.0 315.3 247.0 315.9 247.0 316.5 247.0 317.1 247.0 317.7 247.0 318.3 247.0 318.9 247.0 319.5 247.0 320.1 247.0 320.7 247.0 321.3 247.0 321.9 247.0 322.5 247.0 323.1 247.0 323.7 247.0 324.3 247.0 324.9 247.0 325.5 247.0 326.1 247.0 326.7 247.0 327.3 247.0 327.9 247.0 328.5 247.0 329.1 247.0 329.7 247.0 330.3 247.0 330.9 247.0 331.5 247.0 332.1 247.0 332.7 247.0 333.3 247.0 333.9 247.0 334.5 247.0 335.1 247.0 335.7 247.0 336.3 247.0 336.9 247.0 337.5 247.0 338.1 247.0 338.7 247.0 339.3 247.0 339.9 247.0 340.5 247.0 341.1 247.0 341.7 247.0 342.3 247.0 342.9 247.0 343.5 247.0 344.1 247.0 344.7 247.0 345.3 247.0 345.9 247.0 346.5 247.0 347.1 247.0 347.7 247.0 348.3 247.0 348.9 247.0 349.5 247.0 350.1 247.0 350.7 247.0 351.3 247.0 351.9 247.0 352.5 247.0 353.1 247.0 353.7 247.0 354.3 247.0 354.9 247.0 355.5 247.0 356.1 247.0 356.7 247.0 357.3 247.0 357.9 247.0 358.5 247.0 359.1 247.0 359.7 247.0" stroke="#ff1080" stroke-width="1.5" fill="none"/>
<path d="M197.6 246.9 198.2 246.9 198.8 246.9 199.4 246.9 200.0 246.9 200.6 246.9 201.2 246.9 201.8 246.9 202.4 246.9 203.0 246.9 203.6 246.9 204.2 246.9 204.8 246.9 205.4 246.9 206.0 246.9 206.6 246.9 207.2 246.9 207.8 246.9 208.4 246.9 209.0 246.9 209.6 246.9 210.2 246.9 210.8 246.9 211.4 246.9 212.0 246.9 212.6 246.9 213.2 246.9 213.8 246.9 214.4 246.8 215.0 246.8 215.6 246.8 216.2 246.8 216.8 246.8 217.4 246.8 218.0 246.8 218.6 246.8 219.2 246.8 219.8 246.8 220.4 246.7 221.0 246.7 221.6 246.7 222.2 246.7 222.8 246.7 223.4 246.7 224.0 246.6 224.6 246.6 225.2 246.6 225.8 246.6 226.4 246.6 227.0 246.5 227.6 246.5 228.2 246.5 228.8 246.4 229.4 246.4 230.0 246.4 230.6 246.4 231.2 246.3 231.8 246.3 232.4 246.2 233.0 246.2 233.6 246.2 234.2 246.1 234.8 246.1 235.4 246.0 236.0 246.0 236.6 245.9 237.2 245.9 237.8 245.8 238.4 245.8 239.0 245.7 239.6 245.7 240.2 245.6 240.8 245.5 241.4 245.5 242.0 245.4 242.6 245.4 243.2 245.3 243.8 245.2 244.4 245.1 245.0 245.1 245.6 245.0 246.2 244.9 246.8 244.9 247.4 244.8 248.0 244.7 248.6 244.6 249.2 244.5 249.8 244.5 250.4 244.4 251.0 244.3 251.6 244.2 252.2 244.1 252.8 244.0 253.4 243.9 254.0 243.9 254.6 243.8 255.2 243.7 255.8 243.6 256.4 243.5 257.0 243.4 257.6 243.4 258.2 243.3 258.8 243.2 259.4 243.1 260.0 243.0 260.6 243.0 261.2 242.9 261.8 242.8 262.4 242.7 263.0 242.7 263.6 242.6 264.2 242.5 264.8 242.5 265.4 242.4 266.0 242.4 266.6 242.3 267.2 242.3 267.8 242.2 268.4 242.2 269.0 242.2 269.6 242.1 270.2 242.1 270.8 242.1 271.4 242.0 272.0 242.0 272.6 242.0 273.2 242.0 273.8 242.0 274.4 242.0 275.0 242.0 275.6 242.0 276.2 242.0 276.8 242.0 277.4 242.1 278.0 242.1 278.6 242.1 279.3 242.2 279.9 242.2 280.5 242.2 281.1 242.3 281.7 242.3 282.3 242.4 282.9 242.5 283.5 242.5 284.1 242.6 284.7 242.7 285.3 242.7 285.9 242.8 286.5 242.9 287.1 243.0 287.7 243.0 288.3 243.1 288.9 243.2 289.5 243.3 290.1 243.4 290.7 243.5 291.3 243.5 291.9 243.6 292.5 243.7 293.1 243.8 293.7 243.9 294.3 244.0 294.9 244.1 295.5 244.2 296.1 244.3 296.7 244.3 297.3 244.4 297.9 244.5 298.5 244.6 299.1 244.7 299.7 244.8 300.3 244.9 300.9 244.9 301.5 245.0 302.1 245.1 302.7 245.2 303.3 245.2 303.9 245.3 304.5 245.4 305.1 245.4 305.7 245.5 306.3 245.6 306.9 245.6 307.5 245.7 308.1 245.8 308.7 245.8 309.3 245.9 309.9 245.9 310.5 246.0 311.1 246.0 311.7 246.1 312.3 246.1 312.9 246.2 313.5 246.2 314.1 246.3 314.7 246.3 315.3 246.3 315.9 246.4 316.5 246.4 317.1 246.4 317.7 246.5 318.3 246.5 318.9 246.5 319.5 246.5 320.1 246.6 320.7 246.6 321.3 246.6 321.9 246.6 322.5 246.7 323.1 246.7 323.7 246.7 324.3 246.7 324.9 246.7 325.5 246.7 326.1 246.8 326.7 246.8 327.3 246.8 327.9 246.8 328.5 246.8 329.1 246.8 329.7 246.8 330.3 246.8 330.9 246.8 331.5 246.9 332.1 246.9 332.7 246.9 333.3 246.9 333.9 246.9 334.5 246.9 335.1 246.9 335.7 246.9 336.3 246.9 336.9 246.9 337.5 246.9 338.1 246.9 338.7 246.9 339.3 246.9 339.9 246.9 340.5 246.9 341.1 246.9 341.7 246.9 342.3 246.9 342.9 246.9 343.5 246.9 344.1 246.9 344.7 246.9 345.3 246.9 345.9 246.9 346.5 246.9 347.1 246.9 347.7 246.9 348.3 246.9 348.9 247.0 349.5 247.0 350.1 247.0 350.7 247.0 351.3 247.0 351.9 247.0 352.5 247.0 353.1 247.0 353.7 247.0 354.3 247.0 354.9 247.0 355.5 247.0 356.1 247.0 356.7 247.0 357.3 247.0 357.9 247.0 358.5 247.0 359.1 247.0 359.7 247.0" stroke="#12876e" stroke-width="1.4" fill="none"/>
<path d="M197.6 267.8 198.2 267.8 198.8 267.8 199.4 267.8 200.0 267.8 200.6 267.8 201.2 267.8 201.8 267.8 202.4 267.8 203.0 267.8 203.6 267.8 204.2 267.8 204.8 267.8 205.4 267.8 206.0 267.8 206.6 267.8 207.2 267.8 207.8 267.8 208.4 267.8 209.0 267.8 209.6 267.7 210.2 267.7 210.8 267.7 211.4 267.7 212.0 267.7 212.6 267.7 213.2 267.7 213.8 267.7 214.4 267.7 215.0 267.7 215.6 267.7 216.2 267.7 216.8 267.7 217.4 267.7 218.0 267.6 218.6 267.6 219.2 267.6 219.8 267.6 220.4 267.6 221.0 267.6 221.6 267.6 222.2 267.6 222.8 267.5 223.4 267.5 224.0 267.5 224.6 267.5 225.2 267.5 225.8 267.4 226.4 267.4 227.0 267.4 227.6 267.3 228.2 267.3 228.8 267.3 229.4 267.2 230.0 267.2 230.6 267.1 231.2 267.1 231.8 267.0 232.4 267.0 233.0 266.9 233.6 266.8 234.2 266.7 234.8 266.6 235.4 266.4 236.0 266.3 236.6 266.1 237.2 265.9 237.8 265.7 238.4 265.5 239.0 265.2 239.6 264.9 240.2 264.5 240.8 264.1 241.4 263.7 242.0 263.2 242.6 262.7 243.2 262.1 243.8 261.5 244.4 260.8 245.0 260.1 245.6 259.3 246.2 258.6 246.8 257.7 247.4 256.9 248.0 256.1 248.6 255.3 249.2 254.4 249.8 253.6 250.4 252.9 251.0 252.2 251.6 251.5 252.2 250.9 252.8 250.4 253.4 250.0 254.0 249.7 254.6 249.5 255.2 249.5 255.8 249.7 256.4 250.2 257.0 250.9 257.6 251.8 258.2 252.7 258.8 253.8 259.4 254.8 260.0 255.9 260.6 256.9 261.2 257.8 261.8 258.7 262.4 259.4 263.0 260.1 263.6 260.6 264.2 261.1 264.8 261.4 265.4 261.7 266.0 261.9 266.6 262.1 267.2 262.2 267.8 262.2 268.4 262.3 269.0 262.3 269.6 262.3 270.2 262.3 270.8 262.3 271.4 262.3 272.0 262.3 272.6 262.3 273.2 262.3 273.8 262.3 274.4 262.3 275.0 262.4 275.6 262.4 276.2 262.4 276.8 262.4 277.4 262.5 278.0 262.5 278.6 262.5 279.3 262.6 279.9 262.6 280.5 262.7 281.1 262.7 281.7 262.8 282.3 262.8 282.9 262.9 283.5 263.0 284.1 263.1 284.7 263.1 285.3 263.2 285.9 263.3 286.5 263.4 287.1 263.5 287.7 263.6 288.3 263.6 288.9 263.7 289.5 263.8 290.1 263.9 290.7 264.0 291.3 264.1 291.9 264.2 292.5 264.3 293.1 264.4 293.7 264.5 294.3 264.6 294.9 264.7 295.5 264.8 296.1 264.9 296.7 265.0 297.3 265.1 297.9 265.2 298.5 265.3 299.1 265.4 299.7 265.5 300.3 265.5 300.9 265.6 301.5 265.7 302.1 265.8 302.7 265.9 303.3 266.0 303.9 266.0 304.5 266.1 305.1 266.2 305.7 266.3 306.3 266.3 306.9 266.4 307.5 266.5 308.1 266.5 308.7 266.6 309.3 266.7 309.9 266.7 310.5 266.8 311.1 266.8 311.7 266.9 312.3 266.9 312.9 267.0 313.5 267.0 314.1 267.1 314.7 267.1 315.3 267.2 315.9 267.2 316.5 267.2 317.1 267.3 317.7 267.3 318.3 267.3 318.9 267.4 319.5 267.4 320.1 267.4 320.7 267.4 321.3 267.5 321.9 267.5 322.5 267.5 323.1 267.5 323.7 267.6 324.3 267.6 324.9 267.6 325.5 267.6 326.1 267.6 326.7 267.6 327.3 267.7 327.9 267.7 328.5 267.7 329.1 267.7 329.7 267.7 330.3 267.7 330.9 267.7 331.5 267.7 332.1 267.7 332.7 267.7 333.3 267.8 333.9 267.8 334.5 267.8 335.1 267.8 335.7 267.8 336.3 267.8 336.9 267.8 337.5 267.8 338.1 267.8 338.7 267.8 339.3 267.8 339.9 267.8 340.5 267.8 341.1 267.8 341.7 267.8 342.3 267.8 342.9 267.8 343.5 267.8 344.1 267.8 344.7 267.8 345.3 267.8 345.9 267.8 346.5 267.8 347.1 267.8 347.7 267.8 348.3 267.8 348.9 267.8 349.5 267.8 350.1 267.8 350.7 267.8 351.3 267.8 351.9 267.8 352.5 267.8 353.1 267.8 353.7 267.8 354.3 267.8 354.9 267.8 355.5 267.9 356.1 267.9 356.7 267.9 357.3 267.9 357.9 267.9 358.5 267.9 359.1 267.9 359.7 267.9" stroke="#0000ff" stroke-width="1.7" fill="none"/>
<path d="M197.6 267.9 198.2 267.8 198.8 267.8 199.4 267.8 200.0 267.8 200.6 267.8 201.2 267.8 201.8 267.8 202.4 267.8 203.0 267.8 203.6 267.8 204.2 267.8 204.8 267.8 205.4 267.8 206.0 267.8 206.6 267.8 207.2 267.8 207.8 267.8 208.4 267.8 209.0 267.8 209.6 267.8 210.2 267.8 210.8 267.8 211.4 267.8 212.0 267.8 212.6 267.8 213.2 267.8 213.8 267.8 214.4 267.8 215.0 267.8 215.6 267.8 216.2 267.8 216.8 267.8 217.4 267.8 218.0 267.8 218.6 267.8 219.2 267.8 219.8 267.8 220.4 267.8 221.0 267.8 221.6 267.8 222.2 267.8 222.8 267.7 223.4 267.7 224.0 267.7 224.6 267.7 225.2 267.7 225.8 267.7 226.4 267.7 227.0 267.7 227.6 267.7 228.2 267.7 228.8 267.7 229.4 267.6 230.0 267.6 230.6 267.6 231.2 267.6 231.8 267.5 232.4 267.5 233.0 267.5 233.6 267.4 234.2 267.4 234.8 267.3 235.4 267.2 236.0 267.1 236.6 267.0 237.2 266.8 237.8 266.6 238.4 266.4 239.0 266.2 239.6 266.0 240.2 265.7 240.8 265.3 241.4 264.9 242.0 264.5 242.6 264.1 243.2 263.6 243.8 263.0 244.4 262.4 245.0 261.8 245.6 261.1 246.2 260.4 246.8 259.7 247.4 258.9 248.0 258.2 248.6 257.5 249.2 256.7 249.8 256.0 250.4 255.3 251.0 254.7 251.6 254.2 252.2 253.7 252.8 253.3 253.4 253.0 254.0 252.8 254.6 252.7 255.2 252.8 255.8 253.1 256.4 253.7 257.0 254.5 257.6 255.4 258.2 256.5 258.8 257.6 259.4 258.8 260.0 260.0 260.6 261.1 261.2 262.1 261.8 263.0 262.4 263.9 263.0 264.6 263.6 265.2 264.2 265.8 264.8 266.2 265.4 266.5 266.0 266.8 266.6 267.0 267.2 267.2 267.8 267.3 268.4 267.4 269.0 267.5 269.6 267.6 270.2 267.6 270.8 267.6 271.4 267.7 272.0 267.7 272.6 267.7 273.2 267.7 273.8 267.7 274.4 267.7 275.0 267.7 275.6 267.8 276.2 267.8 276.8 267.8 277.4 267.8 278.0 267.8 278.6 267.8 279.3 267.8 279.9 267.8 280.5 267.8 281.1 267.8 281.7 267.8 282.3 267.8 282.9 267.8 283.5 267.8 284.1 267.8 284.7 267.8 285.3 267.8 285.9 267.8 286.5 267.8 287.1 267.8 287.7 267.8 288.3 267.8 288.9 267.8 289.5 267.8 290.1 267.8 290.7 267.8 291.3 267.9 291.9 267.9 292.5 267.9 293.1 267.9 293.7 267.9 294.3 267.9 294.9 267.9 295.5 267.9 296.1 267.9 296.7 267.9 297.3 267.9 297.9 267.9 298.5 267.9 299.1 267.9 299.7 267.9 300.3 267.9 300.9 267.9 301.5 267.9 302.1 267.9 302.7 267.9 303.3 267.9 303.9 267.9 304.5 267.9 305.1 267.9 305.7 267.9 306.3 267.9 306.9 267.9 307.5 267.9 308.1 267.9 308.7 267.9 309.3 267.9 309.9 267.9 310.5 267.9 311.1 267.9 311.7 267.9 312.3 267.9 312.9 267.9 313.5 267.9 314.1 267.9 314.7 267.9 315.3 267.9 315.9 267.9 316.5 267.9 317.1 267.9 317.7 267.9 318.3 267.9 318.9 267.9 319.5 267.9 320.1 267.9 320.7 267.9 321.3 267.9 321.9 267.9 322.5 267.9 323.1 267.9 323.7 267.9 324.3 267.9 324.9 267.9 325.5 267.9 326.1 267.9 326.7 267.9 327.3 267.9 327.9 267.9 328.5 267.9 329.1 267.9 329.7 267.9 330.3 267.9 330.9 267.9 331.5 267.9 332.1 267.9 332.7 267.9 333.3 267.9 333.9 267.9 334.5 267.9 335.1 267.9 335.7 267.9 336.3 267.9 336.9 267.9 337.5 267.9 338.1 267.9 338.7 267.9 339.3 267.9 339.9 267.9 340.5 267.9 341.1 267.9 341.7 267.9 342.3 267.9 342.9 267.9 343.5 267.9 344.1 267.9 344.7 267.9 345.3 267.9 345.9 267.9 346.5 267.9 347.1 267.9 347.7 267.9 348.3 267.9 348.9 267.9 349.5 267.9 350.1 267.9 350.7 267.9 351.3 267.9 351.9 267.9 352.5 267.9 353.1 267.9 353.7 267.9 354.3 267.9 354.9 267.9 355.5 267.9 356.1 267.9 356.7 267.9 357.3 267.9 357.9 267.9 358.5 267.9 359.1 267.9 359.7 267.9" stroke="#ff1080" stroke-width="1.5" fill="none"/>
<path d="M197.6 267.9 198.2 267.9 198.8 267.9 199.4 267.9 200.0 267.9 200.6 267.9 201.2 267.9 201.8 267.8 202.4 267.8 203.0 267.8 203.6 267.8 204.2 267.8 204.8 267.8 205.4 267.8 206.0 267.8 206.6 267.8 207.2 267.8 207.8 267.8 208.4 267.8 209.0 267.8 209.6 267.8 210.2 267.8 210.8 267.8 211.4 267.8 212.0 267.8 212.6 267.8 213.2 267.8 213.8 267.8 214.4 267.8 215.0 267.8 215.6 267.8 216.2 267.8 216.8 267.8 217.4 267.8 218.0 267.8 218.6 267.8 219.2 267.7 219.8 267.7 220.4 267.7 221.0 267.7 221.6 267.7 222.2 267.7 222.8 267.7 223.4 267.7 224.0 267.7 224.6 267.6 225.2 267.6 225.8 267.6 226.4 267.6 227.0 267.6 227.6 267.6 228.2 267.5 228.8 267.5 229.4 267.5 230.0 267.5 230.6 267.4 231.2 267.4 231.8 267.4 232.4 267.3 233.0 267.3 233.6 267.3 234.2 267.2 234.8 267.2 235.4 267.2 236.0 267.1 236.6 267.1 237.2 267.0 237.8 267.0 238.4 266.9 239.0 266.9 239.6 266.8 240.2 266.8 240.8 266.7 241.4 266.6 242.0 266.6 242.6 266.5 243.2 266.4 243.8 266.4 244.4 266.3 245.0 266.2 245.6 266.1 246.2 266.0 246.8 266.0 247.4 265.9 248.0 265.8 248.6 265.7 249.2 265.6 249.8 265.5 250.4 265.4 251.0 265.3 251.6 265.2 252.2 265.1 252.8 265.0 253.4 264.9 254.0 264.8 254.6 264.7 255.2 264.6 255.8 264.5 256.4 264.4 257.0 264.3 257.6 264.2 258.2 264.1 258.8 264.0 259.4 263.9 260.0 263.8 260.6 263.7 261.2 263.6 261.8 263.6 262.4 263.5 263.0 263.4 263.6 263.3 264.2 263.2 264.8 263.1 265.4 263.1 266.0 263.0 266.6 262.9 267.2 262.9 267.8 262.8 268.4 262.8 269.0 262.7 269.6 262.7 270.2 262.6 270.8 262.6 271.4 262.6 272.0 262.5 272.6 262.5 273.2 262.5 273.8 262.5 274.4 262.5 275.0 262.5 275.6 262.5 276.2 262.5 276.8 262.5 277.4 262.6 278.0 262.6 278.6 262.6 279.3 262.7 279.9 262.7 280.5 262.8 281.1 262.8 281.7 262.9 282.3 262.9 282.9 263.0 283.5 263.1 284.1 263.1 284.7 263.2 285.3 263.3 285.9 263.4 286.5 263.4 287.1 263.5 287.7 263.6 288.3 263.7 288.9 263.8 289.5 263.9 290.1 264.0 290.7 264.1 291.3 264.2 291.9 264.3 292.5 264.4 293.1 264.5 293.7 264.6 294.3 264.6 294.9 264.7 295.5 264.8 296.1 264.9 296.7 265.0 297.3 265.1 297.9 265.2 298.5 265.3 299.1 265.4 299.7 265.5 300.3 265.6 300.9 265.7 301.5 265.8 302.1 265.8 302.7 265.9 303.3 266.0 303.9 266.1 304.5 266.1 305.1 266.2 305.7 266.3 306.3 266.4 306.9 266.4 307.5 266.5 308.1 266.6 308.7 266.6 309.3 266.7 309.9 266.7 310.5 266.8 311.1 266.9 311.7 266.9 312.3 267.0 312.9 267.0 313.5 267.1 314.1 267.1 314.7 267.1 315.3 267.2 315.9 267.2 316.5 267.3 317.1 267.3 317.7 267.3 318.3 267.4 318.9 267.4 319.5 267.4 320.1 267.4 320.7 267.5 321.3 267.5 321.9 267.5 322.5 267.5 323.1 267.6 323.7 267.6 324.3 267.6 324.9 267.6 325.5 267.6 326.1 267.6 326.7 267.7 327.3 267.7 327.9 267.7 328.5 267.7 329.1 267.7 329.7 267.7 330.3 267.7 330.9 267.7 331.5 267.7 332.1 267.7 332.7 267.8 333.3 267.8 333.9 267.8 334.5 267.8 335.1 267.8 335.7 267.8 336.3 267.8 336.9 267.8 337.5 267.8 338.1 267.8 338.7 267.8 339.3 267.8 339.9 267.8 340.5 267.8 341.1 267.8 341.7 267.8 342.3 267.8 342.9 267.8 343.5 267.8 344.1 267.8 344.7 267.8 345.3 267.8 345.9 267.8 346.5 267.8 347.1 267.8 347.7 267.8 348.3 267.8 348.9 267.8 349.5 267.8 350.1 267.8 350.7 267.9 351.3 267.9 351.9 267.9 352.5 267.9 353.1 267.9 353.7 267.9 354.3 267.9 354.9 267.9 355.5 267.9 356.1 267.9 356.7 267.9 357.3 267.9 357.9 267.9 358.5 267.9 359.1 267.9 359.7 267.9" stroke="#128a70" stroke-width="1.1" fill="none"/>
<line x1="256.00" y1="229.00" x2="256.00" y2="269.00" stroke="#444444" stroke-width="0.9" stroke-dasharray="1.6,2.6"/>
<line x1="275.70" y1="241.00" x2="275.70" y2="269.00" stroke="#444444" stroke-width="0.9" stroke-dasharray="1.6,2.6"/>
<text x="224.30" y="276.90" font-size="7.0" fill="#1a1a1a" stroke="#1a1a1a" stroke-width="0.22" text-anchor="middle">528</text>
<text x="264.60" y="276.90" font-size="7.0" fill="#1a1a1a" stroke="#1a1a1a" stroke-width="0.22" text-anchor="middle">531</text>
<text x="305.00" y="276.90" font-size="7.0" fill="#1a1a1a" stroke="#1a1a1a" stroke-width="0.22" text-anchor="middle">534</text>
<text x="345.20" y="276.90" font-size="7.0" fill="#1a1a1a" stroke="#1a1a1a" stroke-width="0.22" text-anchor="middle">537</text>
<rect x="198.40" y="227.20" width="24.10" height="15.10" fill="#555"/>
<rect x="197.40" y="226.00" width="23.30" height="14.30" fill="#fff" stroke="#d8d8d8" stroke-width="0.7"/>
<text x="201.00" y="236.70" font-size="9.1" stroke="#000" stroke-width="0.22" font-weight="bold">ZnO</text>
<text x="277.85" y="287.50" font-size="7.7" fill="#1a1a1a" stroke="#1a1a1a" stroke-width="0.22" text-anchor="middle">Binding energy / eV</text>
<text x="189.60" y="152.20" font-size="9.2" fill="#1a1a1a" stroke="#1a1a1a" stroke-width="0.22" text-anchor="middle" transform="rotate(-90 189.6 152.2)">Intensity</text>
<line x1="384.80" y1="18.10" x2="384.80" y2="72.50" stroke="#b8b8b8" stroke-width="0.9"/>
<line x1="384.80" y1="72.50" x2="543.80" y2="72.50" stroke="#b8b8b8" stroke-width="0.9"/>
<line x1="394.56" y1="72.50" x2="394.56" y2="71.30" stroke="#9a9a9a" stroke-width="0.7"/>
<line x1="404.51" y1="72.50" x2="404.51" y2="70.50" stroke="#9a9a9a" stroke-width="0.7"/>
<line x1="414.47" y1="72.50" x2="414.47" y2="71.30" stroke="#9a9a9a" stroke-width="0.7"/>
<line x1="424.42" y1="72.50" x2="424.42" y2="70.50" stroke="#9a9a9a" stroke-width="0.7"/>
<line x1="434.38" y1="72.50" x2="434.38" y2="71.30" stroke="#9a9a9a" stroke-width="0.7"/>
<line x1="444.33" y1="72.50" x2="444.33" y2="70.50" stroke="#9a9a9a" stroke-width="0.7"/>
<line x1="454.29" y1="72.50" x2="454.29" y2="71.30" stroke="#9a9a9a" stroke-width="0.7"/>
<line x1="464.24" y1="72.50" x2="464.24" y2="70.50" stroke="#9a9a9a" stroke-width="0.7"/>
<line x1="474.20" y1="72.50" x2="474.20" y2="71.30" stroke="#9a9a9a" stroke-width="0.7"/>
<line x1="484.15" y1="72.50" x2="484.15" y2="70.50" stroke="#9a9a9a" stroke-width="0.7"/>
<line x1="494.11" y1="72.50" x2="494.11" y2="71.30" stroke="#9a9a9a" stroke-width="0.7"/>
<line x1="504.06" y1="72.50" x2="504.06" y2="70.50" stroke="#9a9a9a" stroke-width="0.7"/>
<line x1="514.01" y1="72.50" x2="514.01" y2="71.30" stroke="#9a9a9a" stroke-width="0.7"/>
<line x1="523.97" y1="72.50" x2="523.97" y2="70.50" stroke="#9a9a9a" stroke-width="0.7"/>
<line x1="533.92" y1="72.50" x2="533.92" y2="71.30" stroke="#9a9a9a" stroke-width="0.7"/>
<path d="M421.0 60.4 421.7 60.6 422.4 60.8 423.1 60.4 423.8 59.8 424.5 59.6 425.2 59.3 425.9 59.1 426.6 57.4 427.3 56.4 428.0 57.0 428.7 56.7 429.4 56.9 430.1 56.1 430.8 54.5 431.5 53.0 432.2 53.8 432.9 50.5 433.6 48.1 434.3 46.2 435.0 46.3 435.7 46.0 436.4 45.3 437.1 45.3 437.8 45.4 438.5 45.6 439.2 46.0 439.9 45.1 440.6 43.1 441.3 45.7 442.0 44.9 442.7 46.7 443.4 46.6 444.1 48.7 444.8 49.1 445.5 50.5 446.2 53.8 446.9 52.1 447.6 53.0 448.3 52.4 449.0 54.4 449.7 56.9 450.4 58.2 451.1 59.6 451.8 60.5 452.5 61.0 453.2 61.8 453.9 62.0 454.6 62.7 455.3 62.7 456.0 63.0 456.7 63.1 457.4 63.5 458.1 63.6 458.8 64.1 459.5 64.1 460.2 64.4 460.9 64.3 461.6 64.0 462.3 63.5 463.0 63.4 463.7 63.0 464.4 62.8 465.1 62.2 465.8 61.8 466.5 61.1 467.2 60.0 467.9 58.2 468.6 56.1 469.3 53.1 470.0 50.2 470.7 48.4 471.4 47.7 472.1 47.5 472.8 45.9 473.5 44.6 474.2 42.7 474.8 40.8 475.5 38.4 476.2 37.4 476.9 37.4 477.6 34.0 478.3 32.3 479.0 35.4 479.7 34.1 480.4 35.0 481.1 35.4 481.8 33.3 482.5 37.9 483.2 39.0 483.9 38.3 484.6 40.0 485.3 40.8 486.0 40.9 486.7 42.9 487.4 45.0 488.1 47.3 488.8 48.5 489.5 49.3 490.2 51.6 490.9 51.2 491.6 53.1 492.3 54.5 493.0 54.3 493.7 53.7 494.4 54.7 495.1 56.0 495.8 56.8 496.5 57.9 497.2 57.0 497.9 57.6 498.6 58.3 499.3 58.4 500.0 57.7 500.7 59.2 501.4 60.4 502.1 60.3 502.8 59.9 503.5 60.0 504.2 60.3 504.9 61.0 505.6 60.8 506.3 60.6 507.0 60.9 507.7 60.6 508.4 60.9 509.1 60.5 509.8 60.4 510.5 60.6 511.2 60.8 511.9 60.7 512.6 60.6 513.3 60.1 514.0 60.3 514.7 60.3 515.4 60.3 516.1 60.6 516.8 60.5 517.5 60.7 518.2 60.6 518.9 60.5 519.6 60.5 520.3 60.6 521.0 60.7 521.7 60.5 522.4 60.5 523.1 60.3 523.8 60.8 524.5 60.9 525.2 60.6 525.9 60.5 526.6 60.4 527.3 60.6 528.0 60.6" stroke="#959500" stroke-width="1.3" fill="none"/>
<path d="M384.8 60.6 385.4 60.6 386.0 60.6 386.6 60.7 387.2 60.7 387.8 60.7 388.4 60.7 389.0 60.8 389.6 60.8 390.2 60.8 390.8 60.8 391.4 60.8 392.0 60.9 392.6 60.9 393.2 60.9 393.8 60.9 394.4 60.9 395.0 61.0 395.6 61.0 396.2 61.0 396.8 61.0 397.4 61.0 398.0 61.1 398.6 61.1 399.2 61.1 399.8 61.1 400.4 61.1 401.0 61.1 401.6 61.1 402.2 61.1 402.8 61.2 403.4 61.2 404.0 61.2 404.6 61.2 405.2 61.2 405.8 61.2 406.4 61.2 407.0 61.2 407.6 61.2 408.2 61.2 408.8 61.2 409.4 61.2 410.0 61.2 410.6 61.2 411.2 61.2 411.8 61.2 412.4 61.2 413.0 61.2 413.6 61.2 414.2 61.2 414.8 61.2 415.4 61.1 416.0 61.1 416.6 61.1 417.2 61.1 417.8 61.1 418.4 61.1 419.0 61.0 419.6 61.0 420.2 61.0 420.8 61.0 421.4 60.9 422.0 60.9 422.6 60.9 423.2 60.8 423.8 60.8 424.4 60.8 425.0 60.7 425.6 60.7 426.2 60.6 426.8 60.6 427.4 60.5 428.0 60.5 428.6 60.4 429.2 60.4 429.8 60.3 430.4 60.3 431.0 60.2 431.6 60.1 432.2 60.1 432.8 60.0 433.4 59.9 434.0 59.8 434.6 59.6 435.2 59.3 435.8 59.0 436.4 58.6 437.0 58.2 437.6 57.7 438.2 57.1 438.8 56.6 439.4 56.1 440.0 55.6 440.6 55.1 441.2 54.8 441.8 54.5 442.4 54.3 443.0 54.3 443.6 54.4 444.2 54.6 444.8 55.0 445.4 55.4 446.0 56.0 446.6 56.6 447.2 57.2 447.8 57.9 448.4 58.5 449.0 59.0 449.6 59.4 450.2 59.7 450.8 59.9 451.4 60.1 452.0 60.2 452.6 60.3 453.2 60.3 453.8 60.4 454.4 60.4 455.0 60.5 455.6 60.5 456.2 60.5 456.8 60.6 457.4 60.6 458.0 60.6 458.6 60.6 459.2 60.6 459.8 60.6 460.4 60.6 461.0 60.6 461.6 60.6 462.2 60.6 462.8 60.5 463.4 60.5 464.0 60.5 464.6 60.4 465.2 60.4 465.8 60.3 466.4 60.3 467.0 60.2 467.6 60.2 468.2 60.1 468.8 60.0 469.4 59.8 470.0 59.7 470.6 59.5 471.2 59.3 471.8 59.1 472.4 58.9 473.0 58.6 473.6 58.3 474.2 57.9 474.8 57.5 475.4 57.1 476.0 56.6 476.6 56.1 477.2 55.5 477.8 55.0 478.4 54.5 479.0 54.0 479.6 53.5 480.2 53.0 480.8 52.6 481.4 52.3 482.0 52.0 482.6 51.8 483.2 51.6 483.8 51.6 484.4 51.6 485.0 51.8 485.6 52.0 486.2 52.4 486.8 52.8 487.4 53.4 488.0 53.9 488.6 54.6 489.2 55.2 489.8 55.8 490.4 56.4 491.0 57.0 491.6 57.5 492.2 58.0 492.8 58.4 493.4 58.8 494.0 59.1 494.6 59.3 495.2 59.6 495.8 59.7 496.4 59.9 497.0 60.0 497.6 60.1 498.2 60.2 498.8 60.3 499.4 60.3 500.0 60.4 500.6 60.4 501.2 60.5 501.8 60.5 502.4 60.5 503.0 60.5 503.6 60.6 504.2 60.6 504.8 60.6 505.4 60.6 506.0 60.6 506.6 60.6 507.2 60.6 507.8 60.7 508.4 60.7 509.0 60.7 509.6 60.7 510.2 60.7 510.8 60.7 511.4 60.7 512.0 60.7 512.6 60.7 513.2 60.7 513.8 60.7 514.4 60.7 515.0 60.7 515.6 60.7 516.2 60.7 516.8 60.8 517.4 60.8 518.0 60.8 518.6 60.8 519.2 60.8 519.8 60.8 520.4 60.8 521.0 60.8 521.6 60.8 522.2 60.8 522.8 60.8 523.4 60.8 524.0 60.8 524.6 60.8 525.2 60.8 525.8 60.8 526.4 60.8 527.0 60.7 527.6 60.7 528.2 60.7 528.8 60.7 529.4 60.7 530.0 60.7 530.6 60.7 531.2 60.7 531.8 60.7 532.4 60.7 533.0 60.7 533.6 60.7 534.2 60.7 534.8 60.7 535.4 60.7 536.0 60.7 536.6 60.7 537.2 60.7 537.8 60.7 538.4 60.7 539.0 60.7 539.6 60.6 540.2 60.6 540.8 60.6 541.4 60.6 542.0 60.6 542.6 60.6 543.2 60.6 543.8 60.6" stroke="#ff0000" stroke-width="1.4" fill="none"/>
<path d="M384.8 60.6 385.4 60.6 386.0 60.5 386.6 60.5 387.2 60.4 387.8 60.4 388.4 60.3 389.0 60.3 389.6 60.2 390.2 60.2 390.8 60.2 391.4 60.1 392.0 60.1 392.6 60.0 393.2 60.0 393.8 60.0 394.4 59.9 395.0 59.9 395.6 59.8 396.2 59.8 396.8 59.8 397.4 59.7 398.0 59.7 398.6 59.7 399.2 59.7 399.8 59.6 400.4 59.6 401.0 59.6 401.6 59.6 402.2 59.6 402.8 59.5 403.4 59.5 404.0 59.5 404.6 59.5 405.2 59.5 405.8 59.5 406.4 59.5 407.0 59.5 407.6 59.5 408.2 59.5 408.8 59.5 409.4 59.5 410.0 59.6 410.6 59.6 411.2 59.6 411.8 59.6 412.4 59.6 413.0 59.7 413.6 59.7 414.2 59.7 414.8 59.8 415.4 59.8 416.0 59.9 416.6 59.9 417.2 60.0 417.8 60.0 418.4 60.1 419.0 60.2 419.6 60.3 420.2 60.3 420.8 60.4 421.4 60.5 422.0 60.5 422.6 60.6 423.2 60.6 423.8 60.5 424.4 60.4 425.0 60.3 425.6 60.0 426.2 59.7 426.8 59.4 427.4 58.9 428.0 58.3 428.6 57.6 429.2 56.8 429.8 55.9 430.4 54.8 431.0 53.5 431.6 52.1 432.2 50.6 432.8 49.0 433.4 47.4 434.0 46.0 434.6 44.9 435.2 44.2 435.8 44.1 436.4 44.6 437.0 45.6 437.6 46.9 438.2 48.6 438.8 50.3 439.4 52.1 440.0 53.7 440.6 55.2 441.2 56.3 441.8 57.2 442.4 57.7 443.0 58.1 443.6 58.3 444.2 58.4 444.8 58.5 445.4 58.6 446.0 58.7 446.6 58.8 447.2 58.9 447.8 59.0 448.4 59.1 449.0 59.3 449.6 59.3 450.2 59.4 450.8 59.5 451.4 59.6 452.0 59.6 452.6 59.7 453.2 59.7 453.8 59.8 454.4 59.8 455.0 59.8 455.6 59.8 456.2 59.8 456.8 59.8 457.4 59.8 458.0 59.8 458.6 59.7 459.2 59.7 459.8 59.6 460.4 59.6 461.0 59.5 461.6 59.3 462.2 59.2 462.8 59.0 463.4 58.7 464.0 58.4 464.6 58.0 465.2 57.6 465.8 57.2 466.4 56.8 467.0 56.4 467.6 56.0 468.2 55.6 468.8 55.3 469.4 54.9 470.0 54.4 470.6 53.7 471.2 52.8 471.8 51.7 472.4 50.4 473.0 49.1 473.6 47.7 474.2 46.3 474.8 44.9 475.4 43.6 476.0 42.3 476.6 41.1 477.2 40.1 477.8 39.3 478.4 38.8 479.0 38.8 479.6 39.3 480.2 40.0 480.8 41.0 481.4 42.1 482.0 43.4 482.6 44.7 483.2 46.1 483.8 47.5 484.4 48.8 485.0 50.1 485.6 51.3 486.2 52.4 486.8 53.5 487.4 54.4 488.0 55.2 488.6 55.9 489.2 56.5 489.8 57.0 490.4 57.5 491.0 57.8 491.6 58.1 492.2 58.3 492.8 58.5 493.4 58.7 494.0 58.9 494.6 59.1 495.2 59.3 495.8 59.4 496.4 59.6 497.0 59.7 497.6 59.9 498.2 60.0 498.8 60.1 499.4 60.2 500.0 60.3 500.6 60.4 501.2 60.4 501.8 60.5 502.4 60.5 503.0 60.6 503.6 60.6 504.2 60.6 504.8 60.6 505.4 60.6 506.0 60.6 506.6 60.6 507.2 60.6 507.8 60.6 508.4 60.6 509.0 60.6 509.6 60.6 510.2 60.6 510.8 60.6 511.4 60.6 512.0 60.6 512.6 60.6 513.2 60.5 513.8 60.5 514.4 60.5 515.0 60.5 515.6 60.5 516.2 60.5 516.8 60.5 517.4 60.5 518.0 60.5 518.6 60.5 519.2 60.5 519.8 60.5 520.4 60.5 521.0 60.5 521.6 60.5 522.2 60.5 522.8 60.5 523.4 60.5 524.0 60.5 524.6 60.5 525.2 60.5 525.8 60.5 526.4 60.5 527.0 60.5 527.6 60.5 528.2 60.5 528.8 60.5 529.4 60.5 530.0 60.5 530.6 60.5 531.2 60.5 531.8 60.5 532.4 60.5 533.0 60.5 533.6 60.5 534.2 60.5 534.8 60.5 535.4 60.5 536.0 60.5 536.6 60.5 537.2 60.5 537.8 60.5 538.4 60.6 539.0 60.6 539.6 60.6 540.2 60.6 540.8 60.6 541.4 60.6 542.0 60.6 542.6 60.6 543.2 60.6 543.8 60.6" stroke="#8c35e6" stroke-width="1.35" fill="none"/>
<text x="462.30" y="20.30" font-size="11.5" fill="#1a1a1a" stroke="#1a1a1a" stroke-width="0.22">Pt</text>
<text x="473.37" y="14.30" font-size="6.4" fill="#1a1a1a" stroke="#1a1a1a" stroke-width="0.22">2+</text>
<text x="481.46" y="20.30" font-size="9.5" fill="#1a1a1a" stroke="#1a1a1a" stroke-width="0.22">4f</text>
<text x="490.19" y="24.00" font-size="5.5" fill="#1a1a1a" stroke="#1a1a1a" stroke-width="0.13">7/2</text>
<text x="488.60" y="39.10" font-size="10.5" fill="#ff0000" stroke="#ff0000" stroke-width="0.22">Pt</text>
<text x="498.52" y="33.60" font-size="6.0" fill="#ff0000" stroke="#ff0000" stroke-width="0.22">0</text>
<text x="502.06" y="39.10" font-size="8.6" fill="#ff0000" stroke="#ff0000" stroke-width="0.22">4f</text>
<text x="509.93" y="43.20" font-size="4.9" fill="#ff0000" stroke="#ff0000" stroke-width="0.13">7/2</text>
<rect x="390.20" y="22.20" width="50.60" height="17.20" fill="#000"/>
<rect x="387.00" y="18.10" width="50.90" height="18.70" fill="#fff" stroke="#d0d0d0" stroke-width="0.7"/>
<text x="388.70" y="29.20" font-size="10.8" stroke="#000" stroke-width="0.22" font-weight="bold">WO</text>
<text x="407.49" y="33.60" font-size="6.6" stroke="#000" stroke-width="0.22" font-weight="bold">3</text>
<text x="411.36" y="29.20" font-size="10.8" stroke="#000" stroke-width="0.22" font-weight="bold">/PtO</text>
<text x="433.77" y="33.40" font-size="6.6" stroke="#000" stroke-width="0.22" font-weight="bold">x</text>
<line x1="384.80" y1="76.10" x2="384.80" y2="121.10" stroke="#b8b8b8" stroke-width="0.9"/>
<line x1="384.80" y1="121.10" x2="543.80" y2="121.10" stroke="#b8b8b8" stroke-width="0.9"/>
<line x1="394.56" y1="121.10" x2="394.56" y2="119.90" stroke="#9a9a9a" stroke-width="0.7"/>
<line x1="404.51" y1="121.10" x2="404.51" y2="119.10" stroke="#9a9a9a" stroke-width="0.7"/>
<line x1="414.47" y1="121.10" x2="414.47" y2="119.90" stroke="#9a9a9a" stroke-width="0.7"/>
<line x1="424.42" y1="121.10" x2="424.42" y2="119.10" stroke="#9a9a9a" stroke-width="0.7"/>
<line x1="434.38" y1="121.10" x2="434.38" y2="119.90" stroke="#9a9a9a" stroke-width="0.7"/>
<line x1="444.33" y1="121.10" x2="444.33" y2="119.10" stroke="#9a9a9a" stroke-width="0.7"/>
<line x1="454.29" y1="121.10" x2="454.29" y2="119.90" stroke="#9a9a9a" stroke-width="0.7"/>
<line x1="464.24" y1="121.10" x2="464.24" y2="119.10" stroke="#9a9a9a" stroke-width="0.7"/>
<line x1="474.20" y1="121.10" x2="474.20" y2="119.90" stroke="#9a9a9a" stroke-width="0.7"/>
<line x1="484.15" y1="121.10" x2="484.15" y2="119.10" stroke="#9a9a9a" stroke-width="0.7"/>
<line x1="494.11" y1="121.10" x2="494.11" y2="119.90" stroke="#9a9a9a" stroke-width="0.7"/>
<line x1="504.06" y1="121.10" x2="504.06" y2="119.10" stroke="#9a9a9a" stroke-width="0.7"/>
<line x1="514.01" y1="121.10" x2="514.01" y2="119.90" stroke="#9a9a9a" stroke-width="0.7"/>
<line x1="523.97" y1="121.10" x2="523.97" y2="119.10" stroke="#9a9a9a" stroke-width="0.7"/>
<line x1="533.92" y1="121.10" x2="533.92" y2="119.90" stroke="#9a9a9a" stroke-width="0.7"/>
<path d="M387.8 118.1 388.5 118.3 389.2 118.3 389.9 118.2 390.6 118.5 391.3 118.4 392.0 118.3 392.7 118.6 393.4 118.3 394.1 118.1 394.8 118.0 395.5 118.1 396.2 118.3 396.9 118.4 397.6 118.4 398.3 118.6 399.0 118.6 399.7 118.2 400.4 118.3 401.1 118.0 401.8 117.5 402.5 117.7 403.2 117.3 403.9 117.0 404.6 117.6 405.3 117.2 406.0 116.4 406.7 116.3 407.4 117.1 408.1 116.0 408.8 116.0 409.5 115.8 410.2 115.5 410.9 115.3 411.6 114.5 412.3 114.2 413.0 114.0 413.7 113.7 414.4 114.0 415.1 114.3 415.8 112.8 416.5 113.0 417.2 111.8 417.9 111.4 418.6 111.3 419.3 111.1 420.0 110.4 420.7 108.2 421.4 110.0 422.1 108.7 422.9 107.6 423.6 107.8 424.3 106.2 425.0 104.6 425.7 105.2 426.4 104.8 427.1 103.1 427.8 103.7 428.5 102.9 429.2 100.9 429.9 102.6 430.6 101.2 431.3 99.1 432.0 99.7 432.7 99.2 433.4 99.5 434.1 96.9 434.8 98.1 435.5 97.8 436.2 96.8 436.9 95.7 437.6 95.4 438.3 93.9 439.0 92.1 439.7 89.8 440.4 91.0 441.1 90.7 441.8 89.6 442.5 88.9 443.2 89.3 443.9 85.4 444.6 87.6 445.3 84.4 446.0 86.6 446.7 87.7 447.4 88.6 448.1 85.5 448.8 85.5 449.5 84.6 450.2 81.3 450.9 83.9 451.6 83.3 452.3 83.0 453.0 81.4 453.7 82.0 454.4 82.1 455.1 83.7 455.8 82.8 456.5 86.9 457.2 83.0 457.9 82.5 458.6 83.0 459.3 82.5 460.0 85.7 460.7 85.7 461.4 83.7 462.1 85.1 462.8 87.0 463.5 84.4 464.2 85.8 464.9 85.8 465.6 89.0 466.3 87.4 467.0 85.9 467.7 85.3 468.4 88.1 469.1 85.8 469.8 88.5 470.5 84.3 471.2 84.9 471.9 84.9 472.6 84.2 473.3 84.5 474.0 85.7 474.7 84.2 475.4 82.8 476.1 85.9 476.8 86.8 477.5 84.3 478.2 85.0 478.9 81.6 479.6 85.4 480.3 83.5 481.0 84.2 481.7 88.1 482.4 85.1 483.1 86.2 483.8 85.6 484.5 84.8 485.2 85.9 485.9 88.2 486.6 87.2 487.3 88.1 488.0 90.2 488.7 90.0 489.4 89.1 490.1 92.5 490.8 92.3 491.5 94.3 492.2 92.8 493.0 96.2 493.7 94.8 494.4 95.1 495.1 97.7 495.8 99.6 496.5 101.8 497.2 102.6 497.9 104.7 498.6 106.6 499.3 106.2 500.0 106.3 500.7 107.8 501.4 109.8 502.1 111.0 502.8 111.2 503.5 111.6 504.2 112.9 504.9 114.4 505.6 114.5 506.3 116.0 507.0 116.2 507.7 116.7 508.4 116.7 509.1 117.7 509.8 117.6 510.5 117.3 511.2 118.0 511.9 117.9 512.6 118.3 513.3 118.3 514.0 118.2 514.7 118.4 515.4 118.4 516.1 118.4 516.8 118.5 517.5 118.7 518.2 118.6 518.9 118.6 519.6 118.5 520.3 118.7 521.0 118.7 521.7 118.8 522.4 118.7 523.1 118.9 523.8 118.4 524.5 118.5 525.2 118.5 525.9 118.6 526.6 118.2 527.3 118.1 528.0 118.2" stroke="#959500" stroke-width="1.3" fill="none"/>
<path d="M384.8 118.3 385.4 118.3 386.0 118.3 386.6 118.3 387.2 118.4 387.8 118.4 388.4 118.4 389.0 118.4 389.6 118.4 390.2 118.4 390.8 118.4 391.4 118.4 392.0 118.5 392.6 118.5 393.2 118.5 393.8 118.5 394.4 118.5 395.0 118.5 395.6 118.5 396.2 118.5 396.8 118.5 397.4 118.6 398.0 118.6 398.6 118.6 399.2 118.6 399.8 118.6 400.4 118.6 401.0 118.6 401.6 118.6 402.2 118.6 402.8 118.6 403.4 118.6 404.0 118.6 404.6 118.6 405.2 118.6 405.8 118.6 406.4 118.6 407.0 118.6 407.6 118.6 408.2 118.6 408.8 118.6 409.4 118.6 410.0 118.6 410.6 118.6 411.2 118.6 411.8 118.6 412.4 118.6 413.0 118.6 413.6 118.6 414.2 118.6 414.8 118.6 415.4 118.6 416.0 118.6 416.6 118.5 417.2 118.5 417.8 118.5 418.4 118.5 419.0 118.5 419.6 118.5 420.2 118.4 420.8 118.4 421.4 118.4 422.0 118.4 422.6 118.4 423.2 118.3 423.8 118.3 424.4 118.3 425.0 118.3 425.6 118.2 426.2 118.2 426.8 118.2 427.4 118.1 428.0 118.1 428.6 118.1 429.2 118.0 429.8 118.0 430.4 117.9 431.0 117.9 431.6 117.8 432.2 117.6 432.8 117.5 433.4 117.3 434.0 117.1 434.6 116.9 435.2 116.7 435.8 116.5 436.4 116.3 437.0 116.0 437.6 115.7 438.2 115.4 438.8 115.0 439.4 114.6 440.0 114.1 440.6 113.6 441.2 113.1 441.8 112.6 442.4 112.1 443.0 111.6 443.6 111.1 444.2 110.5 444.8 109.9 445.4 109.4 446.0 108.8 446.6 108.3 447.2 107.8 447.8 107.4 448.4 107.1 449.0 106.7 449.6 106.4 450.2 106.1 450.8 105.9 451.4 105.7 452.0 105.5 452.6 105.4 453.2 105.4 453.8 105.5 454.4 105.6 455.0 105.8 455.6 106.1 456.2 106.4 456.8 106.8 457.4 107.3 458.0 107.8 458.6 108.3 459.2 108.8 459.8 109.3 460.4 109.8 461.0 110.2 461.6 110.6 462.2 111.0 462.8 111.3 463.4 111.7 464.0 112.0 464.6 112.3 465.2 112.6 465.8 113.0 466.4 113.3 467.0 113.6 467.6 113.8 468.2 114.1 468.8 114.3 469.4 114.4 470.0 114.5 470.6 114.6 471.2 114.5 471.8 114.4 472.4 114.1 473.0 113.8 473.6 113.4 474.2 113.0 474.8 112.5 475.4 112.0 476.0 111.4 476.6 110.8 477.2 110.1 477.8 109.5 478.4 108.8 479.0 108.1 479.6 107.5 480.2 106.8 480.8 106.2 481.4 105.6 482.0 105.0 482.6 104.5 483.2 104.0 483.8 103.5 484.4 103.1 485.0 102.7 485.6 102.5 486.2 102.2 486.8 102.1 487.4 101.9 488.0 101.9 488.6 101.9 489.2 102.0 489.8 102.1 490.4 102.3 491.0 102.6 491.6 103.0 492.2 103.4 492.8 103.8 493.4 104.4 494.0 105.0 494.6 105.7 495.2 106.4 495.8 107.2 496.4 108.0 497.0 108.8 497.6 109.6 498.2 110.4 498.8 111.2 499.4 112.0 500.0 112.7 500.6 113.3 501.2 113.9 501.8 114.5 502.4 114.9 503.0 115.4 503.6 115.8 504.2 116.1 504.8 116.4 505.4 116.7 506.0 116.9 506.6 117.1 507.2 117.3 507.8 117.5 508.4 117.6 509.0 117.8 509.6 117.9 510.2 118.0 510.8 118.0 511.4 118.1 512.0 118.2 512.6 118.3 513.2 118.3 513.8 118.4 514.4 118.4 515.0 118.5 515.6 118.6 516.2 118.6 516.8 118.6 517.4 118.7 518.0 118.7 518.6 118.8 519.2 118.8 519.8 118.8 520.4 118.8 521.0 118.9 521.6 118.9 522.2 118.9 522.8 118.9 523.4 118.9 524.0 118.9 524.6 118.9 525.2 118.9 525.8 118.9 526.4 118.9 527.0 118.9 527.6 118.9 528.2 118.9 528.8 118.9 529.4 118.9 530.0 118.9 530.6 118.9 531.2 118.9 531.8 118.8 532.4 118.8 533.0 118.8 533.6 118.8 534.2 118.8 534.8 118.7 535.4 118.7 536.0 118.7 536.6 118.7 537.2 118.6 537.8 118.6 538.4 118.6 539.0 118.6 539.6 118.5 540.2 118.5 540.8 118.5 541.4 118.4 542.0 118.4 542.6 118.4 543.2 118.3 543.8 118.3" stroke="#ff0000" stroke-width="1.4" fill="none"/>
<path d="M384.8 118.3 385.4 118.3 386.0 118.3 386.6 118.3 387.2 118.3 387.8 118.4 388.4 118.4 389.0 118.4 389.6 118.4 390.2 118.4 390.8 118.4 391.4 118.4 392.0 118.4 392.6 118.4 393.2 118.4 393.8 118.4 394.4 118.4 395.0 118.4 395.6 118.4 396.2 118.4 396.8 118.4 397.4 118.4 398.0 118.3 398.6 118.3 399.2 118.3 399.8 118.3 400.4 118.2 401.0 118.2 401.6 118.2 402.2 118.1 402.8 118.1 403.4 118.0 404.0 118.0 404.6 117.9 405.2 117.8 405.8 117.8 406.4 117.7 407.0 117.6 407.6 117.6 408.2 117.5 408.8 117.4 409.4 117.3 410.0 117.2 410.6 117.1 411.2 116.9 411.8 116.7 412.4 116.5 413.0 116.3 413.6 116.0 414.2 115.7 414.8 115.3 415.4 114.9 416.0 114.5 416.6 114.0 417.2 113.5 417.8 113.0 418.4 112.4 419.0 111.9 419.6 111.3 420.2 110.6 420.8 110.0 421.4 109.3 422.0 108.7 422.6 108.0 423.2 107.3 423.8 106.5 424.4 105.8 425.0 105.1 425.6 104.4 426.2 103.6 426.8 102.9 427.4 102.3 428.0 101.6 428.6 101.0 429.2 100.4 429.8 99.9 430.4 99.4 431.0 99.0 431.6 98.5 432.2 98.1 432.8 97.7 433.4 97.3 434.0 97.0 434.6 96.7 435.2 96.4 435.8 96.2 436.4 96.0 437.0 95.9 437.6 95.8 438.2 95.7 438.8 95.6 439.4 95.6 440.0 95.6 440.6 95.6 441.2 95.6 441.8 95.6 442.4 95.7 443.0 95.7 443.6 95.8 444.2 95.9 444.8 96.0 445.4 96.1 446.0 96.2 446.6 96.4 447.2 96.5 447.8 96.6 448.4 96.7 449.0 96.7 449.6 96.8 450.2 96.9 450.8 96.9 451.4 96.9 452.0 96.9 452.6 96.8 453.2 96.7 453.8 96.6 454.4 96.3 455.0 96.0 455.6 95.6 456.2 95.2 456.8 94.8 457.4 94.3 458.0 93.9 458.6 93.5 459.2 93.1 459.8 92.7 460.4 92.4 461.0 92.1 461.6 91.9 462.2 91.6 462.8 91.4 463.4 91.2 464.0 91.0 464.6 90.8 465.2 90.6 465.8 90.4 466.4 90.2 467.0 90.0 467.6 89.8 468.2 89.6 468.8 89.5 469.4 89.4 470.0 89.3 470.6 89.3 471.2 89.3 471.8 89.4 472.4 89.5 473.0 89.7 473.6 89.9 474.2 90.1 474.8 90.4 475.4 90.8 476.0 91.2 476.6 91.6 477.2 92.1 477.8 92.6 478.4 93.1 479.0 93.7 479.6 94.3 480.2 95.0 480.8 95.7 481.4 96.4 482.0 97.2 482.6 97.9 483.2 98.8 483.8 99.6 484.4 100.4 485.0 101.2 485.6 102.0 486.2 102.8 486.8 103.6 487.4 104.4 488.0 105.1 488.6 105.8 489.2 106.5 489.8 107.1 490.4 107.8 491.0 108.4 491.6 109.0 492.2 109.6 492.8 110.2 493.4 110.7 494.0 111.2 494.6 111.8 495.2 112.3 495.8 112.7 496.4 113.2 497.0 113.6 497.6 114.1 498.2 114.5 498.8 114.8 499.4 115.2 500.0 115.6 500.6 115.9 501.2 116.2 501.8 116.5 502.4 116.7 503.0 117.0 503.6 117.2 504.2 117.3 504.8 117.5 505.4 117.6 506.0 117.8 506.6 117.9 507.2 117.9 507.8 118.0 508.4 118.1 509.0 118.1 509.6 118.2 510.2 118.2 510.8 118.3 511.4 118.3 512.0 118.3 512.6 118.4 513.2 118.4 513.8 118.4 514.4 118.5 515.0 118.5 515.6 118.5 516.2 118.5 516.8 118.6 517.4 118.6 518.0 118.6 518.6 118.6 519.2 118.6 519.8 118.6 520.4 118.7 521.0 118.7 521.6 118.7 522.2 118.7 522.8 118.7 523.4 118.7 524.0 118.7 524.6 118.7 525.2 118.7 525.8 118.7 526.4 118.7 527.0 118.7 527.6 118.7 528.2 118.7 528.8 118.7 529.4 118.7 530.0 118.7 530.6 118.6 531.2 118.6 531.8 118.6 532.4 118.6 533.0 118.6 533.6 118.6 534.2 118.6 534.8 118.6 535.4 118.5 536.0 118.5 536.6 118.5 537.2 118.5 537.8 118.5 538.4 118.5 539.0 118.4 539.6 118.4 540.2 118.4 540.8 118.4 541.4 118.4 542.0 118.4 542.6 118.3 543.2 118.3 543.8 118.3" stroke="#8c35e6" stroke-width="1.35" fill="none"/>
<rect x="388.90" y="79.70" width="50.00" height="17.40" fill="#000"/>
<rect x="384.80" y="76.10" width="51.30" height="18.60" fill="#fff" stroke="#d0d0d0" stroke-width="0.7"/>
<text x="387.70" y="87.40" font-size="10.8" stroke="#000" stroke-width="0.22" font-weight="bold">TiO</text>
<text x="405.70" y="91.60" font-size="6.6" stroke="#000" stroke-width="0.22" font-weight="bold">2</text>
<text x="409.57" y="87.40" font-size="10.8" stroke="#000" stroke-width="0.22" font-weight="bold">/PtO</text>
<text x="431.98" y="91.40" font-size="6.6" stroke="#000" stroke-width="0.22" font-weight="bold">x</text>
<line x1="384.80" y1="124.50" x2="384.80" y2="170.80" stroke="#b8b8b8" stroke-width="0.9"/>
<line x1="384.80" y1="170.80" x2="543.80" y2="170.80" stroke="#b8b8b8" stroke-width="0.9"/>
<line x1="394.56" y1="170.80" x2="394.56" y2="169.60" stroke="#9a9a9a" stroke-width="0.7"/>
<line x1="404.51" y1="170.80" x2="404.51" y2="168.80" stroke="#9a9a9a" stroke-width="0.7"/>
<line x1="414.47" y1="170.80" x2="414.47" y2="169.60" stroke="#9a9a9a" stroke-width="0.7"/>
<line x1="424.42" y1="170.80" x2="424.42" y2="168.80" stroke="#9a9a9a" stroke-width="0.7"/>
<line x1="434.38" y1="170.80" x2="434.38" y2="169.60" stroke="#9a9a9a" stroke-width="0.7"/>
<line x1="444.33" y1="170.80" x2="444.33" y2="168.80" stroke="#9a9a9a" stroke-width="0.7"/>
<line x1="454.29" y1="170.80" x2="454.29" y2="169.60" stroke="#9a9a9a" stroke-width="0.7"/>
<line x1="464.24" y1="170.80" x2="464.24" y2="168.80" stroke="#9a9a9a" stroke-width="0.7"/>
<line x1="474.20" y1="170.80" x2="474.20" y2="169.60" stroke="#9a9a9a" stroke-width="0.7"/>
<line x1="484.15" y1="170.80" x2="484.15" y2="168.80" stroke="#9a9a9a" stroke-width="0.7"/>
<line x1="494.11" y1="170.80" x2="494.11" y2="169.60" stroke="#9a9a9a" stroke-width="0.7"/>
<line x1="504.06" y1="170.80" x2="504.06" y2="168.80" stroke="#9a9a9a" stroke-width="0.7"/>
<line x1="514.01" y1="170.80" x2="514.01" y2="169.60" stroke="#9a9a9a" stroke-width="0.7"/>
<line x1="523.97" y1="170.80" x2="523.97" y2="168.80" stroke="#9a9a9a" stroke-width="0.7"/>
<line x1="533.92" y1="170.80" x2="533.92" y2="169.60" stroke="#9a9a9a" stroke-width="0.7"/>
<path d="M405.1 164.9 405.8 165.1 406.5 164.8 407.2 164.6 407.9 164.8 408.6 164.8 409.3 164.8 410.0 164.7 410.7 164.6 411.4 164.4 412.1 164.3 412.8 164.3 413.5 164.2 414.2 164.2 414.9 164.1 415.6 163.7 416.3 163.9 417.0 163.7 417.7 163.8 418.4 163.9 419.1 163.5 419.8 162.5 420.5 162.9 421.2 162.0 421.9 162.9 422.6 162.0 423.3 161.8 424.0 162.5 424.7 160.7 425.4 160.9 426.1 160.0 426.8 159.8 427.5 159.2 428.2 159.6 428.9 158.6 429.6 158.2 430.3 157.8 431.0 155.3 431.7 156.4 432.4 154.5 433.1 152.0 433.8 151.3 434.5 151.8 435.2 151.2 435.9 148.4 436.6 147.7 437.3 146.8 438.0 146.8 438.7 144.8 439.4 145.0 440.1 142.4 440.8 141.7 441.5 143.2 442.2 143.8 442.9 143.4 443.6 144.5 444.3 144.8 445.0 146.2 445.7 147.6 446.4 147.8 447.1 148.8 447.8 148.2 448.5 148.5 449.2 147.3 449.9 150.4 450.6 151.3 451.3 152.5 452.0 151.0 452.7 152.5 453.4 153.3 454.1 152.9 454.8 155.5 455.5 156.8 456.2 155.3 456.9 156.5 457.6 157.9 458.3 155.9 459.0 157.0 459.7 157.5 460.4 157.6 461.1 154.5 461.8 153.4 462.5 153.7 463.2 154.0 463.9 151.0 464.6 149.9 465.3 148.3 466.0 149.4 466.7 146.8 467.4 146.5 468.1 145.5 468.8 144.9 469.5 142.8 470.2 141.2 470.9 140.9 471.6 139.1 472.3 135.4 473.0 134.8 473.7 136.2 474.4 135.2 475.1 134.2 475.8 135.0 476.5 140.0 477.2 136.9 477.9 137.6 478.6 138.6 479.3 138.8 480.0 141.8 480.7 143.2 481.4 144.1 482.1 143.4 482.8 147.5 483.5 149.1 484.2 149.6 484.9 148.1 485.6 151.3 486.3 151.7 487.0 153.4 487.7 154.1 488.4 154.5 489.1 156.6 489.8 156.7 490.5 157.9 491.2 156.8 491.9 157.4 492.6 158.9 493.3 158.8 494.0 158.3 494.7 158.3 495.4 158.8 496.1 159.4 496.8 160.3 497.5 160.4 498.2 161.0 498.9 161.3 499.6 161.2 500.3 162.0 501.0 162.0 501.7 161.7 502.4 161.8 503.1 162.0 503.8 161.9 504.5 161.7 505.2 162.4 505.9 162.4 506.6 162.9 507.3 162.7 508.0 163.0 508.7 163.2 509.4 163.0 510.1 163.3 510.8 163.1 511.5 163.2" stroke="#959500" stroke-width="1.4" fill="none"/>
<path d="M384.8 164.0 385.5 164.1 386.2 164.1 386.9 164.2 387.6 164.2 388.3 164.3 389.0 164.3 389.7 164.4 390.4 164.4 391.1 164.5 391.8 164.5 392.5 164.6 393.2 164.6 393.9 164.7 394.6 164.7 395.3 164.7 396.0 164.8 396.7 164.8 397.4 164.8 398.1 164.8 398.8 164.9 399.5 164.9 400.2 164.9 400.9 164.9 401.6 164.9 402.3 164.9 403.0 164.9 403.7 164.9 404.4 164.9 405.1 164.9 405.8 164.9 406.5 164.8 407.2 164.8 407.9 164.8 408.6 164.7 409.3 164.7 410.0 164.6 410.7 164.5 411.4 164.5 412.1 164.4 412.8 164.3 413.5 164.2 414.2 164.1 414.9 164.0 415.6 163.9 416.3 163.8 417.0 163.6 417.7 163.5 418.4 163.4 419.1 163.2 419.8 163.0 420.5 162.8 421.2 162.6 421.9 162.4 422.6 162.2 423.3 162.0 424.0 161.7 424.7 161.4 425.4 161.1 426.1 160.8 426.8 160.4 427.5 159.9 428.2 159.5 428.9 158.9 429.6 158.3 430.3 157.6 431.0 156.8 431.7 155.9 432.4 155.0 433.1 153.9 433.8 152.9 434.5 151.8 435.2 150.6 435.9 149.5 436.6 148.4 437.3 147.4 438.0 146.4 438.7 145.5 439.4 144.8 440.1 144.2 440.8 143.8 441.5 143.7 442.2 143.8 442.9 144.2 443.6 144.7 444.3 145.3 445.0 146.1 445.7 146.9 446.4 147.6 447.1 148.4 447.8 149.1 448.5 149.8 449.2 150.5 449.9 151.2 450.6 151.9 451.3 152.5 452.0 153.2 452.7 153.8 453.4 154.5 454.1 155.0 454.8 155.6 455.5 156.0 456.2 156.4 456.9 156.7 457.6 156.8 458.3 156.8 459.0 156.7 459.7 156.4 460.4 156.0 461.1 155.5 461.8 154.9 462.5 154.2 463.2 153.4 463.9 152.5 464.6 151.5 465.3 150.4 466.0 149.2 466.7 148.0 467.4 146.8 468.1 145.5 468.8 144.2 469.5 143.0 470.2 141.7 470.9 140.4 471.6 139.3 472.3 138.2 473.0 137.3 473.7 136.6 474.4 136.2 475.1 136.0 475.8 136.2 476.5 136.6 477.2 137.2 477.9 138.0 478.6 139.0 479.3 140.2 480.0 141.5 480.7 142.8 481.4 144.3 482.1 145.8 482.8 147.3 483.5 148.7 484.2 150.1 484.9 151.4 485.6 152.5 486.3 153.5 487.0 154.4 487.7 155.1 488.4 155.7 489.1 156.3 489.8 156.8 490.5 157.2 491.2 157.6 491.9 157.9 492.6 158.2 493.3 158.6 494.0 158.9 494.7 159.2 495.4 159.5 496.1 159.8 496.8 160.1 497.5 160.3 498.2 160.6 498.9 160.8 499.6 161.1 500.3 161.3 501.0 161.5 501.7 161.7 502.4 161.9 503.1 162.1 503.8 162.2 504.5 162.4 505.2 162.5 505.9 162.7 506.6 162.8 507.3 162.9 508.0 163.0 508.7 163.1 509.4 163.2 510.1 163.2 510.8 163.3 511.5 163.4 512.2 163.4 512.9 163.5 513.6 163.5 514.3 163.6 515.0 163.6 515.7 163.6 516.4 163.7 517.1 163.7 517.8 163.7 518.5 163.8 519.2 163.8 519.9 163.8 520.6 163.8 521.3 163.8 522.0 163.9 522.7 163.9 523.4 163.9 524.1 163.9 524.8 163.9 525.5 163.9 526.2 163.9 526.9 164.0 527.6 164.0 528.3 164.0 529.0 164.0 529.7 164.0 530.4 164.0 531.1 164.0 531.8 164.0 532.5 164.0 533.2 164.0 533.9 164.0 534.6 164.0 535.3 164.0 536.0 164.0" stroke="#8c35e6" stroke-width="1.35" fill="none"/>
<rect x="388.90" y="127.40" width="54.10" height="17.40" fill="#000"/>
<rect x="384.80" y="124.50" width="55.00" height="17.80" fill="#fff" stroke="#d0d0d0" stroke-width="0.7"/>
<text x="387.40" y="135.50" font-size="10.8" stroke="#000" stroke-width="0.22" font-weight="bold">SnO</text>
<text x="409.80" y="139.70" font-size="6.6" stroke="#000" stroke-width="0.22" font-weight="bold">2</text>
<text x="413.67" y="135.50" font-size="10.8" stroke="#000" stroke-width="0.22" font-weight="bold">/PtO</text>
<text x="436.07" y="139.50" font-size="6.6" stroke="#000" stroke-width="0.22" font-weight="bold">x</text>
<line x1="384.80" y1="174.80" x2="384.80" y2="219.10" stroke="#b8b8b8" stroke-width="0.9"/>
<line x1="384.80" y1="219.10" x2="543.80" y2="219.10" stroke="#b8b8b8" stroke-width="0.9"/>
<line x1="394.56" y1="219.10" x2="394.56" y2="217.90" stroke="#9a9a9a" stroke-width="0.7"/>
<line x1="404.51" y1="219.10" x2="404.51" y2="217.10" stroke="#9a9a9a" stroke-width="0.7"/>
<line x1="414.47" y1="219.10" x2="414.47" y2="217.90" stroke="#9a9a9a" stroke-width="0.7"/>
<line x1="424.42" y1="219.10" x2="424.42" y2="217.10" stroke="#9a9a9a" stroke-width="0.7"/>
<line x1="434.38" y1="219.10" x2="434.38" y2="217.90" stroke="#9a9a9a" stroke-width="0.7"/>
<line x1="444.33" y1="219.10" x2="444.33" y2="217.10" stroke="#9a9a9a" stroke-width="0.7"/>
<line x1="454.29" y1="219.10" x2="454.29" y2="217.90" stroke="#9a9a9a" stroke-width="0.7"/>
<line x1="464.24" y1="219.10" x2="464.24" y2="217.10" stroke="#9a9a9a" stroke-width="0.7"/>
<line x1="474.20" y1="219.10" x2="474.20" y2="217.90" stroke="#9a9a9a" stroke-width="0.7"/>
<line x1="484.15" y1="219.10" x2="484.15" y2="217.10" stroke="#9a9a9a" stroke-width="0.7"/>
<line x1="494.11" y1="219.10" x2="494.11" y2="217.90" stroke="#9a9a9a" stroke-width="0.7"/>
<line x1="504.06" y1="219.10" x2="504.06" y2="217.10" stroke="#9a9a9a" stroke-width="0.7"/>
<line x1="514.01" y1="219.10" x2="514.01" y2="217.90" stroke="#9a9a9a" stroke-width="0.7"/>
<line x1="523.97" y1="219.10" x2="523.97" y2="217.10" stroke="#9a9a9a" stroke-width="0.7"/>
<line x1="533.92" y1="219.10" x2="533.92" y2="217.90" stroke="#9a9a9a" stroke-width="0.7"/>
<path d="M418.4 215.1 419.1 215.2 419.8 214.7 420.5 214.5 421.2 214.7 421.9 214.9 422.6 214.6 423.3 213.9 424.0 213.7 424.7 214.1 425.4 212.6 426.1 212.8 426.8 212.1 427.5 211.3 428.2 210.7 428.9 209.0 429.6 208.1 430.3 208.7 431.0 206.3 431.7 205.0 432.4 203.0 433.1 202.6 433.8 202.9 434.5 202.9 435.2 201.7 435.9 200.9 436.6 200.2 437.3 199.4 438.0 199.6 438.7 198.1 439.4 198.9 440.1 197.8 440.8 195.8 441.5 195.7 442.2 197.0 442.9 197.2 443.6 196.7 444.3 197.4 445.0 199.0 445.7 200.0 446.4 201.2 447.1 200.3 447.8 201.8 448.5 203.4 449.2 203.6 449.9 205.6 450.6 204.6 451.3 205.3 452.0 206.2 452.7 206.5 453.4 207.3 454.1 208.2 454.8 208.5 455.5 208.6 456.2 208.9 456.9 209.3 457.6 208.4 458.3 209.2 459.0 208.2 459.7 208.1 460.4 206.9 461.1 206.9 461.8 205.9 462.5 205.0 463.2 203.6 463.9 203.3 464.7 203.8 465.4 199.9 466.1 200.5 466.8 199.6 467.5 198.1 468.2 196.0 468.9 198.0 469.6 196.3 470.3 196.2 471.0 194.0 471.7 192.4 472.4 193.8 473.1 193.4 473.8 191.6 474.5 191.1 475.2 191.8 475.9 190.2 476.6 189.8 477.3 190.9 478.0 192.7 478.7 193.3 479.4 193.0 480.1 194.9 480.8 194.1 481.5 194.1 482.2 198.1 482.9 196.6 483.6 198.3 484.3 199.4 485.0 200.1 485.7 201.2 486.4 202.8 487.1 203.9 487.8 204.0 488.5 205.4 489.2 207.6 489.9 208.3 490.6 208.4 491.3 209.4 492.0 209.6 492.7 210.1 493.4 211.1 494.1 212.9 494.8 212.6 495.5 212.3 496.2 213.3 496.9 213.6 497.6 214.4 498.3 214.8 499.0 214.6 499.7 214.8" stroke="#959500" stroke-width="1.4" fill="none"/>
<path d="M384.8 215.0 385.5 215.0 386.2 215.0 386.9 215.0 387.6 214.9 388.3 214.9 389.0 214.9 389.7 214.9 390.4 214.9 391.1 214.9 391.8 214.9 392.5 214.8 393.2 214.8 393.9 214.8 394.6 214.8 395.3 214.8 396.0 214.8 396.7 214.8 397.4 214.8 398.1 214.8 398.8 214.7 399.5 214.7 400.2 214.7 400.9 214.7 401.6 214.7 402.3 214.7 403.0 214.7 403.7 214.7 404.4 214.7 405.1 214.7 405.8 214.7 406.5 214.7 407.2 214.7 407.9 214.7 408.6 214.7 409.3 214.7 410.0 214.7 410.7 214.7 411.4 214.7 412.1 214.8 412.8 214.8 413.5 214.8 414.2 214.8 414.9 214.8 415.6 214.8 416.3 214.8 417.0 214.9 417.7 214.9 418.4 214.9 419.1 214.9 419.8 214.9 420.5 214.9 421.2 214.9 421.9 214.7 422.6 214.6 423.3 214.4 424.0 214.0 424.7 213.6 425.4 213.2 426.1 212.6 426.8 211.9 427.5 211.2 428.2 210.4 428.9 209.5 429.6 208.6 430.3 207.7 431.0 206.8 431.7 205.9 432.4 204.9 433.1 204.0 433.8 203.1 434.5 202.3 435.2 201.5 435.9 200.8 436.6 200.2 437.3 199.7 438.0 199.3 438.7 198.9 439.4 198.7 440.1 198.5 440.8 198.5 441.5 198.5 442.2 198.7 442.9 198.9 443.6 199.2 444.3 199.5 445.0 200.0 445.7 200.5 446.4 201.1 447.1 201.7 447.8 202.3 448.5 203.0 449.2 203.7 449.9 204.5 450.6 205.2 451.3 205.9 452.0 206.6 452.7 207.2 453.4 207.9 454.1 208.4 454.8 208.9 455.5 209.3 456.2 209.6 456.9 209.7 457.6 209.8 458.3 209.6 459.0 209.3 459.7 208.8 460.4 208.3 461.1 207.5 461.8 206.7 462.5 205.9 463.2 204.9 463.9 204.0 464.7 203.1 465.4 202.1 466.1 201.2 466.8 200.2 467.5 199.3 468.2 198.5 468.9 197.6 469.6 196.8 470.3 196.0 471.0 195.3 471.7 194.6 472.4 194.0 473.1 193.5 473.8 193.0 474.5 192.7 475.2 192.5 475.9 192.4 476.6 192.4 477.3 192.6 478.0 192.8 478.7 193.2 479.4 193.7 480.1 194.3 480.8 195.0 481.5 195.8 482.2 196.6 482.9 197.6 483.6 198.6 484.3 199.6 485.0 200.7 485.7 201.7 486.4 202.8 487.1 203.9 487.8 205.0 488.5 206.0 489.2 207.0 489.9 207.9 490.6 208.8 491.3 209.7 492.0 210.5 492.7 211.2 493.4 211.8 494.1 212.4 494.8 212.9 495.5 213.3 496.2 213.7 496.9 214.0 497.6 214.2 498.3 214.4 499.0 214.6 499.7 214.7 500.4 214.8 501.1 214.9 501.8 215.0 502.5 215.0 503.2 215.0 503.9 215.0 504.6 215.0 505.3 215.0 506.0 215.0 506.7 215.0 507.4 215.0 508.1 215.0 508.8 215.0 509.5 215.0 510.2 215.0 510.9 215.0 511.6 214.9 512.3 214.9 513.0 214.9 513.7 214.9 514.4 214.9 515.1 214.9 515.8 214.9 516.5 214.9 517.2 214.9 517.9 214.9 518.6 214.9 519.3 214.9 520.0 214.9 520.7 214.9 521.4 214.9 522.1 214.9 522.8 214.9 523.5 214.9 524.2 214.9 524.9 214.9 525.6 214.9 526.3 214.9 527.0 214.9 527.7 214.9 528.4 214.9 529.1 214.9 529.8 214.9 530.5 214.9 531.2 214.9 531.9 214.9 532.6 214.9 533.3 214.9 534.0 215.0 534.7 215.0 535.4 215.0 536.1 215.0 536.8 215.0 537.5 215.0 538.2 215.0 538.9 215.0 539.6 215.0 540.3 215.0 541.0 215.0 541.7 215.0 542.4 215.0 543.1 215.0 543.8 215.0" stroke="#8c35e6" stroke-width="1.35" fill="none"/>
<rect x="389.50" y="177.90" width="53.80" height="17.60" fill="#000"/>
<rect x="384.80" y="174.80" width="55.30" height="18.10" fill="#fff" stroke="#d0d0d0" stroke-width="0.7"/>
<text x="388.30" y="185.90" font-size="10.8" stroke="#000" stroke-width="0.22" font-weight="bold">In</text>
<text x="398.10" y="190.10" font-size="6.6" stroke="#000" stroke-width="0.22" font-weight="bold">2</text>
<text x="401.97" y="185.90" font-size="10.8" stroke="#000" stroke-width="0.22" font-weight="bold">O</text>
<text x="410.57" y="190.10" font-size="6.6" stroke="#000" stroke-width="0.22" font-weight="bold">3</text>
<text x="414.44" y="185.90" font-size="10.8" stroke="#000" stroke-width="0.22" font-weight="bold">/PtO</text>
<text x="436.84" y="189.90" font-size="6.6" stroke="#000" stroke-width="0.22" font-weight="bold">x</text>
<line x1="384.80" y1="222.50" x2="384.80" y2="267.70" stroke="#b8b8b8" stroke-width="0.9"/>
<line x1="384.80" y1="267.70" x2="543.80" y2="267.70" stroke="#b8b8b8" stroke-width="0.9"/>
<line x1="394.56" y1="267.70" x2="394.56" y2="266.50" stroke="#9a9a9a" stroke-width="0.7"/>
<line x1="404.51" y1="267.70" x2="404.51" y2="265.70" stroke="#9a9a9a" stroke-width="0.7"/>
<line x1="414.47" y1="267.70" x2="414.47" y2="266.50" stroke="#9a9a9a" stroke-width="0.7"/>
<line x1="424.42" y1="267.70" x2="424.42" y2="265.70" stroke="#9a9a9a" stroke-width="0.7"/>
<line x1="434.38" y1="267.70" x2="434.38" y2="266.50" stroke="#9a9a9a" stroke-width="0.7"/>
<line x1="444.33" y1="267.70" x2="444.33" y2="265.70" stroke="#9a9a9a" stroke-width="0.7"/>
<line x1="454.29" y1="267.70" x2="454.29" y2="266.50" stroke="#9a9a9a" stroke-width="0.7"/>
<line x1="464.24" y1="267.70" x2="464.24" y2="265.70" stroke="#9a9a9a" stroke-width="0.7"/>
<line x1="474.20" y1="267.70" x2="474.20" y2="266.50" stroke="#9a9a9a" stroke-width="0.7"/>
<line x1="484.15" y1="267.70" x2="484.15" y2="265.70" stroke="#9a9a9a" stroke-width="0.7"/>
<line x1="494.11" y1="267.70" x2="494.11" y2="266.50" stroke="#9a9a9a" stroke-width="0.7"/>
<line x1="504.06" y1="267.70" x2="504.06" y2="265.70" stroke="#9a9a9a" stroke-width="0.7"/>
<line x1="514.01" y1="267.70" x2="514.01" y2="266.50" stroke="#9a9a9a" stroke-width="0.7"/>
<line x1="523.97" y1="267.70" x2="523.97" y2="265.70" stroke="#9a9a9a" stroke-width="0.7"/>
<line x1="533.92" y1="267.70" x2="533.92" y2="266.50" stroke="#9a9a9a" stroke-width="0.7"/>
<path d="M387.8 261.0 388.5 261.1 389.2 261.3 389.9 261.3 390.6 261.5 391.3 261.6 392.0 261.8 392.7 261.6 393.4 262.2 394.1 261.4 394.8 261.7 395.5 261.9 396.2 261.7 396.9 261.5 397.6 261.5 398.3 261.5 399.0 261.4 399.7 260.9 400.4 260.9 401.1 260.5 401.8 260.8 402.5 260.3 403.2 260.2 403.9 260.4 404.6 259.8 405.3 259.8 406.0 259.3 406.7 259.2 407.4 258.3 408.1 258.3 408.8 258.3 409.5 257.9 410.2 258.9 410.9 256.6 411.6 255.5 412.3 256.1 413.0 256.0 413.7 255.2 414.4 255.1 415.1 255.1 415.8 252.8 416.5 250.9 417.2 250.6 417.9 251.0 418.6 249.9 419.3 248.5 420.0 247.9 420.7 247.1 421.4 244.5 422.1 245.2 422.9 243.6 423.6 243.2 424.3 242.3 425.0 242.1 425.7 242.4 426.4 240.8 427.1 240.3 427.8 240.5 428.5 239.6 429.2 237.7 429.9 238.3 430.6 236.8 431.3 236.1 432.0 236.1 432.7 237.1 433.4 234.3 434.1 233.8 434.8 234.0 435.5 232.6 436.2 233.2 436.9 234.5 437.6 231.0 438.3 232.1 439.0 231.3 439.7 234.1 440.4 232.7 441.1 231.9 441.8 230.3 442.5 228.3 443.2 228.7 443.9 228.7 444.6 228.0 445.3 229.8 446.0 228.8 446.7 226.3 447.4 226.4 448.1 227.3 448.8 225.6 449.5 226.6 450.2 226.3 450.9 227.3 451.6 227.5 452.3 226.6 453.0 228.8 453.7 226.8 454.4 227.9 455.1 225.8 455.8 225.3 456.5 225.5 457.2 225.7 457.9 227.4 458.6 224.7 459.3 228.2 460.0 225.4 460.7 228.3 461.4 227.4 462.1 226.5 462.8 228.0 463.5 226.9 464.2 227.3 464.9 227.6 465.6 231.4 466.3 227.5 467.0 230.2 467.7 228.1 468.4 227.0 469.1 226.9 469.8 229.1 470.5 227.6 471.2 226.5 471.9 227.9 472.6 227.7 473.3 228.6 474.0 226.0 474.7 228.8 475.4 229.2 476.1 227.0 476.8 227.2 477.5 228.6 478.2 228.5 478.9 230.4 479.6 231.3 480.3 231.7 481.0 231.4 481.7 231.3 482.4 234.9 483.1 235.1 483.8 238.6 484.5 241.1 485.2 240.9 485.9 242.5 486.6 244.2 487.3 245.1 488.0 244.4 488.7 245.2 489.4 246.6 490.1 248.0 490.8 248.3 491.5 249.8 492.2 251.6 493.0 251.3 493.7 252.0 494.4 252.0 495.1 253.1 495.8 254.6 496.5 255.6 497.2 255.5 497.9 255.2 498.6 257.1 499.3 255.5 500.0 256.3 500.7 256.6 501.4 257.3 502.1 257.9 502.8 257.8 503.5 259.8 504.2 259.7 504.9 259.3 505.6 258.7 506.3 258.2 507.0 259.4 507.7 259.6 508.4 259.6 509.1 260.1 509.8 259.9 510.5 259.1 511.2 258.9 511.9 259.4 512.6 259.8 513.3 260.1 514.0 260.2 514.7 260.1 515.4 259.9 516.1 260.3 516.8 260.5 517.5 260.2 518.2 260.0 518.9 260.2 519.6 260.1 520.3 260.5 521.0 260.2 521.7 260.6 522.4 260.4 523.1 260.8 523.8 261.4 524.5 260.7 525.2 260.8 525.9 261.4 526.6 261.2 527.3 261.1 528.0 261.1" stroke="#959500" stroke-width="1.3" fill="none"/>
<path d="M384.8 261.0 385.4 261.1 386.0 261.1 386.6 261.2 387.2 261.3 387.8 261.4 388.4 261.4 389.0 261.5 389.6 261.5 390.2 261.6 390.8 261.6 391.4 261.6 392.0 261.6 392.6 261.6 393.2 261.6 393.8 261.6 394.4 261.6 395.0 261.5 395.6 261.4 396.2 261.3 396.8 261.3 397.4 261.1 398.0 261.0 398.6 260.9 399.2 260.8 399.8 260.6 400.4 260.5 401.0 260.3 401.6 260.1 402.2 260.0 402.8 259.8 403.4 259.7 404.0 259.5 404.6 259.3 405.2 259.2 405.8 259.0 406.4 258.8 407.0 258.7 407.6 258.4 408.2 258.2 408.8 258.0 409.4 257.7 410.0 257.4 410.6 257.1 411.2 256.7 411.8 256.3 412.4 255.8 413.0 255.3 413.6 254.8 414.2 254.3 414.8 253.8 415.4 253.2 416.0 252.6 416.6 252.1 417.2 251.6 417.8 251.0 418.4 250.5 419.0 250.1 419.6 249.6 420.2 249.1 420.8 248.7 421.4 248.3 422.0 247.8 422.6 247.4 423.2 247.0 423.8 246.6 424.4 246.2 425.0 245.8 425.6 245.3 426.2 244.9 426.8 244.6 427.4 244.2 428.0 243.8 428.6 243.5 429.2 243.2 429.8 242.9 430.4 242.6 431.0 242.3 431.6 242.1 432.2 241.9 432.8 241.7 433.4 241.5 434.0 241.3 434.6 241.1 435.2 240.9 435.8 240.8 436.4 240.6 437.0 240.4 437.6 240.3 438.2 240.1 438.8 240.0 439.4 239.8 440.0 239.7 440.6 239.6 441.2 239.5 441.8 239.4 442.4 239.3 443.0 239.2 443.6 239.1 444.2 239.0 444.8 239.0 445.4 238.9 446.0 238.8 446.6 238.8 447.2 238.7 447.8 238.6 448.4 238.6 449.0 238.5 449.6 238.4 450.2 238.4 450.8 238.3 451.4 238.2 452.0 238.1 452.6 238.0 453.2 237.9 453.8 237.7 454.4 237.6 455.0 237.4 455.6 237.3 456.2 237.1 456.8 236.8 457.4 236.6 458.0 236.3 458.6 236.1 459.2 235.8 459.8 235.5 460.4 235.1 461.0 234.8 461.6 234.6 462.2 234.3 462.8 234.1 463.4 233.9 464.0 233.8 464.6 233.7 465.2 233.7 465.8 233.7 466.4 233.8 467.0 234.0 467.6 234.2 468.2 234.4 468.8 234.7 469.4 235.0 470.0 235.3 470.6 235.7 471.2 236.1 471.8 236.5 472.4 236.9 473.0 237.4 473.6 237.9 474.2 238.4 474.8 239.0 475.4 239.5 476.0 240.1 476.6 240.8 477.2 241.4 477.8 242.1 478.4 242.8 479.0 243.4 479.6 244.1 480.2 244.8 480.8 245.6 481.4 246.2 482.0 246.9 482.6 247.6 483.2 248.3 483.8 248.9 484.4 249.5 485.0 250.1 485.6 250.7 486.2 251.3 486.8 251.8 487.4 252.3 488.0 252.8 488.6 253.3 489.2 253.8 489.8 254.2 490.4 254.6 491.0 255.0 491.6 255.4 492.2 255.8 492.8 256.1 493.4 256.4 494.0 256.7 494.6 257.0 495.2 257.2 495.8 257.4 496.4 257.7 497.0 257.9 497.6 258.0 498.2 258.2 498.8 258.4 499.4 258.5 500.0 258.7 500.6 258.8 501.2 259.0 501.8 259.1 502.4 259.2 503.0 259.3 503.6 259.4 504.2 259.5 504.8 259.7 505.4 259.7 506.0 259.8 506.6 259.9 507.2 260.0 507.8 260.1 508.4 260.2 509.0 260.2 509.6 260.3 510.2 260.4 510.8 260.4 511.4 260.5 512.0 260.5 512.6 260.6 513.2 260.6 513.8 260.7 514.4 260.7 515.0 260.8 515.6 260.8 516.2 260.8 516.8 260.9 517.4 260.9 518.0 260.9 518.6 260.9 519.2 261.0 519.8 261.0 520.4 261.0 521.0 261.0 521.6 261.0 522.2 261.1 522.8 261.1 523.4 261.1 524.0 261.1 524.6 261.1 525.2 261.1 525.8 261.1 526.4 261.1 527.0 261.1 527.6 261.1 528.2 261.1 528.8 261.2 529.4 261.2 530.0 261.2 530.6 261.2 531.2 261.2 531.8 261.1 532.4 261.1 533.0 261.1 533.6 261.1 534.2 261.1 534.8 261.1 535.4 261.1 536.0 261.1 536.6 261.1 537.2 261.1 537.8 261.1 538.4 261.1 539.0 261.1 539.6 261.1 540.2 261.1 540.8 261.0 541.4 261.0 542.0 261.0 542.6 261.0 543.2 261.0 543.8 261.0" stroke="#8c35e6" stroke-width="1.35" fill="none"/>
<path d="M384.8 261.0 385.4 261.0 386.0 261.1 386.6 261.1 387.2 261.1 387.8 261.1 388.4 261.2 389.0 261.2 389.6 261.2 390.2 261.2 390.8 261.3 391.4 261.3 392.0 261.3 392.6 261.3 393.2 261.3 393.8 261.3 394.4 261.3 395.0 261.3 395.6 261.3 396.2 261.3 396.8 261.3 397.4 261.3 398.0 261.3 398.6 261.3 399.2 261.2 399.8 261.2 400.4 261.2 401.0 261.1 401.6 261.1 402.2 261.0 402.8 261.0 403.4 260.9 404.0 260.9 404.6 260.8 405.2 260.8 405.8 260.7 406.4 260.6 407.0 260.6 407.6 260.5 408.2 260.4 408.8 260.3 409.4 260.3 410.0 260.2 410.6 260.1 411.2 260.1 411.8 260.0 412.4 259.9 413.0 259.8 413.6 259.7 414.2 259.6 414.8 259.5 415.4 259.4 416.0 259.2 416.6 259.1 417.2 258.9 417.8 258.7 418.4 258.5 419.0 258.2 419.6 258.0 420.2 257.7 420.8 257.4 421.4 257.1 422.0 256.8 422.6 256.5 423.2 256.2 423.8 255.9 424.4 255.6 425.0 255.3 425.6 255.0 426.2 254.7 426.8 254.4 427.4 254.1 428.0 253.9 428.6 253.6 429.2 253.3 429.8 253.1 430.4 252.8 431.0 252.6 431.6 252.3 432.2 252.1 432.8 251.9 433.4 251.7 434.0 251.5 434.6 251.3 435.2 251.1 435.8 250.9 436.4 250.7 437.0 250.6 437.6 250.5 438.2 250.4 438.8 250.3 439.4 250.2 440.0 250.2 440.6 250.2 441.2 250.2 441.8 250.3 442.4 250.4 443.0 250.5 443.6 250.6 444.2 250.8 444.8 250.9 445.4 251.1 446.0 251.3 446.6 251.5 447.2 251.7 447.8 251.9 448.4 252.1 449.0 252.3 449.6 252.5 450.2 252.7 450.8 252.9 451.4 253.0 452.0 253.2 452.6 253.4 453.2 253.5 453.8 253.6 454.4 253.7 455.0 253.8 455.6 253.8 456.2 253.8 456.8 253.8 457.4 253.7 458.0 253.6 458.6 253.5 459.2 253.3 459.8 253.1 460.4 252.9 461.0 252.6 461.6 252.3 462.2 252.0 462.8 251.7 463.4 251.3 464.0 251.0 464.6 250.6 465.2 250.3 465.8 249.9 466.4 249.6 467.0 249.3 467.6 249.0 468.2 248.7 468.8 248.4 469.4 248.2 470.0 248.0 470.6 247.9 471.2 247.8 471.8 247.8 472.4 247.8 473.0 247.9 473.6 248.1 474.2 248.2 474.8 248.5 475.4 248.8 476.0 249.1 476.6 249.5 477.2 249.9 477.8 250.3 478.4 250.8 479.0 251.2 479.6 251.7 480.2 252.2 480.8 252.6 481.4 253.1 482.0 253.5 482.6 253.9 483.2 254.3 483.8 254.7 484.4 255.1 485.0 255.4 485.6 255.8 486.2 256.1 486.8 256.4 487.4 256.7 488.0 257.0 488.6 257.2 489.2 257.5 489.8 257.7 490.4 258.0 491.0 258.2 491.6 258.4 492.2 258.6 492.8 258.7 493.4 258.9 494.0 259.1 494.6 259.2 495.2 259.4 495.8 259.5 496.4 259.6 497.0 259.7 497.6 259.9 498.2 260.0 498.8 260.1 499.4 260.1 500.0 260.2 500.6 260.3 501.2 260.4 501.8 260.4 502.4 260.5 503.0 260.5 503.6 260.6 504.2 260.6 504.8 260.7 505.4 260.7 506.0 260.8 506.6 260.8 507.2 260.8 507.8 260.8 508.4 260.9 509.0 260.9 509.6 260.9 510.2 260.9 510.8 260.9 511.4 261.0 512.0 261.0 512.6 261.0 513.2 261.0 513.8 261.0 514.4 261.0 515.0 261.0 515.6 261.0 516.2 261.0 516.8 261.0 517.4 261.0 518.0 261.0 518.6 261.0 519.2 261.0 519.8 261.0 520.4 261.0 521.0 261.0 521.6 261.0 522.2 261.0 522.8 261.0 523.4 261.1 524.0 261.1 524.6 261.1 525.2 261.1 525.8 261.1 526.4 261.1 527.0 261.1 527.6 261.1 528.2 261.1 528.8 261.1 529.4 261.1 530.0 261.1 530.6 261.1 531.2 261.1 531.8 261.1 532.4 261.0 533.0 261.0 533.6 261.0 534.2 261.0 534.8 261.0 535.4 261.0 536.0 261.0 536.6 261.0 537.2 261.0 537.8 261.0 538.4 261.0 539.0 261.0 539.6 261.0 540.2 261.0 540.8 261.0 541.4 261.0 542.0 261.0 542.6 261.0 543.2 261.0 543.8 261.0" stroke="#8c35e6" stroke-width="1.35" fill="none"/>
<line x1="476.20" y1="22.70" x2="476.20" y2="267.70" stroke="#8c35e6" stroke-width="1.2" stroke-dasharray="2.6,2.4"/>
<line x1="488.60" y1="42.00" x2="488.60" y2="121.00" stroke="#ff0000" stroke-width="1.2" stroke-dasharray="2.6,2.4"/>
<rect x="388.90" y="225.90" width="50.30" height="17.60" fill="#000"/>
<rect x="384.80" y="222.50" width="51.20" height="18.40" fill="#fff" stroke="#d0d0d0" stroke-width="0.7"/>
<text x="387.40" y="233.90" font-size="10.8" stroke="#000" stroke-width="0.22" font-weight="bold">ZnO/PtO</text>
<text x="431.40" y="237.90" font-size="6.6" stroke="#000" stroke-width="0.22" font-weight="bold">x</text>
<text x="384.60" y="275.70" font-size="8.2" fill="#1a1a1a" stroke="#1a1a1a" stroke-width="0.22" text-anchor="middle">82</text>
<text x="404.51" y="275.70" font-size="8.2" fill="#1a1a1a" stroke="#1a1a1a" stroke-width="0.22" text-anchor="middle">80</text>
<text x="424.42" y="275.70" font-size="8.2" fill="#1a1a1a" stroke="#1a1a1a" stroke-width="0.22" text-anchor="middle">78</text>
<text x="444.33" y="275.70" font-size="8.2" fill="#1a1a1a" stroke="#1a1a1a" stroke-width="0.22" text-anchor="middle">76</text>
<text x="464.24" y="275.70" font-size="8.2" fill="#1a1a1a" stroke="#1a1a1a" stroke-width="0.22" text-anchor="middle">74</text>
<text x="484.15" y="275.70" font-size="8.2" fill="#1a1a1a" stroke="#1a1a1a" stroke-width="0.22" text-anchor="middle">72</text>
<text x="504.06" y="275.70" font-size="8.2" fill="#1a1a1a" stroke="#1a1a1a" stroke-width="0.22" text-anchor="middle">70</text>
<text x="523.97" y="275.70" font-size="8.2" fill="#1a1a1a" stroke="#1a1a1a" stroke-width="0.22" text-anchor="middle">68</text>
<text x="543.88" y="275.70" font-size="8.2" fill="#1a1a1a" stroke="#1a1a1a" stroke-width="0.22" text-anchor="middle">66</text>
<text x="461.55" y="288.50" font-size="8.58" fill="#1a1a1a" stroke="#1a1a1a" stroke-width="0.22" text-anchor="middle">Binding energy / eV</text>
<text x="377.20" y="145.00" font-size="12.2" fill="#1a1a1a" stroke="#1a1a1a" stroke-width="0.22" text-anchor="middle" transform="rotate(-90 377.2 145.0)">Intensity</text>
</svg></body></html>
